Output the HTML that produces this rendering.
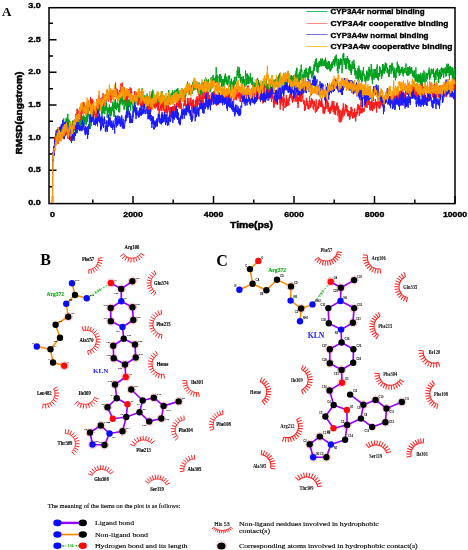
<!DOCTYPE html>
<html lang="en"><head><meta charset="utf-8"><title>Figure</title>
<style>html,body{margin:0;padding:0;background:#fff}svg{display:block}</style>
</head><body>
<svg width="468" height="550" viewBox="0 0 468 550">
<rect width="468" height="550" fill="#fff"/>
<rect x="49.0" y="7.7" width="406.0" height="195.9" fill="none" stroke="#000" stroke-width="1.5"/>
<path d="M49.0,186.7h4 M49.0,170.3h7.5 M49.0,154.0h4 M49.0,137.7h7.5 M49.0,121.3h4 M49.0,105.0h7.5 M49.0,88.7h4 M49.0,72.3h7.5 M49.0,56.0h4 M49.0,39.7h7.5 M49.0,23.3h4 M52.5,203.6v-7.5 M92.8,203.6v-4 M133.0,203.6v-7.5 M173.2,203.6v-4 M213.5,203.6v-7.5 M253.8,203.6v-4 M294.0,203.6v-7.5 M334.2,203.6v-4 M374.5,203.6v-7.5 M414.8,203.6v-4 M455.0,203.6v-7.5" stroke="#000" stroke-width="1.45" fill="none"/>
<g fill="none" stroke-linejoin="round" stroke-width="1.0">
<polyline stroke="#00a01e" points="52.5,203.0 52.6,179.5 52.7,160.4 52.8,157.2 52.9,155.5 53.1,152.5 53.2,154.7 53.3,155.2 53.4,151.8 53.5,154.6 53.6,158.3 53.7,155.5 53.8,151.0 54.0,151.6 54.1,150.9 54.2,151.6 54.3,147.8 54.4,147.9 54.5,143.6 54.6,146.3 54.7,140.0 54.8,141.5 55.0,141.9 55.1,145.4 55.2,139.3 55.3,138.2 55.4,135.3 55.5,137.1 55.6,137.5 55.7,133.1 55.9,136.4 56.0,138.2 56.1,137.5 56.2,137.2 56.3,142.1 56.4,137.9 56.5,139.4 56.6,143.3 56.7,131.7 56.9,135.5 57.0,133.0 57.1,129.1 57.2,133.1 57.3,131.7 57.4,136.5 57.5,135.2 57.6,134.5 57.8,131.5 57.9,136.8 58.0,130.8 58.1,133.4 58.2,129.3 58.3,132.8 58.4,137.2 58.5,129.4 58.7,136.4 58.8,134.2 58.9,135.7 59.0,140.8 59.1,136.3 59.2,137.9 59.3,131.8 59.4,132.0 59.5,135.2 59.7,129.9 59.8,129.4 59.9,131.7 60.0,138.1 60.1,135.2 60.2,131.2 60.3,136.4 60.4,129.9 60.6,128.1 60.7,131.3 60.8,129.9 60.9,132.1 61.0,133.8 61.1,132.9 61.2,131.9 61.3,128.4 61.4,130.0 61.6,129.8 61.7,132.6 61.8,128.0 61.9,127.1 62.0,127.1 62.1,131.3 62.2,132.6 62.3,130.3 62.5,126.5 62.6,128.2 62.7,129.9 62.8,132.8 62.9,128.0 63.0,125.5 63.1,131.3 63.2,123.5 63.3,125.4 63.5,126.6 63.6,131.1 63.7,118.5 63.8,128.2 63.9,122.9 64.0,122.3 64.1,126.6 64.2,126.5 64.4,128.4 64.5,123.5 64.6,124.1 64.7,125.5 64.8,124.6 64.9,121.9 65.0,125.8 65.1,126.3 65.2,128.5 65.4,125.2 65.5,127.7 65.6,125.9 65.7,127.5 65.8,126.2 65.9,127.3 66.0,122.3 66.1,118.5 66.3,122.8 66.4,119.7 66.5,120.2 66.6,120.5 66.7,123.2 66.8,118.2 66.9,117.6 67.0,121.2 67.2,120.2 67.3,121.9 67.4,125.1 67.5,123.4 67.6,127.9 67.7,125.9 67.8,113.9 67.9,121.0 68.0,119.1 68.2,121.0 68.3,121.7 68.4,123.8 68.5,122.5 68.6,126.7 68.7,122.7 68.8,125.2 68.9,124.8 69.1,119.7 69.2,124.9 69.3,124.7 69.4,120.9 69.5,124.4 69.6,129.0 69.7,123.3 69.8,122.9 69.9,121.8 70.1,130.4 70.2,130.3 70.3,125.8 70.4,122.4 70.5,126.2 70.6,127.5 70.7,129.7 70.8,129.7 71.0,125.9 71.1,128.5 71.2,129.1 71.3,131.5 71.4,126.5 71.5,129.4 71.6,133.3 71.7,127.1 71.8,127.7 72.0,126.5 72.1,123.8 72.2,123.2 72.3,128.9 72.4,122.9 72.5,120.7 72.6,122.0 72.7,127.2 72.9,127.2 73.0,124.2 73.1,126.8 73.2,122.2 73.3,124.4 73.4,121.9 73.5,122.2 73.6,120.6 73.7,124.7 73.9,123.5 74.0,126.8 74.1,125.9 74.2,130.3 74.3,128.3 74.4,129.6 74.5,126.3 74.6,125.2 74.8,129.6 74.9,127.4 75.0,131.3 75.1,130.4 75.2,126.6 75.3,124.9 75.4,125.3 75.5,122.7 75.7,127.8 75.8,125.0 75.9,128.5 76.0,122.9 76.1,126.2 76.2,124.1 76.3,133.4 76.4,126.4 76.5,128.6 76.7,124.8 76.8,128.2 76.9,128.3 77.0,124.6 77.1,126.1 77.2,125.9 77.3,126.0 77.4,128.5 77.6,124.6 77.7,127.5 77.8,120.6 77.9,123.4 78.0,126.1 78.1,121.4 78.2,124.6 78.3,122.2 78.4,123.4 78.6,128.1 78.7,125.8 78.8,129.4 78.9,126.7 79.0,123.6 79.1,122.8 79.2,119.2 79.3,126.1 79.5,122.4 79.6,124.1 79.7,124.8 79.8,124.0 79.9,128.8 80.0,128.1 80.1,126.6 80.2,125.0 80.3,127.0 80.5,127.0 80.6,121.9 80.7,120.4 80.8,119.4 80.9,123.7 81.0,122.9 81.1,122.6 81.2,120.6 81.4,120.5 81.5,121.1 81.6,115.2 81.7,124.4 81.8,118.8 81.9,124.0 82.0,124.4 82.1,122.9 82.2,122.9 82.4,122.5 82.5,119.3 82.6,118.6 82.7,123.3 82.8,116.8 82.9,115.9 83.0,117.2 83.1,121.3 83.3,117.6 83.4,117.8 83.5,119.0 83.6,121.9 83.7,114.9 83.8,115.8 83.9,119.7 84.0,117.2 84.1,121.7 84.3,121.6 84.4,123.7 84.5,116.8 84.6,122.6 84.7,123.9 84.8,119.5 84.9,119.9 85.0,121.2 85.2,119.4 85.3,120.0 85.4,119.7 85.5,117.0 85.6,119.2 85.7,118.4 85.8,117.1 85.9,121.9 86.1,125.3 86.2,122.0 86.3,117.1 86.4,123.8 86.5,121.5 86.6,116.1 86.7,117.7 86.8,115.5 86.9,120.5 87.1,114.1 87.2,117.0 87.3,112.1 87.4,117.0 87.5,121.8 87.6,118.6 87.7,110.0 87.8,113.6 88.0,115.0 88.1,115.0 88.2,112.1 88.3,111.9 88.4,113.0 88.5,112.4 88.6,110.6 88.7,115.1 88.8,115.4 89.0,116.8 89.1,114.0 89.2,118.1 89.3,118.8 89.4,118.7 89.5,116.6 89.6,118.9 89.7,121.0 89.9,117.9 90.0,121.7 90.1,127.7 90.2,126.1 90.3,126.3 90.4,129.0 90.5,127.3 90.6,122.7 90.7,121.5 90.9,124.8 91.0,122.3 91.1,120.8 91.2,125.8 91.3,117.9 91.4,121.1 91.5,119.1 91.6,120.6 91.8,119.5 91.9,122.1 92.0,120.2 92.1,117.6 92.2,113.6 92.3,114.1 92.4,111.8 92.5,114.1 92.6,113.4 92.8,106.3 92.9,106.9 93.0,107.0 93.1,113.0 93.2,117.5 93.3,113.8 93.4,115.5 93.5,119.4 93.7,112.5 93.8,113.1 93.9,115.2 94.0,106.2 94.1,110.9 94.2,113.4 94.3,108.3 94.4,111.9 94.6,107.6 94.7,108.5 94.8,113.5 94.9,110.8 95.0,114.9 95.1,114.0 95.2,114.4 95.3,113.7 95.4,115.6 95.6,116.2 95.7,118.8 95.8,113.6 95.9,118.0 96.0,120.3 96.1,113.7 96.2,115.9 96.3,109.0 96.5,115.2 96.6,113.7 96.7,111.6 96.8,114.4 96.9,108.0 97.0,107.4 97.1,110.2 97.2,107.7 97.3,106.9 97.5,107.7 97.6,111.3 97.7,110.1 97.8,111.1 97.9,105.3 98.0,113.9 98.1,110.6 98.2,112.5 98.4,109.4 98.5,109.7 98.6,112.8 98.7,110.6 98.8,112.7 98.9,108.7 99.0,107.7 99.1,106.2 99.2,106.3 99.4,103.1 99.5,105.5 99.6,107.9 99.7,105.7 99.8,106.4 99.9,110.9 100.0,108.3 100.1,109.9 100.3,108.6 100.4,108.0 100.5,106.1 100.6,104.6 100.7,106.6 100.8,106.1 100.9,107.7 101.0,108.5 101.1,106.0 101.3,107.4 101.4,107.4 101.5,105.8 101.6,112.8 101.7,112.3 101.8,107.7 101.9,114.1 102.0,115.3 102.2,111.7 102.3,111.6 102.4,113.8 102.5,107.5 102.6,110.6 102.7,105.8 102.8,111.1 102.9,111.1 103.1,108.2 103.2,112.7 103.3,108.4 103.4,109.9 103.5,105.5 103.6,113.1 103.7,105.5 103.8,113.2 103.9,111.3 104.1,109.5 104.2,107.2 104.3,107.1 104.4,108.1 104.5,109.9 104.6,108.7 104.7,109.6 104.8,114.2 105.0,109.5 105.1,108.3 105.2,110.5 105.3,105.9 105.4,108.6 105.5,107.7 105.6,107.0 105.7,108.8 105.8,107.3 106.0,103.8 106.1,107.6 106.2,101.9 106.3,101.7 106.4,106.8 106.5,109.4 106.6,103.9 106.7,110.5 106.9,110.5 107.0,110.3 107.1,112.7 107.2,118.0 107.3,114.8 107.4,116.3 107.5,110.7 107.6,111.2 107.7,107.5 107.9,108.5 108.0,111.6 108.1,112.4 108.2,110.0 108.3,107.7 108.4,110.3 108.5,109.9 108.6,111.8 108.8,110.5 108.9,112.6 109.0,109.2 109.1,110.0 109.2,110.7 109.3,115.8 109.4,104.5 109.5,108.8 109.6,107.8 109.8,112.9 109.9,111.3 110.0,108.1 110.1,108.2 110.2,110.8 110.3,107.0 110.4,108.7 110.5,112.9 110.7,116.7 110.8,113.3 110.9,107.6 111.0,111.2 111.1,110.7 111.2,109.4 111.3,115.3 111.4,110.9 111.5,109.9 111.7,111.4 111.8,112.0 111.9,109.4 112.0,106.2 112.1,108.7 112.2,111.0 112.3,108.2 112.4,110.0 112.6,102.8 112.7,106.8 112.8,104.4 112.9,101.5 113.0,106.1 113.1,109.2 113.2,107.9 113.3,104.4 113.5,109.1 113.6,110.1 113.7,111.5 113.8,110.8 113.9,112.7 114.0,116.2 114.1,110.7 114.2,116.9 114.3,102.9 114.5,105.9 114.6,106.7 114.7,107.0 114.8,108.0 114.9,105.5 115.0,104.4 115.1,100.1 115.2,105.2 115.4,99.0 115.5,108.6 115.6,108.9 115.7,105.8 115.8,107.1 115.9,107.3 116.0,107.1 116.1,106.5 116.2,108.4 116.4,107.2 116.5,106.8 116.6,109.9 116.7,107.1 116.8,105.6 116.9,106.9 117.0,102.9 117.1,105.9 117.3,100.7 117.4,105.1 117.5,107.8 117.6,105.2 117.7,101.4 117.8,103.3 117.9,103.2 118.0,106.6 118.1,106.3 118.3,107.8 118.4,107.9 118.5,105.2 118.6,107.3 118.7,112.2 118.8,104.1 118.9,107.3 119.0,106.8 119.2,103.5 119.3,106.6 119.4,107.7 119.5,103.2 119.6,101.1 119.7,112.4 119.8,106.6 119.9,96.9 120.0,100.2 120.2,102.5 120.3,101.9 120.4,98.1 120.5,103.9 120.6,100.8 120.7,99.8 120.8,104.4 120.9,101.2 121.1,96.6 121.2,100.1 121.3,100.6 121.4,99.3 121.5,102.0 121.6,100.9 121.7,100.2 121.8,96.6 122.0,102.3 122.1,99.7 122.2,98.6 122.3,102.8 122.4,105.1 122.5,99.5 122.6,95.1 122.7,100.0 122.8,99.1 123.0,102.8 123.1,103.7 123.2,103.9 123.3,103.5 123.4,99.9 123.5,104.3 123.6,103.9 123.7,103.4 123.9,103.3 124.0,104.3 124.1,109.6 124.2,105.8 124.3,109.1 124.4,109.4 124.5,106.8 124.6,106.6 124.7,105.6 124.9,96.0 125.0,102.2 125.1,101.7 125.2,94.6 125.3,102.7 125.4,98.2 125.5,101.6 125.6,105.4 125.8,104.2 125.9,105.1 126.0,106.1 126.1,104.3 126.2,99.3 126.3,103.8 126.4,101.0 126.5,107.5 126.6,110.3 126.8,104.8 126.9,104.6 127.0,112.0 127.1,107.5 127.2,103.9 127.3,101.5 127.4,103.2 127.5,102.0 127.7,106.2 127.8,102.9 127.9,104.3 128.0,104.3 128.1,102.8 128.2,100.9 128.3,103.4 128.4,105.9 128.5,107.1 128.7,100.2 128.8,103.5 128.9,100.6 129.0,100.7 129.1,98.9 129.2,102.3 129.3,103.2 129.4,100.4 129.6,101.1 129.7,106.1 129.8,107.1 129.9,103.4 130.0,102.7 130.1,101.5 130.2,104.0 130.3,104.3 130.5,111.0 130.6,103.7 130.7,105.9 130.8,107.7 130.9,103.2 131.0,103.6 131.1,96.2 131.2,100.3 131.3,103.0 131.5,101.7 131.6,103.5 131.7,98.5 131.8,102.6 131.9,102.2 132.0,103.4 132.1,104.1 132.2,104.8 132.4,102.9 132.5,103.1 132.6,97.9 132.7,102.1 132.8,101.9 132.9,108.0 133.0,107.4 133.1,112.1 133.2,105.6 133.4,108.4 133.5,111.7 133.6,111.2 133.7,104.9 133.8,108.5 133.9,101.9 134.0,102.7 134.1,107.1 134.3,102.2 134.4,105.0 134.5,105.4 134.6,101.3 134.7,97.0 134.8,100.7 134.9,103.3 135.0,99.5 135.1,99.9 135.3,101.7 135.4,99.0 135.5,96.3 135.6,98.3 135.7,103.7 135.8,104.6 135.9,103.8 136.0,102.3 136.2,93.3 136.3,97.3 136.4,96.9 136.5,94.9 136.6,96.7 136.7,98.9 136.8,94.5 136.9,96.2 137.0,94.7 137.2,99.1 137.3,99.5 137.4,98.6 137.5,94.6 137.6,95.1 137.7,96.8 137.8,101.8 137.9,101.0 138.1,99.5 138.2,99.3 138.3,95.2 138.4,96.6 138.5,98.1 138.6,95.9 138.7,95.2 138.8,99.9 138.9,95.5 139.1,99.5 139.2,97.1 139.3,93.1 139.4,96.4 139.5,97.9 139.6,98.2 139.7,95.7 139.8,93.0 140.0,98.1 140.1,96.2 140.2,95.5 140.3,97.1 140.4,96.2 140.5,92.4 140.6,92.3 140.7,95.5 140.9,91.6 141.0,96.8 141.1,96.9 141.2,96.1 141.3,92.7 141.4,92.6 141.5,97.4 141.6,98.8 141.7,98.6 141.9,94.2 142.0,96.6 142.1,94.4 142.2,88.2 142.3,92.6 142.4,89.5 142.5,95.1 142.6,93.6 142.8,100.5 142.9,102.0 143.0,101.0 143.1,100.6 143.2,105.6 143.3,104.9 143.4,98.9 143.5,107.6 143.6,102.0 143.8,96.8 143.9,99.1 144.0,97.2 144.1,102.4 144.2,101.5 144.3,98.4 144.4,100.5 144.5,96.5 144.7,95.7 144.8,95.1 144.9,95.4 145.0,103.5 145.1,106.5 145.2,101.6 145.3,99.9 145.4,97.2 145.5,101.1 145.7,104.4 145.8,106.4 145.9,100.8 146.0,99.8 146.1,97.3 146.2,103.9 146.3,104.2 146.4,99.0 146.6,99.5 146.7,99.0 146.8,96.2 146.9,99.3 147.0,93.7 147.1,94.2 147.2,94.4 147.3,94.9 147.4,96.0 147.6,99.8 147.7,97.2 147.8,99.1 147.9,101.1 148.0,104.8 148.1,102.8 148.2,106.8 148.3,105.7 148.5,107.2 148.6,100.9 148.7,101.6 148.8,103.7 148.9,99.5 149.0,96.7 149.1,102.9 149.2,103.9 149.4,102.7 149.5,103.4 149.6,100.7 149.7,106.3 149.8,101.0 149.9,95.5 150.0,99.8 150.1,97.8 150.2,105.8 150.4,105.7 150.5,99.2 150.6,103.7 150.7,101.8 150.8,100.4 150.9,97.8 151.0,98.8 151.1,94.8 151.3,98.5 151.4,94.6 151.5,98.0 151.6,93.5 151.7,95.5 151.8,99.7 151.9,100.2 152.0,98.2 152.1,91.1 152.3,98.3 152.4,94.7 152.5,93.3 152.6,95.1 152.7,92.1 152.8,89.7 152.9,92.5 153.0,91.5 153.2,93.9 153.3,92.8 153.4,92.7 153.5,98.1 153.6,95.4 153.7,94.4 153.8,94.9 153.9,93.9 154.0,94.6 154.2,98.7 154.3,101.4 154.4,102.5 154.5,101.7 154.6,101.9 154.7,103.7 154.8,101.8 154.9,103.4 155.1,101.8 155.2,101.7 155.3,101.8 155.4,100.7 155.5,101.1 155.6,101.9 155.7,100.1 155.8,97.6 155.9,95.3 156.1,102.4 156.2,100.2 156.3,101.8 156.4,100.8 156.5,98.8 156.6,101.2 156.7,99.8 156.8,95.3 157.0,95.6 157.1,98.5 157.2,100.2 157.3,96.6 157.4,95.7 157.5,101.0 157.6,99.6 157.7,104.1 157.9,103.3 158.0,102.1 158.1,106.9 158.2,99.6 158.3,100.0 158.4,98.6 158.5,98.5 158.6,103.3 158.7,101.0 158.9,101.5 159.0,99.6 159.1,100.2 159.2,103.0 159.3,104.9 159.4,103.1 159.5,96.9 159.6,101.8 159.8,102.1 159.9,98.6 160.0,98.9 160.1,97.6 160.2,98.5 160.3,99.5 160.4,97.4 160.5,96.6 160.6,95.0 160.8,96.1 160.9,98.7 161.0,99.4 161.1,98.4 161.2,101.1 161.3,97.6 161.4,98.5 161.5,95.9 161.7,94.9 161.8,102.5 161.9,94.6 162.0,91.1 162.1,101.4 162.2,96.4 162.3,95.8 162.4,106.4 162.5,100.7 162.7,100.5 162.8,102.5 162.9,97.4 163.0,102.0 163.1,101.7 163.2,101.9 163.3,99.6 163.4,99.4 163.6,96.7 163.7,100.4 163.8,97.9 163.9,96.0 164.0,97.1 164.1,95.4 164.2,95.3 164.3,98.7 164.4,100.4 164.6,102.1 164.7,99.4 164.8,105.1 164.9,101.0 165.0,101.3 165.1,99.6 165.2,103.3 165.3,100.6 165.5,102.2 165.6,108.5 165.7,110.7 165.8,109.1 165.9,104.5 166.0,104.0 166.1,103.9 166.2,98.5 166.3,100.4 166.5,97.9 166.6,102.6 166.7,99.8 166.8,100.1 166.9,97.3 167.0,103.6 167.1,100.8 167.2,100.8 167.4,101.1 167.5,99.6 167.6,98.6 167.7,99.1 167.8,96.1 167.9,99.8 168.0,99.1 168.1,99.1 168.3,95.6 168.4,93.2 168.5,95.8 168.6,91.3 168.7,94.0 168.8,90.1 168.9,93.5 169.0,96.4 169.1,97.8 169.3,103.8 169.4,100.6 169.5,103.6 169.6,102.1 169.7,99.4 169.8,103.5 169.9,99.4 170.0,103.6 170.2,104.7 170.3,100.5 170.4,104.5 170.5,102.8 170.6,98.7 170.7,99.5 170.8,96.6 170.9,97.5 171.0,93.8 171.2,93.2 171.3,95.2 171.4,94.8 171.5,98.6 171.6,96.2 171.7,96.4 171.8,100.0 171.9,100.1 172.1,93.8 172.2,94.8 172.3,92.0 172.4,93.5 172.5,90.3 172.6,91.8 172.7,95.3 172.8,98.1 172.9,98.4 173.1,98.2 173.2,97.6 173.3,94.9 173.4,97.2 173.5,97.9 173.6,99.4 173.7,92.0 173.8,92.6 174.0,96.8 174.1,97.5 174.2,97.4 174.3,95.2 174.4,91.8 174.5,98.2 174.6,91.9 174.7,97.6 174.8,93.7 175.0,89.9 175.1,93.5 175.2,91.3 175.3,99.3 175.4,97.4 175.5,97.6 175.6,98.6 175.7,96.6 175.9,93.2 176.0,92.6 176.1,93.8 176.2,91.3 176.3,92.1 176.4,91.2 176.5,91.4 176.6,89.0 176.8,90.0 176.9,91.0 177.0,95.3 177.1,95.2 177.2,95.2 177.3,96.6 177.4,96.2 177.5,88.5 177.6,90.2 177.8,88.0 177.9,92.7 178.0,91.0 178.1,90.5 178.2,93.8 178.3,92.0 178.4,96.7 178.5,94.3 178.7,93.5 178.8,94.4 178.9,97.5 179.0,93.8 179.1,97.7 179.2,97.6 179.3,95.2 179.4,100.1 179.5,102.1 179.7,97.9 179.8,102.6 179.9,96.4 180.0,93.9 180.1,90.5 180.2,96.5 180.3,92.8 180.4,97.1 180.6,93.6 180.7,93.8 180.8,93.9 180.9,91.0 181.0,93.3 181.1,91.7 181.2,94.2 181.3,91.5 181.4,96.1 181.6,96.4 181.7,96.7 181.8,94.4 181.9,91.6 182.0,95.1 182.1,97.9 182.2,88.2 182.3,96.7 182.5,99.1 182.6,99.7 182.7,93.0 182.8,92.5 182.9,89.5 183.0,94.4 183.1,92.7 183.2,94.0 183.3,95.5 183.5,89.9 183.6,94.1 183.7,94.9 183.8,94.0 183.9,92.3 184.0,96.2 184.1,95.6 184.2,96.9 184.4,92.7 184.5,92.0 184.6,93.2 184.7,91.9 184.8,97.4 184.9,93.9 185.0,100.1 185.1,96.6 185.3,95.6 185.4,92.4 185.5,92.8 185.6,92.6 185.7,94.4 185.8,96.3 185.9,91.0 186.0,93.3 186.1,88.0 186.3,92.9 186.4,85.8 186.5,89.7 186.6,85.7 186.7,89.7 186.8,88.7 186.9,92.9 187.0,92.7 187.2,89.6 187.3,88.4 187.4,88.5 187.5,81.7 187.6,86.0 187.7,85.6 187.8,88.0 187.9,85.9 188.0,86.7 188.2,87.2 188.3,87.7 188.4,88.0 188.5,86.8 188.6,85.2 188.7,89.3 188.8,89.5 188.9,91.8 189.1,94.9 189.2,91.3 189.3,92.0 189.4,90.5 189.5,88.1 189.6,87.4 189.7,90.9 189.8,92.1 189.9,89.9 190.1,88.3 190.2,90.8 190.3,90.5 190.4,89.4 190.5,87.7 190.6,90.4 190.7,92.9 190.8,85.8 191.0,91.2 191.1,89.6 191.2,86.6 191.3,89.3 191.4,91.3 191.5,89.5 191.6,92.3 191.7,84.9 191.8,86.7 192.0,90.0 192.1,93.8 192.2,89.7 192.3,86.5 192.4,88.6 192.5,82.4 192.6,87.0 192.7,85.8 192.9,86.6 193.0,86.1 193.1,82.1 193.2,86.5 193.3,88.3 193.4,82.9 193.5,80.5 193.6,90.7 193.7,88.3 193.9,87.2 194.0,88.8 194.1,89.9 194.2,83.7 194.3,85.7 194.4,80.8 194.5,80.9 194.6,79.5 194.8,78.4 194.9,82.5 195.0,81.3 195.1,84.0 195.2,84.5 195.3,85.5 195.4,85.9 195.5,85.6 195.7,89.8 195.8,86.9 195.9,84.7 196.0,87.2 196.1,88.1 196.2,89.0 196.3,86.5 196.4,85.3 196.5,81.1 196.7,83.6 196.8,84.6 196.9,89.4 197.0,85.1 197.1,87.7 197.2,87.6 197.3,83.0 197.4,83.3 197.6,82.3 197.7,89.3 197.8,90.3 197.9,88.3 198.0,92.5 198.1,88.4 198.2,90.8 198.3,94.3 198.4,95.0 198.6,90.9 198.7,90.8 198.8,88.2 198.9,82.5 199.0,85.6 199.1,84.7 199.2,88.4 199.3,90.9 199.5,93.4 199.6,86.0 199.7,95.0 199.8,94.3 199.9,91.6 200.0,86.2 200.1,87.5 200.2,90.3 200.3,89.9 200.5,92.1 200.6,94.0 200.7,95.6 200.8,90.7 200.9,89.1 201.0,87.5 201.1,87.1 201.2,94.7 201.4,83.7 201.5,82.5 201.6,88.4 201.7,88.8 201.8,81.8 201.9,84.1 202.0,84.0 202.1,93.2 202.2,86.3 202.4,87.2 202.5,88.6 202.6,91.9 202.7,92.8 202.8,86.1 202.9,82.8 203.0,86.8 203.1,82.2 203.3,88.8 203.4,90.4 203.5,84.0 203.6,86.4 203.7,86.1 203.8,89.8 203.9,87.4 204.0,85.8 204.2,84.8 204.3,85.9 204.4,83.7 204.5,82.6 204.6,79.8 204.7,83.2 204.8,85.2 204.9,79.7 205.0,84.1 205.2,84.0 205.3,82.6 205.4,84.0 205.5,82.2 205.6,84.6 205.7,77.5 205.8,82.3 205.9,86.5 206.1,87.2 206.2,82.6 206.3,79.0 206.4,81.4 206.5,85.9 206.6,86.1 206.7,87.5 206.8,89.4 206.9,83.7 207.1,84.9 207.2,85.8 207.3,89.0 207.4,90.3 207.5,85.7 207.6,83.9 207.7,85.5 207.8,84.1 208.0,81.0 208.1,80.3 208.2,82.0 208.3,79.2 208.4,87.7 208.5,87.3 208.6,83.6 208.7,86.2 208.8,87.9 209.0,87.2 209.1,84.9 209.2,89.6 209.3,86.1 209.4,88.5 209.5,87.6 209.6,91.0 209.7,86.9 209.9,88.6 210.0,89.0 210.1,89.8 210.2,89.4 210.3,92.2 210.4,89.9 210.5,86.8 210.6,86.3 210.7,82.1 210.9,78.9 211.0,84.2 211.1,77.7 211.2,82.8 211.3,79.5 211.4,77.5 211.5,85.9 211.6,84.1 211.8,82.7 211.9,87.2 212.0,81.8 212.1,79.2 212.2,86.9 212.3,86.0 212.4,83.0 212.5,82.4 212.7,87.6 212.8,86.6 212.9,82.9 213.0,75.0 213.1,81.5 213.2,81.8 213.3,80.6 213.4,76.6 213.5,82.8 213.7,78.5 213.8,78.2 213.9,81.5 214.0,80.5 214.1,81.4 214.2,79.1 214.3,78.1 214.4,82.8 214.6,79.6 214.7,78.1 214.8,81.3 214.9,82.4 215.0,82.5 215.1,81.6 215.2,81.1 215.3,78.7 215.4,81.8 215.6,77.1 215.7,79.6 215.8,83.3 215.9,77.2 216.0,75.8 216.1,79.1 216.2,67.1 216.3,81.7 216.5,81.1 216.6,82.3 216.7,78.8 216.8,81.1 216.9,82.9 217.0,79.9 217.1,74.7 217.2,76.1 217.3,79.3 217.5,77.2 217.6,76.4 217.7,77.3 217.8,77.4 217.9,82.2 218.0,83.6 218.1,84.7 218.2,86.3 218.4,87.1 218.5,85.6 218.6,89.9 218.7,88.4 218.8,83.1 218.9,82.4 219.0,84.7 219.1,76.1 219.2,77.8 219.4,77.1 219.5,81.5 219.6,77.0 219.7,74.9 219.8,76.0 219.9,74.0 220.0,76.9 220.1,74.3 220.3,79.0 220.4,81.3 220.5,77.5 220.6,79.3 220.7,82.6 220.8,82.3 220.9,79.3 221.0,75.8 221.1,76.8 221.3,76.6 221.4,77.7 221.5,80.8 221.6,83.0 221.7,85.8 221.8,87.1 221.9,84.1 222.0,84.7 222.2,86.1 222.3,86.1 222.4,83.0 222.5,84.3 222.6,79.0 222.7,84.1 222.8,82.3 222.9,81.3 223.1,82.2 223.2,83.0 223.3,78.9 223.4,81.3 223.5,82.9 223.6,85.6 223.7,80.3 223.8,80.9 223.9,86.8 224.1,84.8 224.2,84.0 224.3,82.9 224.4,81.0 224.5,81.2 224.6,75.8 224.7,77.2 224.8,81.7 225.0,82.8 225.1,75.8 225.2,75.6 225.3,73.5 225.4,77.8 225.5,80.0 225.6,81.8 225.7,79.8 225.8,80.0 226.0,81.9 226.1,76.9 226.2,79.7 226.3,79.2 226.4,84.4 226.5,83.1 226.6,80.6 226.7,80.4 226.9,76.7 227.0,81.2 227.1,81.1 227.2,81.0 227.3,82.1 227.4,82.0 227.5,83.7 227.6,85.2 227.7,80.4 227.9,79.6 228.0,82.6 228.1,82.0 228.2,83.8 228.3,82.5 228.4,78.9 228.5,76.1 228.6,76.5 228.8,77.6 228.9,75.4 229.0,77.7 229.1,76.0 229.2,79.3 229.3,79.0 229.4,79.0 229.5,75.5 229.6,75.6 229.8,78.3 229.9,83.0 230.0,87.1 230.1,85.2 230.2,83.7 230.3,83.8 230.4,81.2 230.5,84.8 230.7,91.3 230.8,86.4 230.9,87.7 231.0,89.3 231.1,89.7 231.2,85.3 231.3,87.0 231.4,78.6 231.6,87.8 231.7,83.6 231.8,89.1 231.9,81.9 232.0,84.6 232.1,84.3 232.2,86.2 232.3,86.6 232.4,84.1 232.6,86.6 232.7,85.3 232.8,83.0 232.9,89.0 233.0,83.8 233.1,81.3 233.2,82.4 233.3,84.7 233.5,82.5 233.6,83.4 233.7,82.7 233.8,80.1 233.9,88.5 234.0,82.4 234.1,84.9 234.2,82.6 234.3,77.4 234.5,76.9 234.6,80.0 234.7,79.7 234.8,80.3 234.9,82.4 235.0,82.7 235.1,84.6 235.2,83.9 235.4,84.0 235.5,83.7 235.6,81.1 235.7,82.3 235.8,81.8 235.9,81.2 236.0,76.7 236.1,78.4 236.2,79.2 236.4,76.8 236.5,80.4 236.6,81.1 236.7,79.3 236.8,76.3 236.9,75.1 237.0,71.1 237.1,71.2 237.3,72.2 237.4,69.7 237.5,69.6 237.6,75.6 237.7,73.9 237.8,72.5 237.9,66.5 238.0,70.6 238.1,70.8 238.3,74.6 238.4,77.9 238.5,71.2 238.6,72.6 238.7,70.3 238.8,71.3 238.9,69.9 239.0,70.1 239.2,75.5 239.3,73.5 239.4,67.4 239.5,70.3 239.6,69.1 239.7,72.5 239.8,77.8 239.9,73.9 240.1,74.6 240.2,74.1 240.3,81.0 240.4,76.9 240.5,81.8 240.6,82.9 240.7,79.3 240.8,79.7 240.9,82.3 241.1,80.7 241.2,82.1 241.3,80.7 241.4,76.9 241.5,77.8 241.6,77.9 241.7,84.5 241.8,83.1 242.0,83.0 242.1,82.7 242.2,79.3 242.3,83.2 242.4,83.8 242.5,81.5 242.6,82.7 242.7,84.2 242.8,80.0 243.0,76.7 243.1,83.2 243.2,81.2 243.3,76.0 243.4,82.3 243.5,79.6 243.6,82.9 243.7,80.3 243.9,79.5 244.0,81.8 244.1,82.6 244.2,83.5 244.3,81.3 244.4,80.9 244.5,85.5 244.6,84.5 244.7,79.3 244.9,86.8 245.0,83.1 245.1,81.7 245.2,81.5 245.3,81.3 245.4,78.3 245.5,70.5 245.6,74.1 245.8,74.4 245.9,73.0 246.0,74.9 246.1,76.5 246.2,78.4 246.3,84.3 246.4,85.5 246.5,83.2 246.6,79.8 246.8,78.4 246.9,77.6 247.0,76.6 247.1,74.2 247.2,76.3 247.3,74.0 247.4,73.7 247.5,75.9 247.7,83.6 247.8,77.9 247.9,81.2 248.0,81.0 248.1,84.1 248.2,76.1 248.3,75.4 248.4,76.1 248.5,78.5 248.7,79.2 248.8,79.1 248.9,84.1 249.0,80.7 249.1,80.9 249.2,78.2 249.3,77.1 249.4,78.4 249.6,80.5 249.7,82.7 249.8,79.5 249.9,80.5 250.0,76.9 250.1,77.8 250.2,77.9 250.3,73.1 250.5,77.7 250.6,77.1 250.7,79.1 250.8,80.0 250.9,82.5 251.0,78.7 251.1,77.9 251.2,81.4 251.3,82.6 251.5,84.4 251.6,83.1 251.7,84.1 251.8,84.5 251.9,80.8 252.0,82.4 252.1,77.5 252.2,77.7 252.4,77.5 252.5,79.4 252.6,81.6 252.7,84.6 252.8,88.7 252.9,85.4 253.0,82.0 253.1,89.3 253.2,86.2 253.4,86.1 253.5,86.9 253.6,90.1 253.7,93.0 253.8,89.1 253.9,90.3 254.0,90.0 254.1,94.5 254.3,92.3 254.4,88.6 254.5,88.1 254.6,85.8 254.7,82.7 254.8,89.8 254.9,87.0 255.0,90.9 255.1,85.5 255.3,83.2 255.4,86.8 255.5,88.5 255.6,91.2 255.7,92.0 255.8,88.6 255.9,91.3 256.0,91.4 256.2,87.9 256.3,86.4 256.4,79.5 256.5,84.0 256.6,79.4 256.7,83.2 256.8,82.2 256.9,81.1 257.0,81.6 257.2,82.8 257.3,83.6 257.4,84.1 257.5,85.2 257.6,78.0 257.7,80.9 257.8,79.8 257.9,80.9 258.1,84.3 258.2,83.5 258.3,80.2 258.4,80.1 258.5,83.4 258.6,82.1 258.7,85.2 258.8,82.9 259.0,82.3 259.1,83.7 259.2,85.5 259.3,85.7 259.4,87.1 259.5,83.4 259.6,83.8 259.7,84.8 259.8,86.6 260.0,89.5 260.1,85.8 260.2,84.1 260.3,90.9 260.4,84.9 260.5,87.4 260.6,87.7 260.7,88.2 260.9,87.2 261.0,86.0 261.1,86.2 261.2,88.8 261.3,93.3 261.4,92.9 261.5,88.4 261.6,86.1 261.7,90.2 261.9,85.7 262.0,88.1 262.1,87.1 262.2,89.8 262.3,90.9 262.4,87.5 262.5,89.4 262.6,88.4 262.8,84.2 262.9,81.4 263.0,85.2 263.1,86.7 263.2,81.8 263.3,87.3 263.4,89.2 263.5,90.4 263.6,91.7 263.8,89.1 263.9,90.6 264.0,85.7 264.1,88.9 264.2,89.4 264.3,88.2 264.4,94.3 264.5,91.4 264.7,82.1 264.8,85.1 264.9,85.3 265.0,84.1 265.1,84.5 265.2,80.7 265.3,80.3 265.4,79.3 265.5,80.3 265.7,86.9 265.8,83.4 265.9,85.6 266.0,88.3 266.1,84.0 266.2,83.3 266.3,78.7 266.4,86.5 266.6,89.2 266.7,82.4 266.8,88.7 266.9,90.8 267.0,91.2 267.1,91.1 267.2,87.9 267.3,89.0 267.4,84.0 267.6,85.5 267.7,86.7 267.8,91.0 267.9,86.6 268.0,88.5 268.1,87.1 268.2,85.8 268.3,88.4 268.5,87.9 268.6,83.7 268.7,88.9 268.8,88.8 268.9,88.4 269.0,91.0 269.1,87.7 269.2,93.4 269.4,85.0 269.5,85.8 269.6,85.8 269.7,83.9 269.8,91.3 269.9,86.4 270.0,85.1 270.1,86.2 270.2,83.8 270.4,87.8 270.5,87.0 270.6,86.5 270.7,87.1 270.8,81.8 270.9,84.7 271.0,84.7 271.1,88.5 271.3,85.4 271.4,80.3 271.5,83.9 271.6,86.3 271.7,82.9 271.8,82.2 271.9,84.6 272.0,82.7 272.1,85.0 272.3,84.5 272.4,81.7 272.5,87.1 272.6,84.3 272.7,91.1 272.8,94.9 272.9,88.0 273.0,89.2 273.2,87.9 273.3,88.2 273.4,87.2 273.5,88.8 273.6,85.1 273.7,84.8 273.8,84.9 273.9,84.7 274.0,79.5 274.2,80.0 274.3,87.0 274.4,86.0 274.5,88.4 274.6,81.0 274.7,81.0 274.8,81.2 274.9,83.3 275.1,82.3 275.2,82.2 275.3,87.7 275.4,80.8 275.5,79.2 275.6,80.3 275.7,85.8 275.8,84.3 275.9,82.6 276.1,81.3 276.2,80.7 276.3,81.4 276.4,82.0 276.5,84.6 276.6,85.1 276.7,86.5 276.8,80.9 277.0,78.5 277.1,77.2 277.2,80.9 277.3,81.6 277.4,80.3 277.5,84.8 277.6,81.2 277.7,82.5 277.9,80.4 278.0,78.5 278.1,81.7 278.2,79.6 278.3,77.2 278.4,76.8 278.5,75.5 278.6,75.9 278.7,78.4 278.9,82.0 279.0,80.0 279.1,79.8 279.2,76.0 279.3,74.5 279.4,73.5 279.5,78.3 279.6,79.9 279.8,87.4 279.9,82.3 280.0,80.8 280.1,74.7 280.2,79.2 280.3,78.1 280.4,79.0 280.5,75.9 280.6,82.2 280.8,81.4 280.9,79.8 281.0,77.1 281.1,81.5 281.2,78.3 281.3,80.8 281.4,79.5 281.5,83.7 281.7,80.5 281.8,79.3 281.9,83.5 282.0,82.2 282.1,79.8 282.2,77.2 282.3,79.3 282.4,81.2 282.5,78.4 282.7,78.4 282.8,76.9 282.9,76.1 283.0,78.6 283.1,83.6 283.2,83.5 283.3,78.6 283.4,73.2 283.6,79.8 283.7,81.2 283.8,83.1 283.9,78.9 284.0,80.6 284.1,82.4 284.2,83.6 284.3,80.3 284.4,89.0 284.6,88.2 284.7,84.4 284.8,82.1 284.9,82.4 285.0,80.3 285.1,76.1 285.2,83.2 285.3,87.0 285.5,82.6 285.6,81.8 285.7,82.6 285.8,86.7 285.9,88.6 286.0,80.1 286.1,81.6 286.2,81.0 286.4,86.1 286.5,78.2 286.6,80.5 286.7,81.3 286.8,87.0 286.9,80.9 287.0,81.1 287.1,79.3 287.2,87.9 287.4,83.6 287.5,82.8 287.6,82.5 287.7,76.2 287.8,73.6 287.9,74.9 288.0,71.8 288.1,72.2 288.3,72.9 288.4,71.1 288.5,76.5 288.6,76.3 288.7,80.0 288.8,74.9 288.9,74.5 289.0,74.5 289.1,77.7 289.3,79.8 289.4,79.2 289.5,80.0 289.6,78.5 289.7,85.6 289.8,83.6 289.9,78.8 290.0,78.7 290.2,79.2 290.3,80.8 290.4,81.1 290.5,81.3 290.6,81.6 290.7,79.8 290.8,78.1 290.9,75.6 291.0,82.6 291.2,75.1 291.3,77.6 291.4,77.9 291.5,82.1 291.6,83.1 291.7,78.5 291.8,85.7 291.9,79.6 292.1,81.8 292.2,80.1 292.3,81.0 292.4,77.7 292.5,76.9 292.6,79.9 292.7,78.2 292.8,80.1 292.9,84.2 293.1,75.9 293.2,82.1 293.3,78.4 293.4,82.6 293.5,78.8 293.6,76.7 293.7,75.2 293.8,79.2 294.0,76.8 294.1,78.0 294.2,78.9 294.3,77.0 294.4,77.2 294.5,78.6 294.6,76.1 294.7,82.1 294.8,81.6 295.0,76.2 295.1,74.9 295.2,74.4 295.3,75.1 295.4,74.6 295.5,76.7 295.6,76.0 295.7,74.5 295.9,76.9 296.0,70.8 296.1,78.1 296.2,73.4 296.3,73.7 296.4,75.8 296.5,78.3 296.6,76.8 296.8,67.7 296.9,70.7 297.0,68.9 297.1,76.0 297.2,76.0 297.3,78.2 297.4,75.1 297.5,79.0 297.6,78.5 297.8,78.1 297.9,77.9 298.0,79.4 298.1,81.2 298.2,81.5 298.3,80.2 298.4,80.8 298.5,81.6 298.7,77.8 298.8,78.0 298.9,84.0 299.0,74.1 299.1,82.0 299.2,72.7 299.3,72.4 299.4,76.8 299.5,77.3 299.7,73.1 299.8,74.2 299.9,72.1 300.0,75.1 300.1,73.5 300.2,73.6 300.3,69.2 300.4,79.7 300.6,77.1 300.7,71.8 300.8,72.3 300.9,70.2 301.0,69.3 301.1,66.8 301.2,64.7 301.3,66.8 301.4,68.7 301.6,71.9 301.7,71.5 301.8,69.9 301.9,70.6 302.0,75.1 302.1,80.4 302.2,77.8 302.3,74.7 302.5,80.4 302.6,74.6 302.7,79.9 302.8,75.2 302.9,80.2 303.0,78.5 303.1,76.8 303.2,74.1 303.3,75.9 303.5,81.7 303.6,80.5 303.7,81.3 303.8,75.9 303.9,75.8 304.0,76.6 304.1,71.9 304.2,74.2 304.4,77.4 304.5,74.7 304.6,69.8 304.7,72.5 304.8,71.4 304.9,75.1 305.0,74.9 305.1,77.6 305.3,78.2 305.4,77.0 305.5,73.3 305.6,69.7 305.7,73.1 305.8,69.5 305.9,69.8 306.0,67.7 306.1,68.3 306.3,72.8 306.4,72.1 306.5,72.4 306.6,69.0 306.7,73.8 306.8,77.2 306.9,74.9 307.0,72.6 307.2,76.7 307.3,74.8 307.4,76.5 307.5,79.6 307.6,75.9 307.7,77.1 307.8,79.3 307.9,72.4 308.0,73.2 308.2,72.3 308.3,76.1 308.4,73.9 308.5,68.4 308.6,74.1 308.7,78.2 308.8,72.7 308.9,73.3 309.1,74.7 309.2,72.0 309.3,74.1 309.4,69.5 309.5,73.9 309.6,66.2 309.7,69.1 309.8,69.8 309.9,70.0 310.1,71.1 310.2,70.2 310.3,71.6 310.4,72.8 310.5,72.9 310.6,66.8 310.7,73.4 310.8,70.3 311.0,71.6 311.1,72.8 311.2,73.5 311.3,71.9 311.4,75.8 311.5,76.3 311.6,74.9 311.7,71.1 311.8,74.8 312.0,78.5 312.1,71.9 312.2,72.0 312.3,72.7 312.4,71.8 312.5,75.7 312.6,75.4 312.7,71.8 312.9,71.5 313.0,70.4 313.1,71.9 313.2,75.4 313.3,74.8 313.4,69.5 313.5,67.9 313.6,68.8 313.8,67.7 313.9,69.0 314.0,68.4 314.1,64.3 314.2,68.0 314.3,71.1 314.4,65.5 314.5,66.6 314.6,65.7 314.8,67.1 314.9,63.8 315.0,62.5 315.1,64.8 315.2,61.6 315.3,61.2 315.4,66.9 315.5,59.2 315.7,62.9 315.8,66.5 315.9,63.8 316.0,59.6 316.1,61.5 316.2,60.8 316.3,62.0 316.4,58.2 316.5,59.6 316.7,65.4 316.8,68.4 316.9,66.3 317.0,71.9 317.1,66.9 317.2,67.6 317.3,63.3 317.4,65.4 317.6,65.0 317.7,71.8 317.8,64.7 317.9,68.7 318.0,73.0 318.1,70.4 318.2,70.0 318.3,68.9 318.4,69.2 318.6,64.9 318.7,65.6 318.8,66.6 318.9,63.5 319.0,61.8 319.1,65.2 319.2,61.7 319.3,65.7 319.5,61.1 319.6,67.2 319.7,61.2 319.8,65.6 319.9,64.6 320.0,62.0 320.1,63.2 320.2,61.5 320.3,65.4 320.5,61.5 320.6,64.0 320.7,58.6 320.8,62.8 320.9,61.2 321.0,62.7 321.1,61.8 321.2,66.5 321.4,62.8 321.5,65.1 321.6,60.1 321.7,64.1 321.8,60.2 321.9,58.7 322.0,62.8 322.1,59.5 322.2,60.1 322.4,58.7 322.5,62.5 322.6,62.2 322.7,59.2 322.8,61.2 322.9,66.2 323.0,60.8 323.1,65.0 323.3,65.4 323.4,64.2 323.5,65.7 323.6,62.8 323.7,65.6 323.8,65.9 323.9,65.3 324.0,63.0 324.2,60.9 324.3,61.4 324.4,65.7 324.5,60.3 324.6,64.1 324.7,60.8 324.8,65.8 324.9,61.0 325.0,59.7 325.2,60.5 325.3,62.4 325.4,61.5 325.5,57.7 325.6,62.4 325.7,61.4 325.8,67.7 325.9,60.1 326.1,64.7 326.2,67.1 326.3,68.0 326.4,63.2 326.5,69.1 326.6,69.0 326.7,67.1 326.8,65.5 326.9,65.3 327.1,67.8 327.2,66.7 327.3,63.7 327.4,66.6 327.5,63.7 327.6,69.5 327.7,66.1 327.8,61.8 328.0,66.7 328.1,63.1 328.2,69.0 328.3,63.2 328.4,64.1 328.5,65.3 328.6,63.3 328.7,62.0 328.8,61.1 329.0,65.8 329.1,62.0 329.2,63.0 329.3,69.6 329.4,61.3 329.5,62.4 329.6,69.0 329.7,65.7 329.9,68.0 330.0,69.8 330.1,71.3 330.2,71.0 330.3,69.2 330.4,65.8 330.5,67.3 330.6,71.3 330.7,64.4 330.9,69.2 331.0,70.1 331.1,66.3 331.2,68.4 331.3,66.4 331.4,67.7 331.5,64.7 331.6,65.9 331.8,62.3 331.9,63.3 332.0,64.1 332.1,65.6 332.2,66.4 332.3,63.7 332.4,67.8 332.5,67.2 332.7,67.9 332.8,65.9 332.9,65.4 333.0,60.7 333.1,63.8 333.2,61.1 333.3,61.5 333.4,59.6 333.5,61.8 333.7,64.4 333.8,59.8 333.9,64.2 334.0,62.9 334.1,61.0 334.2,60.1 334.3,64.6 334.4,59.1 334.6,62.6 334.7,61.0 334.8,66.4 334.9,60.8 335.0,57.4 335.1,63.2 335.2,56.1 335.3,59.8 335.4,57.6 335.6,62.4 335.7,61.3 335.8,59.8 335.9,57.9 336.0,60.8 336.1,59.2 336.2,54.6 336.3,60.2 336.5,62.2 336.6,57.6 336.7,59.5 336.8,60.6 336.9,58.8 337.0,63.1 337.1,65.5 337.2,62.2 337.3,70.9 337.5,67.8 337.6,65.9 337.7,62.9 337.8,65.1 337.9,68.6 338.0,73.5 338.1,65.6 338.2,63.4 338.4,59.0 338.5,59.8 338.6,64.2 338.7,60.3 338.8,66.1 338.9,63.5 339.0,68.8 339.1,66.6 339.2,68.7 339.4,62.9 339.5,62.7 339.6,65.3 339.7,65.7 339.8,64.7 339.9,59.8 340.0,65.0 340.1,61.8 340.3,64.4 340.4,58.0 340.5,62.9 340.6,64.4 340.7,61.3 340.8,61.9 340.9,59.0 341.0,61.3 341.2,59.1 341.3,64.3 341.4,61.9 341.5,62.1 341.6,60.0 341.7,62.5 341.8,66.0 341.9,70.9 342.0,73.3 342.2,69.0 342.3,68.2 342.4,68.9 342.5,69.4 342.6,67.7 342.7,63.2 342.8,58.5 342.9,55.5 343.1,56.7 343.2,53.5 343.3,56.3 343.4,60.7 343.5,53.4 343.6,57.4 343.7,53.3 343.8,53.5 343.9,61.0 344.1,61.6 344.2,64.7 344.3,61.8 344.4,61.0 344.5,61.6 344.6,60.8 344.7,58.4 344.8,59.8 345.0,60.6 345.1,62.5 345.2,64.4 345.3,61.3 345.4,62.4 345.5,69.0 345.6,66.6 345.7,63.1 345.8,58.0 346.0,63.2 346.1,61.5 346.2,61.6 346.3,58.7 346.4,64.8 346.5,65.8 346.6,63.6 346.7,69.1 346.9,61.5 347.0,62.1 347.1,61.1 347.2,58.6 347.3,56.1 347.4,58.8 347.5,59.3 347.6,60.2 347.7,60.9 347.9,63.4 348.0,59.9 348.1,58.3 348.2,63.2 348.3,59.2 348.4,63.7 348.5,64.3 348.6,61.6 348.8,68.2 348.9,65.3 349.0,68.9 349.1,70.1 349.2,65.0 349.3,67.8 349.4,66.0 349.5,63.5 349.6,59.9 349.8,64.0 349.9,68.4 350.0,70.7 350.1,67.4 350.2,67.5 350.3,67.6 350.4,68.0 350.5,63.9 350.7,65.1 350.8,72.8 350.9,72.2 351.0,64.7 351.1,70.6 351.2,68.0 351.3,75.0 351.4,68.6 351.6,67.8 351.7,67.5 351.8,71.0 351.9,67.8 352.0,66.7 352.1,67.3 352.2,61.0 352.3,64.6 352.4,65.5 352.6,66.4 352.7,66.4 352.8,67.9 352.9,68.4 353.0,64.1 353.1,64.8 353.2,66.0 353.3,68.9 353.5,66.8 353.6,63.8 353.7,66.0 353.8,63.3 353.9,59.8 354.0,63.8 354.1,63.6 354.2,68.7 354.3,66.9 354.5,67.1 354.6,64.2 354.7,67.6 354.8,70.4 354.9,75.3 355.0,69.9 355.1,71.7 355.2,68.2 355.4,68.6 355.5,68.6 355.6,69.4 355.7,73.7 355.8,73.0 355.9,72.9 356.0,74.8 356.1,79.1 356.2,75.4 356.4,70.8 356.5,71.2 356.6,72.1 356.7,71.9 356.8,75.1 356.9,72.6 357.0,72.2 357.1,74.8 357.3,76.3 357.4,74.4 357.5,72.7 357.6,78.6 357.7,68.4 357.8,70.1 357.9,72.9 358.0,71.5 358.1,81.5 358.3,76.1 358.4,79.0 358.5,77.3 358.6,75.3 358.7,75.6 358.8,68.6 358.9,65.6 359.0,75.4 359.2,70.3 359.3,71.5 359.4,68.3 359.5,72.7 359.6,72.5 359.7,75.8 359.8,77.8 359.9,74.1 360.1,78.5 360.2,79.7 360.3,73.9 360.4,72.8 360.5,72.8 360.6,75.7 360.7,70.0 360.8,79.7 360.9,76.1 361.1,77.9 361.2,73.5 361.3,77.4 361.4,74.1 361.5,75.6 361.6,78.0 361.7,77.6 361.8,82.3 362.0,78.0 362.1,75.6 362.2,71.7 362.3,81.1 362.4,76.6 362.5,76.8 362.6,77.1 362.7,70.8 362.8,75.9 363.0,73.5 363.1,74.0 363.2,75.9 363.3,70.4 363.4,67.1 363.5,69.3 363.6,74.0 363.7,74.9 363.9,74.9 364.0,74.5 364.1,74.9 364.2,73.9 364.3,76.5 364.4,75.9 364.5,76.4 364.6,76.3 364.7,79.2 364.9,77.9 365.0,81.6 365.1,81.0 365.2,79.2 365.3,76.6 365.4,80.5 365.5,83.9 365.6,82.4 365.8,77.9 365.9,79.8 366.0,80.6 366.1,81.2 366.2,74.9 366.3,78.6 366.4,79.4 366.5,75.1 366.6,71.7 366.8,74.0 366.9,70.4 367.0,78.2 367.1,71.9 367.2,78.1 367.3,75.8 367.4,76.5 367.5,77.7 367.7,74.6 367.8,72.1 367.9,76.7 368.0,80.9 368.1,76.1 368.2,78.8 368.3,77.5 368.4,73.3 368.6,76.9 368.7,75.3 368.8,79.9 368.9,76.9 369.0,66.8 369.1,73.0 369.2,68.9 369.3,76.3 369.4,77.3 369.6,72.4 369.7,69.4 369.8,74.0 369.9,74.7 370.0,75.0 370.1,75.5 370.2,76.2 370.3,76.1 370.5,74.6 370.6,72.1 370.7,69.6 370.8,71.9 370.9,71.1 371.0,70.3 371.1,68.8 371.2,64.1 371.3,69.2 371.5,69.4 371.6,73.3 371.7,77.1 371.8,77.0 371.9,75.8 372.0,79.9 372.1,79.9 372.2,76.6 372.4,84.1 372.5,72.8 372.6,73.9 372.7,75.7 372.8,76.4 372.9,73.6 373.0,68.8 373.1,69.2 373.2,73.0 373.4,74.8 373.5,74.2 373.6,76.3 373.7,74.3 373.8,79.1 373.9,79.8 374.0,77.0 374.1,75.3 374.3,77.9 374.4,75.3 374.5,73.4 374.6,77.4 374.7,73.9 374.8,69.1 374.9,74.5 375.0,73.9 375.1,70.4 375.3,73.6 375.4,71.9 375.5,69.5 375.6,77.7 375.7,69.2 375.8,72.6 375.9,73.0 376.0,73.4 376.2,75.7 376.3,77.9 376.4,73.2 376.5,71.6 376.6,72.7 376.7,74.3 376.8,74.5 376.9,67.4 377.0,69.1 377.2,64.4 377.3,68.4 377.4,71.1 377.5,73.9 377.6,77.0 377.7,79.5 377.8,79.0 377.9,77.7 378.1,76.3 378.2,76.2 378.3,76.8 378.4,79.4 378.5,76.2 378.6,80.5 378.7,73.2 378.8,75.2 379.0,76.6 379.1,73.8 379.2,75.3 379.3,76.4 379.4,69.0 379.5,68.2 379.6,66.4 379.7,68.8 379.8,69.5 380.0,71.9 380.1,72.5 380.2,71.9 380.3,68.8 380.4,67.5 380.5,68.7 380.6,70.7 380.7,73.9 380.9,74.0 381.0,70.2 381.1,73.5 381.2,76.5 381.3,74.4 381.4,72.9 381.5,75.9 381.6,70.2 381.7,78.6 381.9,76.2 382.0,74.2 382.1,75.2 382.2,75.7 382.3,74.2 382.4,74.3 382.5,64.1 382.6,71.5 382.8,64.6 382.9,69.5 383.0,64.0 383.1,69.8 383.2,68.9 383.3,70.9 383.4,68.1 383.5,70.9 383.6,69.7 383.8,68.6 383.9,73.4 384.0,71.1 384.1,73.1 384.2,73.7 384.3,72.9 384.4,66.9 384.5,69.7 384.7,71.4 384.8,68.5 384.9,68.3 385.0,65.1 385.1,66.8 385.2,66.7 385.3,62.5 385.4,67.9 385.5,70.1 385.7,71.3 385.8,64.7 385.9,67.6 386.0,68.7 386.1,63.9 386.2,64.3 386.3,66.7 386.4,67.8 386.6,65.4 386.7,63.6 386.8,66.7 386.9,67.4 387.0,67.7 387.1,67.0 387.2,72.8 387.3,69.8 387.5,70.9 387.6,68.1 387.7,68.1 387.8,69.2 387.9,73.0 388.0,71.0 388.1,73.4 388.2,71.7 388.3,73.6 388.5,69.4 388.6,69.5 388.7,72.5 388.8,76.5 388.9,70.1 389.0,76.7 389.1,76.8 389.2,73.0 389.4,74.2 389.5,68.4 389.6,71.9 389.7,70.3 389.8,65.4 389.9,66.1 390.0,67.8 390.1,66.9 390.2,65.1 390.4,65.9 390.5,66.3 390.6,67.4 390.7,66.6 390.8,67.7 390.9,69.6 391.0,71.1 391.1,73.9 391.3,65.9 391.4,71.9 391.5,67.0 391.6,68.8 391.7,65.9 391.8,68.2 391.9,64.1 392.0,65.4 392.1,62.7 392.3,67.6 392.4,66.4 392.5,70.5 392.6,70.4 392.7,67.3 392.8,70.2 392.9,66.1 393.0,70.4 393.2,72.8 393.3,73.8 393.4,73.6 393.5,71.0 393.6,72.4 393.7,73.3 393.8,77.9 393.9,77.4 394.0,76.9 394.2,69.2 394.3,77.0 394.4,74.0 394.5,67.8 394.6,71.8 394.7,71.7 394.8,73.0 394.9,70.2 395.1,72.3 395.2,71.7 395.3,72.7 395.4,80.3 395.5,78.8 395.6,72.0 395.7,72.6 395.8,75.2 396.0,75.5 396.1,78.0 396.2,68.3 396.3,72.7 396.4,72.0 396.5,69.9 396.6,69.2 396.7,68.9 396.8,67.6 397.0,69.7 397.1,70.7 397.2,72.4 397.3,61.7 397.4,67.2 397.5,66.1 397.6,67.0 397.7,68.3 397.9,66.3 398.0,67.6 398.1,70.8 398.2,71.6 398.3,68.3 398.4,67.2 398.5,64.6 398.6,73.0 398.7,73.2 398.9,70.9 399.0,72.3 399.1,70.8 399.2,75.7 399.3,76.0 399.4,73.9 399.5,69.7 399.6,66.4 399.8,70.0 399.9,71.1 400.0,73.7 400.1,74.5 400.2,70.3 400.3,72.1 400.4,69.8 400.5,70.0 400.6,72.9 400.8,69.8 400.9,71.0 401.0,69.0 401.1,70.0 401.2,71.0 401.3,72.6 401.4,72.7 401.5,67.5 401.7,72.0 401.8,70.8 401.9,67.2 402.0,68.8 402.1,68.4 402.2,71.9 402.3,71.0 402.4,72.3 402.5,70.1 402.7,66.8 402.8,73.6 402.9,71.7 403.0,72.0 403.1,76.3 403.2,76.5 403.3,73.5 403.4,70.3 403.6,69.4 403.7,72.5 403.8,73.4 403.9,72.5 404.0,72.2 404.1,72.7 404.2,68.5 404.3,69.3 404.4,70.2 404.6,68.1 404.7,68.4 404.8,72.6 404.9,72.3 405.0,72.8 405.1,73.0 405.2,71.1 405.3,70.5 405.5,70.2 405.6,70.5 405.7,70.0 405.8,65.0 405.9,65.2 406.0,63.5 406.1,67.8 406.2,70.2 406.4,72.4 406.5,74.2 406.6,74.6 406.7,72.8 406.8,75.0 406.9,74.4 407.0,71.2 407.1,75.4 407.2,68.3 407.4,67.5 407.5,75.7 407.6,69.4 407.7,73.8 407.8,69.7 407.9,70.7 408.0,67.9 408.1,70.7 408.3,67.1 408.4,69.3 408.5,72.4 408.6,68.6 408.7,71.1 408.8,75.6 408.9,70.0 409.0,68.8 409.1,70.4 409.3,74.6 409.4,70.3 409.5,66.2 409.6,69.8 409.7,72.3 409.8,72.4 409.9,72.4 410.0,70.5 410.2,69.4 410.3,71.3 410.4,68.9 410.5,72.6 410.6,68.2 410.7,69.0 410.8,73.8 410.9,68.1 411.0,67.1 411.2,68.6 411.3,71.6 411.4,70.0 411.5,68.3 411.6,70.7 411.7,67.2 411.8,69.7 411.9,73.2 412.1,73.4 412.2,71.1 412.3,70.5 412.4,76.2 412.5,74.2 412.6,72.2 412.7,74.0 412.8,72.9 412.9,72.4 413.1,73.3 413.2,74.3 413.3,77.5 413.4,74.3 413.5,73.6 413.6,73.0 413.7,74.6 413.8,73.2 414.0,74.0 414.1,70.2 414.2,75.1 414.3,71.3 414.4,77.1 414.5,74.2 414.6,75.3 414.7,78.0 414.9,75.9 415.0,78.6 415.1,79.7 415.2,76.5 415.3,77.5 415.4,81.0 415.5,77.3 415.6,77.6 415.7,73.2 415.9,67.4 416.0,72.5 416.1,82.0 416.2,80.3 416.3,80.1 416.4,77.5 416.5,77.9 416.6,78.1 416.8,74.7 416.9,77.6 417.0,74.4 417.1,76.9 417.2,76.9 417.3,81.9 417.4,78.4 417.5,77.4 417.6,80.0 417.8,80.1 417.9,80.9 418.0,80.8 418.1,81.6 418.2,82.2 418.3,83.2 418.4,77.8 418.5,81.0 418.7,74.0 418.8,76.1 418.9,77.3 419.0,77.5 419.1,75.1 419.2,79.1 419.3,80.5 419.4,79.3 419.5,81.1 419.7,82.3 419.8,74.6 419.9,75.1 420.0,76.3 420.1,76.6 420.2,78.9 420.3,77.6 420.4,84.9 420.6,76.7 420.7,72.8 420.8,74.9 420.9,77.4 421.0,78.2 421.1,74.7 421.2,79.6 421.3,84.2 421.4,84.9 421.6,89.2 421.7,83.1 421.8,83.3 421.9,80.6 422.0,79.1 422.1,88.1 422.2,77.4 422.3,82.8 422.5,79.3 422.6,79.2 422.7,76.4 422.8,72.9 422.9,75.6 423.0,76.9 423.1,75.0 423.2,75.2 423.4,79.2 423.5,76.4 423.6,82.1 423.7,78.1 423.8,74.0 423.9,70.4 424.0,76.5 424.1,76.7 424.2,77.9 424.4,77.6 424.5,75.7 424.6,75.8 424.7,75.7 424.8,78.6 424.9,82.8 425.0,72.4 425.1,78.2 425.3,80.3 425.4,80.1 425.5,79.7 425.6,82.1 425.7,79.6 425.8,80.5 425.9,81.5 426.0,80.7 426.1,81.2 426.3,81.2 426.4,78.2 426.5,72.9 426.6,77.1 426.7,74.1 426.8,76.1 426.9,78.9 427.0,76.5 427.2,74.1 427.3,77.0 427.4,78.2 427.5,79.3 427.6,73.5 427.7,77.1 427.8,75.7 427.9,74.7 428.0,74.8 428.2,75.1 428.3,75.0 428.4,74.4 428.5,71.5 428.6,70.1 428.7,71.5 428.8,73.6 428.9,74.6 429.1,70.1 429.2,67.6 429.3,69.6 429.4,74.2 429.5,76.1 429.6,71.6 429.7,80.1 429.8,77.4 429.9,76.4 430.1,73.0 430.2,75.3 430.3,74.2 430.4,77.9 430.5,74.9 430.6,77.4 430.7,73.1 430.8,75.1 431.0,74.8 431.1,73.0 431.2,69.4 431.3,73.4 431.4,68.8 431.5,70.9 431.6,72.5 431.7,70.6 431.8,72.1 432.0,72.5 432.1,71.2 432.2,71.1 432.3,70.4 432.4,73.7 432.5,72.7 432.6,73.6 432.7,69.7 432.9,71.2 433.0,73.7 433.1,72.0 433.2,70.9 433.3,68.5 433.4,72.6 433.5,71.8 433.6,74.0 433.8,74.8 433.9,77.4 434.0,74.7 434.1,77.1 434.2,72.7 434.3,72.9 434.4,74.0 434.5,76.7 434.6,82.9 434.8,78.9 434.9,77.1 435.0,77.0 435.1,76.5 435.2,78.4 435.3,73.1 435.4,71.2 435.5,76.2 435.7,73.5 435.8,73.8 435.9,80.0 436.0,77.2 436.1,70.3 436.2,72.6 436.3,71.8 436.4,69.4 436.5,71.0 436.7,71.4 436.8,71.2 436.9,74.5 437.0,72.5 437.1,71.4 437.2,69.7 437.3,73.8 437.4,76.3 437.6,68.1 437.7,71.2 437.8,70.2 437.9,73.9 438.0,72.5 438.1,73.7 438.2,71.9 438.3,82.3 438.4,73.8 438.6,72.4 438.7,82.9 438.8,76.0 438.9,76.7 439.0,74.1 439.1,74.5 439.2,73.0 439.3,74.9 439.5,70.0 439.6,73.9 439.7,72.4 439.8,72.8 439.9,74.7 440.0,79.1 440.1,75.3 440.2,74.4 440.3,75.9 440.5,79.0 440.6,75.6 440.7,73.1 440.8,72.8 440.9,74.7 441.0,68.6 441.1,72.0 441.2,74.3 441.4,72.3 441.5,76.8 441.6,69.7 441.7,67.5 441.8,70.6 441.9,70.4 442.0,71.2 442.1,70.9 442.3,69.3 442.4,69.0 442.5,73.0 442.6,69.7 442.7,71.8 442.8,67.9 442.9,71.4 443.0,69.5 443.1,75.2 443.3,68.9 443.4,71.5 443.5,70.4 443.6,72.9 443.7,77.9 443.8,72.3 443.9,71.7 444.0,71.8 444.2,68.6 444.3,69.8 444.4,71.3 444.5,73.2 444.6,69.4 444.7,70.0 444.8,73.1 444.9,71.0 445.0,70.8 445.2,68.0 445.3,67.1 445.4,70.2 445.5,72.8 445.6,71.4 445.7,71.6 445.8,72.5 445.9,76.6 446.1,74.3 446.2,72.3 446.3,75.8 446.4,70.6 446.5,76.0 446.6,69.1 446.7,73.7 446.8,70.0 446.9,63.7 447.1,72.2 447.2,71.0 447.3,66.3 447.4,70.0 447.5,73.1 447.6,72.8 447.7,65.5 447.8,69.2 448.0,70.9 448.1,67.0 448.2,64.3 448.3,70.1 448.4,63.8 448.5,67.0 448.6,67.4 448.7,73.0 448.8,65.5 449.0,70.1 449.1,74.9 449.2,76.2 449.3,73.1 449.4,76.5 449.5,79.4 449.6,70.1 449.7,67.3 449.9,71.7 450.0,70.2 450.1,68.8 450.2,66.0 450.3,70.2 450.4,74.7 450.5,69.8 450.6,74.0 450.8,72.8 450.9,70.6 451.0,75.1 451.1,71.1 451.2,68.3 451.3,69.6 451.4,75.1 451.5,71.1 451.6,71.2 451.8,72.9 451.9,67.0 452.0,74.7 452.1,71.6 452.2,72.6 452.3,77.7 452.4,69.9 452.5,74.3 452.7,75.8 452.8,72.2 452.9,67.6 453.0,76.4 453.1,80.1 453.2,71.0 453.3,74.2 453.4,71.6 453.5,71.6 453.7,78.1 453.8,74.7 453.9,78.6 454.0,76.3 454.1,78.6 454.2,75.8 454.3,69.6 454.4,68.8 454.6,74.6 454.7,77.1 454.8,75.3 454.9,74.6 455.0,77.2"/>
<polyline stroke="#ff1a1a" points="52.5,203.0 52.6,178.6 52.7,158.4 52.8,161.2 52.9,156.7 53.1,153.8 53.2,154.2 53.3,153.3 53.4,151.5 53.5,148.1 53.6,146.4 53.7,149.0 53.8,147.7 54.0,148.2 54.1,150.6 54.2,154.3 54.3,149.4 54.4,150.2 54.5,147.1 54.6,145.8 54.7,143.6 54.8,139.0 55.0,138.5 55.1,136.8 55.2,140.8 55.3,136.7 55.4,141.6 55.5,141.2 55.6,138.0 55.7,141.7 55.9,137.1 56.0,138.1 56.1,130.1 56.2,138.0 56.3,134.7 56.4,135.3 56.5,139.4 56.6,137.6 56.7,135.4 56.9,137.0 57.0,138.5 57.1,141.2 57.2,135.6 57.3,136.8 57.4,135.5 57.5,141.8 57.6,141.8 57.8,141.6 57.9,141.2 58.0,142.0 58.1,143.9 58.2,140.0 58.3,136.3 58.4,142.3 58.5,139.1 58.7,137.0 58.8,136.5 58.9,135.5 59.0,139.0 59.1,137.9 59.2,139.3 59.3,137.2 59.4,139.9 59.5,135.8 59.7,136.8 59.8,132.0 59.9,138.2 60.0,138.3 60.1,133.6 60.2,139.2 60.3,137.1 60.4,138.9 60.6,138.2 60.7,134.6 60.8,135.9 60.9,136.0 61.0,133.2 61.1,132.3 61.2,136.3 61.3,139.6 61.4,139.5 61.6,138.3 61.7,133.5 61.8,132.2 61.9,137.8 62.0,134.3 62.1,135.7 62.2,132.8 62.3,130.9 62.5,130.6 62.6,128.5 62.7,127.7 62.8,134.5 62.9,133.9 63.0,135.6 63.1,135.4 63.2,135.4 63.3,137.7 63.5,136.6 63.6,138.4 63.7,135.2 63.8,134.3 63.9,131.3 64.0,139.2 64.1,133.7 64.2,128.3 64.4,132.6 64.5,135.1 64.6,137.1 64.7,131.7 64.8,133.3 64.9,134.4 65.0,134.8 65.1,133.0 65.2,125.5 65.4,132.8 65.5,136.1 65.6,134.2 65.7,129.9 65.8,131.2 65.9,131.3 66.0,134.3 66.1,135.2 66.3,131.9 66.4,132.0 66.5,130.1 66.6,129.8 66.7,130.7 66.8,133.1 66.9,134.3 67.0,127.4 67.2,128.6 67.3,128.3 67.4,133.0 67.5,131.2 67.6,132.7 67.7,133.4 67.8,131.8 67.9,137.8 68.0,138.9 68.2,133.5 68.3,136.8 68.4,137.8 68.5,137.4 68.6,136.7 68.7,135.9 68.8,134.6 68.9,138.3 69.1,130.7 69.2,133.4 69.3,129.3 69.4,137.1 69.5,132.4 69.6,135.1 69.7,137.2 69.8,133.2 69.9,128.6 70.1,134.2 70.2,137.8 70.3,135.0 70.4,132.1 70.5,141.0 70.6,132.3 70.7,137.3 70.8,140.2 71.0,137.0 71.1,134.6 71.2,136.0 71.3,132.2 71.4,132.8 71.5,127.9 71.6,132.0 71.7,133.5 71.8,135.0 72.0,132.9 72.1,128.6 72.2,131.9 72.3,136.2 72.4,132.8 72.5,132.8 72.6,130.5 72.7,129.2 72.9,129.3 73.0,131.1 73.1,131.4 73.2,126.6 73.3,127.8 73.4,125.5 73.5,130.1 73.6,124.8 73.7,125.9 73.9,124.4 74.0,126.1 74.1,126.8 74.2,123.5 74.3,121.1 74.4,129.6 74.5,120.3 74.6,125.6 74.8,125.9 74.9,122.5 75.0,125.1 75.1,119.1 75.2,125.7 75.3,121.4 75.4,122.8 75.5,119.9 75.7,118.0 75.8,113.8 75.9,121.3 76.0,116.3 76.1,118.8 76.2,118.7 76.3,119.8 76.4,121.6 76.5,117.9 76.7,116.2 76.8,114.3 76.9,111.3 77.0,109.2 77.1,109.4 77.2,108.7 77.3,121.1 77.4,115.7 77.6,116.7 77.7,121.0 77.8,113.0 77.9,112.4 78.0,110.1 78.1,110.5 78.2,113.7 78.3,113.8 78.4,113.8 78.6,114.5 78.7,115.3 78.8,116.9 78.9,118.0 79.0,113.8 79.1,117.4 79.2,114.2 79.3,113.9 79.5,107.6 79.6,115.7 79.7,116.2 79.8,115.6 79.9,117.0 80.0,110.6 80.1,112.5 80.2,115.8 80.3,111.4 80.5,112.2 80.6,111.9 80.7,113.1 80.8,120.0 80.9,113.8 81.0,113.3 81.1,111.5 81.2,112.0 81.4,113.4 81.5,113.6 81.6,115.0 81.7,112.6 81.8,110.1 81.9,113.9 82.0,111.5 82.1,108.5 82.2,111.3 82.4,111.1 82.5,112.1 82.6,110.0 82.7,105.4 82.8,102.7 82.9,107.7 83.0,109.7 83.1,110.3 83.3,114.1 83.4,113.0 83.5,106.1 83.6,105.4 83.7,107.2 83.8,108.3 83.9,101.9 84.0,103.7 84.1,108.2 84.3,105.0 84.4,108.8 84.5,111.7 84.6,112.9 84.7,113.2 84.8,110.6 84.9,113.2 85.0,110.6 85.2,110.2 85.3,110.5 85.4,111.4 85.5,109.5 85.6,111.4 85.7,106.5 85.8,110.7 85.9,111.3 86.1,114.2 86.2,113.3 86.3,109.7 86.4,111.9 86.5,107.5 86.6,106.2 86.7,110.0 86.8,108.7 86.9,107.6 87.1,113.2 87.2,104.6 87.3,107.9 87.4,105.3 87.5,112.6 87.6,108.8 87.7,107.4 87.8,108.2 88.0,108.6 88.1,107.8 88.2,104.1 88.3,100.7 88.4,104.0 88.5,106.5 88.6,107.1 88.7,104.3 88.8,108.4 89.0,109.2 89.1,107.0 89.2,108.4 89.3,107.6 89.4,109.6 89.5,108.2 89.6,110.8 89.7,103.9 89.9,104.4 90.0,107.1 90.1,102.4 90.2,103.4 90.3,101.4 90.4,101.1 90.5,97.1 90.6,99.5 90.7,100.8 90.9,104.7 91.0,102.2 91.1,108.4 91.2,106.5 91.3,101.6 91.4,102.1 91.5,100.0 91.6,101.4 91.8,99.7 91.9,105.7 92.0,99.2 92.1,98.7 92.2,106.4 92.3,99.9 92.4,106.8 92.5,104.8 92.6,104.4 92.8,105.9 92.9,105.9 93.0,107.5 93.1,104.9 93.2,108.6 93.3,105.5 93.4,112.5 93.5,110.3 93.7,108.5 93.8,107.6 93.9,111.5 94.0,110.5 94.1,110.5 94.2,107.3 94.3,109.5 94.4,109.6 94.6,111.3 94.7,112.1 94.8,114.8 94.9,113.8 95.0,111.3 95.1,115.3 95.2,117.6 95.3,116.2 95.4,117.7 95.6,112.4 95.7,117.5 95.8,115.0 95.9,110.6 96.0,110.0 96.1,111.0 96.2,109.2 96.3,117.2 96.5,108.0 96.6,105.1 96.7,99.4 96.8,108.9 96.9,106.2 97.0,105.5 97.1,102.9 97.2,104.2 97.3,105.3 97.5,103.1 97.6,104.9 97.7,103.9 97.8,108.9 97.9,103.7 98.0,104.5 98.1,104.5 98.2,104.0 98.4,107.0 98.5,106.1 98.6,99.8 98.7,99.0 98.8,95.6 98.9,99.2 99.0,102.1 99.1,100.4 99.2,104.2 99.4,98.4 99.5,101.4 99.6,98.5 99.7,103.5 99.8,101.0 99.9,105.1 100.0,106.0 100.1,104.6 100.3,105.1 100.4,105.0 100.5,105.7 100.6,102.5 100.7,103.5 100.8,104.0 100.9,98.2 101.0,98.1 101.1,102.3 101.3,103.8 101.4,104.0 101.5,104.1 101.6,106.0 101.7,100.1 101.8,103.8 101.9,102.6 102.0,98.9 102.2,97.0 102.3,105.0 102.4,102.5 102.5,100.3 102.6,98.7 102.7,100.7 102.8,101.5 102.9,95.7 103.1,93.2 103.2,95.8 103.3,97.8 103.4,98.6 103.5,99.6 103.6,101.4 103.7,105.5 103.8,98.2 103.9,105.7 104.1,100.0 104.2,102.3 104.3,103.1 104.4,104.6 104.5,99.6 104.6,102.7 104.7,99.2 104.8,105.8 105.0,98.9 105.1,100.0 105.2,101.4 105.3,98.6 105.4,97.3 105.5,94.6 105.6,98.7 105.7,97.9 105.8,95.9 106.0,101.5 106.1,97.8 106.2,99.3 106.3,96.2 106.4,95.1 106.5,98.1 106.6,97.1 106.7,97.2 106.9,99.0 107.0,97.3 107.1,90.4 107.2,90.9 107.3,90.4 107.4,92.8 107.5,90.8 107.6,93.6 107.7,94.0 107.9,91.2 108.0,95.1 108.1,95.4 108.2,98.0 108.3,97.3 108.4,101.2 108.5,101.8 108.6,95.6 108.8,98.7 108.9,97.2 109.0,98.4 109.1,94.9 109.2,92.7 109.3,95.1 109.4,95.8 109.5,95.0 109.6,91.1 109.8,93.9 109.9,94.6 110.0,97.2 110.1,94.8 110.2,97.5 110.3,95.7 110.4,91.9 110.5,91.4 110.7,93.7 110.8,95.0 110.9,103.0 111.0,94.5 111.1,95.7 111.2,95.3 111.3,100.2 111.4,98.3 111.5,93.7 111.7,94.0 111.8,93.0 111.9,92.2 112.0,89.7 112.1,94.1 112.2,96.7 112.3,96.4 112.4,96.6 112.6,97.2 112.7,95.0 112.8,98.0 112.9,96.7 113.0,94.8 113.1,92.9 113.2,94.4 113.3,91.3 113.5,90.8 113.6,96.2 113.7,95.5 113.8,91.2 113.9,90.6 114.0,94.0 114.1,94.3 114.2,91.8 114.3,90.3 114.5,96.8 114.6,92.1 114.7,91.1 114.8,92.5 114.9,92.5 115.0,89.2 115.1,92.4 115.2,88.2 115.4,90.4 115.5,86.9 115.6,82.7 115.7,90.6 115.8,87.9 115.9,89.1 116.0,92.9 116.1,97.4 116.2,96.5 116.4,94.1 116.5,93.8 116.6,95.4 116.7,90.5 116.8,93.5 116.9,93.9 117.0,98.3 117.1,94.5 117.3,89.0 117.4,95.4 117.5,98.6 117.6,91.8 117.7,97.4 117.8,96.7 117.9,95.1 118.0,92.9 118.1,93.5 118.3,94.4 118.4,95.2 118.5,97.0 118.6,96.1 118.7,93.5 118.8,95.0 118.9,100.2 119.0,94.1 119.2,93.1 119.3,90.4 119.4,91.4 119.5,92.7 119.6,90.2 119.7,91.0 119.8,90.3 119.9,93.9 120.0,90.9 120.2,91.8 120.3,91.0 120.4,87.1 120.5,89.7 120.6,91.4 120.7,85.8 120.8,83.7 120.9,85.1 121.1,84.5 121.2,88.7 121.3,89.1 121.4,92.4 121.5,92.8 121.6,89.3 121.7,87.4 121.8,88.5 122.0,86.7 122.1,82.9 122.2,82.5 122.3,88.6 122.4,90.0 122.5,88.3 122.6,85.5 122.7,91.3 122.8,90.4 123.0,88.9 123.1,89.5 123.2,89.2 123.3,89.3 123.4,90.9 123.5,89.9 123.6,92.2 123.7,90.8 123.9,89.6 124.0,93.2 124.1,94.2 124.2,93.6 124.3,87.4 124.4,91.9 124.5,90.1 124.6,88.1 124.7,89.0 124.9,94.7 125.0,93.2 125.1,92.1 125.2,92.8 125.3,100.5 125.4,100.0 125.5,95.6 125.6,95.7 125.8,92.1 125.9,98.5 126.0,95.0 126.1,91.3 126.2,90.8 126.3,91.2 126.4,99.5 126.5,94.8 126.6,96.4 126.8,96.8 126.9,99.0 127.0,95.8 127.1,93.3 127.2,103.0 127.3,97.6 127.4,100.4 127.5,99.8 127.7,92.4 127.8,97.6 127.9,93.2 128.0,93.8 128.1,90.9 128.2,89.2 128.3,89.2 128.4,95.9 128.5,93.1 128.7,94.9 128.8,96.5 128.9,92.6 129.0,91.4 129.1,97.8 129.2,94.1 129.3,92.7 129.4,96.8 129.6,94.2 129.7,92.0 129.8,91.4 129.9,94.0 130.0,90.7 130.1,87.4 130.2,94.5 130.3,95.7 130.5,92.3 130.6,99.1 130.7,96.0 130.8,98.0 130.9,96.5 131.0,92.7 131.1,91.1 131.2,88.3 131.3,89.9 131.5,94.6 131.6,93.9 131.7,91.8 131.8,100.7 131.9,101.9 132.0,101.0 132.1,98.8 132.2,98.6 132.4,97.7 132.5,97.2 132.6,95.6 132.7,95.3 132.8,96.4 132.9,102.6 133.0,101.1 133.1,97.3 133.2,101.5 133.4,101.8 133.5,98.4 133.6,101.4 133.7,99.8 133.8,99.4 133.9,97.7 134.0,96.6 134.1,96.3 134.3,97.5 134.4,93.1 134.5,91.3 134.6,93.8 134.7,93.3 134.8,97.1 134.9,96.0 135.0,93.4 135.1,97.5 135.3,96.9 135.4,95.6 135.5,95.0 135.6,91.6 135.7,92.2 135.8,99.5 135.9,93.2 136.0,97.9 136.2,98.0 136.3,98.5 136.4,95.9 136.5,95.5 136.6,96.7 136.7,95.0 136.8,92.4 136.9,94.3 137.0,94.9 137.2,97.4 137.3,95.2 137.4,94.2 137.5,100.6 137.6,96.9 137.7,103.4 137.8,105.4 137.9,101.4 138.1,105.0 138.2,101.4 138.3,98.6 138.4,99.2 138.5,104.6 138.6,103.1 138.7,103.0 138.8,104.5 138.9,102.2 139.1,99.0 139.2,100.8 139.3,98.3 139.4,97.5 139.5,98.9 139.6,98.5 139.7,95.1 139.8,95.3 140.0,98.1 140.1,97.5 140.2,94.9 140.3,103.6 140.4,100.9 140.5,106.2 140.6,104.2 140.7,104.5 140.9,105.4 141.0,101.5 141.1,102.3 141.2,100.1 141.3,103.8 141.4,106.2 141.5,102.3 141.6,110.8 141.7,102.7 141.9,100.3 142.0,99.6 142.1,103.3 142.2,105.4 142.3,104.4 142.4,103.9 142.5,102.6 142.6,104.0 142.8,103.4 142.9,106.7 143.0,105.5 143.1,103.5 143.2,104.1 143.3,99.6 143.4,102.8 143.5,103.0 143.6,106.5 143.8,100.2 143.9,101.5 144.0,105.9 144.1,102.7 144.2,99.2 144.3,100.8 144.4,105.5 144.5,101.6 144.7,102.5 144.8,105.4 144.9,100.4 145.0,100.8 145.1,103.9 145.2,101.7 145.3,101.9 145.4,100.7 145.5,104.0 145.7,102.9 145.8,102.4 145.9,99.7 146.0,99.3 146.1,99.1 146.2,96.6 146.3,99.1 146.4,101.8 146.6,100.6 146.7,99.3 146.8,102.1 146.9,101.6 147.0,102.6 147.1,104.7 147.2,104.0 147.3,101.7 147.4,107.3 147.6,105.4 147.7,109.9 147.8,107.7 147.9,110.6 148.0,110.2 148.1,109.9 148.2,107.2 148.3,110.6 148.5,112.6 148.6,109.1 148.7,104.7 148.8,104.1 148.9,110.4 149.0,108.4 149.1,101.6 149.2,100.6 149.4,103.3 149.5,108.0 149.6,107.6 149.7,106.0 149.8,106.1 149.9,108.5 150.0,103.2 150.1,107.4 150.2,106.9 150.4,104.6 150.5,109.6 150.6,110.6 150.7,107.5 150.8,110.5 150.9,111.6 151.0,104.9 151.1,108.0 151.3,107.6 151.4,109.1 151.5,105.8 151.6,107.2 151.7,106.4 151.8,101.0 151.9,104.2 152.0,103.2 152.1,103.1 152.3,104.0 152.4,107.6 152.5,102.5 152.6,103.9 152.7,105.6 152.8,99.1 152.9,106.1 153.0,103.5 153.2,106.3 153.3,106.1 153.4,106.4 153.5,97.6 153.6,100.1 153.7,101.8 153.8,102.8 153.9,103.6 154.0,102.1 154.2,102.7 154.3,106.3 154.4,105.5 154.5,105.5 154.6,107.4 154.7,106.6 154.8,104.6 154.9,105.8 155.1,108.7 155.2,99.4 155.3,101.3 155.4,102.5 155.5,98.4 155.6,104.6 155.7,104.7 155.8,101.9 155.9,104.3 156.1,106.1 156.2,103.1 156.3,105.6 156.4,107.1 156.5,107.3 156.6,106.6 156.7,101.0 156.8,106.0 157.0,103.2 157.1,101.9 157.2,100.2 157.3,100.6 157.4,105.4 157.5,109.6 157.6,104.3 157.7,106.1 157.9,110.4 158.0,107.8 158.1,106.7 158.2,104.1 158.3,102.4 158.4,107.5 158.5,106.5 158.6,107.3 158.7,105.5 158.9,110.4 159.0,108.8 159.1,113.0 159.2,117.9 159.3,111.4 159.4,109.2 159.5,113.3 159.6,108.7 159.8,108.9 159.9,109.3 160.0,111.0 160.1,107.5 160.2,107.8 160.3,107.7 160.4,105.2 160.5,108.9 160.6,106.5 160.8,99.8 160.9,103.5 161.0,106.4 161.1,101.4 161.2,106.3 161.3,106.0 161.4,104.4 161.5,106.0 161.7,111.0 161.8,105.8 161.9,105.8 162.0,108.0 162.1,99.5 162.2,105.0 162.3,103.6 162.4,104.9 162.5,102.8 162.7,104.5 162.8,106.0 162.9,104.8 163.0,106.5 163.1,106.8 163.2,110.6 163.3,109.4 163.4,105.7 163.6,101.7 163.7,106.3 163.8,104.7 163.9,103.8 164.0,109.0 164.1,107.8 164.2,110.4 164.3,111.5 164.4,110.3 164.6,110.9 164.7,108.8 164.8,104.4 164.9,108.9 165.0,110.9 165.1,113.3 165.2,110.4 165.3,112.3 165.5,113.0 165.6,110.3 165.7,109.5 165.8,111.3 165.9,110.2 166.0,109.7 166.1,111.3 166.2,110.6 166.3,106.3 166.5,105.6 166.6,111.4 166.7,112.9 166.8,105.7 166.9,105.9 167.0,108.5 167.1,109.2 167.2,116.4 167.4,111.1 167.5,112.5 167.6,112.4 167.7,111.9 167.8,109.6 167.9,104.7 168.0,105.3 168.1,103.9 168.3,105.8 168.4,108.2 168.5,107.7 168.6,102.7 168.7,110.1 168.8,106.8 168.9,108.3 169.0,110.6 169.1,110.7 169.3,112.6 169.4,112.7 169.5,114.5 169.6,108.9 169.7,114.3 169.8,112.7 169.9,107.5 170.0,109.4 170.2,115.7 170.3,115.3 170.4,116.7 170.5,112.1 170.6,108.8 170.7,107.1 170.8,112.2 170.9,113.8 171.0,107.9 171.2,110.2 171.3,110.5 171.4,107.5 171.5,108.9 171.6,113.0 171.7,111.0 171.8,109.8 171.9,115.1 172.1,112.5 172.2,113.6 172.3,106.7 172.4,111.4 172.5,109.1 172.6,109.6 172.7,106.2 172.8,106.7 172.9,109.9 173.1,112.8 173.2,111.9 173.3,106.0 173.4,110.2 173.5,111.2 173.6,110.9 173.7,107.3 173.8,106.8 174.0,106.6 174.1,110.7 174.2,106.8 174.3,110.6 174.4,108.7 174.5,107.0 174.6,103.9 174.7,105.1 174.8,106.7 175.0,108.7 175.1,107.2 175.2,106.5 175.3,110.8 175.4,109.8 175.5,110.2 175.6,114.9 175.7,113.7 175.9,109.9 176.0,112.7 176.1,113.7 176.2,111.2 176.3,106.7 176.4,104.3 176.5,101.7 176.6,100.6 176.8,104.1 176.9,103.9 177.0,101.3 177.1,106.7 177.2,104.3 177.3,107.1 177.4,103.2 177.5,103.4 177.6,105.1 177.8,106.6 177.9,104.8 178.0,106.3 178.1,107.2 178.2,103.4 178.3,104.1 178.4,102.7 178.5,102.4 178.7,100.3 178.8,99.2 178.9,107.3 179.0,107.3 179.1,108.5 179.2,104.9 179.3,106.7 179.4,107.2 179.5,101.6 179.7,103.4 179.8,99.7 179.9,100.5 180.0,101.1 180.1,105.8 180.2,98.0 180.3,99.1 180.4,99.9 180.6,102.5 180.7,108.8 180.8,102.8 180.9,105.8 181.0,103.8 181.1,106.2 181.2,105.2 181.3,103.5 181.4,108.4 181.6,108.3 181.7,111.5 181.8,114.5 181.9,109.1 182.0,110.5 182.1,109.7 182.2,112.4 182.3,114.8 182.5,116.1 182.6,114.3 182.7,109.8 182.8,112.3 182.9,111.2 183.0,111.5 183.1,109.9 183.2,110.8 183.3,107.5 183.5,106.4 183.6,105.3 183.7,106.1 183.8,106.1 183.9,103.6 184.0,105.5 184.1,103.7 184.2,105.1 184.4,99.7 184.5,97.3 184.6,105.8 184.7,105.0 184.8,102.7 184.9,104.4 185.0,101.5 185.1,105.1 185.3,100.2 185.4,104.4 185.5,103.3 185.6,106.5 185.7,108.5 185.8,109.7 185.9,107.1 186.0,105.9 186.1,105.6 186.3,106.9 186.4,108.9 186.5,109.8 186.6,104.7 186.7,107.8 186.8,106.7 186.9,104.2 187.0,106.2 187.2,106.9 187.3,108.1 187.4,97.8 187.5,103.4 187.6,104.9 187.7,104.3 187.8,102.5 187.9,103.2 188.0,104.1 188.2,98.1 188.3,104.1 188.4,108.7 188.5,105.2 188.6,106.8 188.7,102.7 188.8,103.2 188.9,103.8 189.1,104.7 189.2,108.3 189.3,108.2 189.4,103.3 189.5,103.7 189.6,102.4 189.7,106.6 189.8,106.1 189.9,103.7 190.1,98.2 190.2,105.3 190.3,105.8 190.4,104.7 190.5,102.7 190.6,101.0 190.7,105.8 190.8,102.6 191.0,97.6 191.1,104.8 191.2,104.6 191.3,103.2 191.4,103.6 191.5,109.1 191.6,108.9 191.7,108.4 191.8,114.7 192.0,109.9 192.1,102.3 192.2,107.6 192.3,107.3 192.4,105.2 192.5,100.1 192.6,101.8 192.7,105.6 192.9,103.9 193.0,104.1 193.1,104.8 193.2,102.5 193.3,99.4 193.4,103.6 193.5,109.2 193.6,103.8 193.7,107.0 193.9,109.3 194.0,105.6 194.1,107.5 194.2,106.4 194.3,106.5 194.4,106.4 194.5,109.3 194.6,106.9 194.8,113.7 194.9,109.4 195.0,104.6 195.1,104.7 195.2,103.8 195.3,100.2 195.4,107.2 195.5,103.9 195.7,99.9 195.8,105.7 195.9,102.1 196.0,105.7 196.1,101.7 196.2,103.3 196.3,97.4 196.4,102.6 196.5,100.3 196.7,98.6 196.8,106.3 196.9,103.9 197.0,102.9 197.1,96.1 197.2,102.4 197.3,98.7 197.4,107.6 197.6,104.5 197.7,102.7 197.8,102.5 197.9,102.7 198.0,103.1 198.1,105.0 198.2,103.9 198.3,102.9 198.4,102.7 198.6,103.0 198.7,99.6 198.8,100.5 198.9,94.1 199.0,95.1 199.1,92.5 199.2,95.7 199.3,102.3 199.5,99.8 199.6,94.7 199.7,98.9 199.8,96.2 199.9,100.4 200.0,102.2 200.1,102.2 200.2,100.4 200.3,97.8 200.5,98.9 200.6,98.4 200.7,99.0 200.8,96.7 200.9,96.2 201.0,95.6 201.1,95.3 201.2,101.1 201.4,98.6 201.5,99.5 201.6,99.0 201.7,97.3 201.8,102.0 201.9,104.6 202.0,99.5 202.1,105.4 202.2,100.0 202.4,93.2 202.5,97.7 202.6,97.4 202.7,94.9 202.8,93.8 202.9,98.9 203.0,95.6 203.1,103.0 203.3,103.5 203.4,99.2 203.5,97.4 203.6,97.4 203.7,97.5 203.8,96.5 203.9,96.6 204.0,90.6 204.2,93.4 204.3,92.7 204.4,98.8 204.5,97.4 204.6,94.3 204.7,97.3 204.8,97.0 204.9,91.6 205.0,91.9 205.2,96.4 205.3,93.8 205.4,98.6 205.5,98.8 205.6,102.3 205.7,100.6 205.8,102.6 205.9,97.4 206.1,99.5 206.2,104.8 206.3,100.2 206.4,94.6 206.5,96.3 206.6,88.8 206.7,96.8 206.8,92.0 206.9,97.9 207.1,94.6 207.2,96.0 207.3,99.1 207.4,94.0 207.5,87.9 207.6,92.3 207.7,94.1 207.8,92.4 208.0,98.0 208.1,96.1 208.2,92.2 208.3,91.8 208.4,97.9 208.5,98.7 208.6,100.8 208.7,100.2 208.8,98.2 209.0,103.5 209.1,102.8 209.2,101.3 209.3,98.3 209.4,99.0 209.5,97.0 209.6,95.1 209.7,98.9 209.9,103.6 210.0,103.3 210.1,101.7 210.2,100.8 210.3,98.6 210.4,102.0 210.5,103.0 210.6,99.2 210.7,100.2 210.9,100.2 211.0,98.8 211.1,99.1 211.2,99.4 211.3,93.8 211.4,99.7 211.5,99.1 211.6,97.3 211.8,92.7 211.9,94.7 212.0,98.3 212.1,94.9 212.2,99.2 212.3,102.1 212.4,96.4 212.5,100.0 212.7,97.3 212.8,98.0 212.9,95.8 213.0,92.5 213.1,94.9 213.2,96.0 213.3,94.1 213.4,95.9 213.5,94.3 213.7,95.9 213.8,97.9 213.9,91.0 214.0,93.9 214.1,93.7 214.2,91.8 214.3,90.8 214.4,90.9 214.6,90.6 214.7,100.0 214.8,94.5 214.9,99.9 215.0,96.8 215.1,97.8 215.2,98.0 215.3,97.7 215.4,101.9 215.6,99.1 215.7,94.8 215.8,96.7 215.9,93.6 216.0,101.7 216.1,96.7 216.2,97.3 216.3,99.9 216.5,105.9 216.6,103.1 216.7,104.7 216.8,103.1 216.9,102.7 217.0,97.5 217.1,95.3 217.2,102.5 217.3,100.7 217.5,103.0 217.6,101.7 217.7,101.4 217.8,102.9 217.9,101.8 218.0,103.4 218.1,101.8 218.2,102.9 218.4,103.4 218.5,101.2 218.6,104.7 218.7,97.8 218.8,99.6 218.9,99.9 219.0,103.6 219.1,96.8 219.2,93.2 219.4,95.1 219.5,99.6 219.6,97.0 219.7,100.7 219.8,100.6 219.9,100.2 220.0,95.7 220.1,97.9 220.3,98.2 220.4,103.1 220.5,97.6 220.6,100.9 220.7,96.6 220.8,101.7 220.9,97.8 221.0,100.5 221.1,100.3 221.3,101.5 221.4,101.0 221.5,98.5 221.6,93.7 221.7,98.2 221.8,97.2 221.9,99.8 222.0,96.4 222.2,96.9 222.3,97.6 222.4,93.1 222.5,103.6 222.6,96.3 222.7,96.1 222.8,95.0 222.9,99.1 223.1,99.6 223.2,96.4 223.3,99.5 223.4,99.7 223.5,99.2 223.6,93.4 223.7,95.7 223.8,95.0 223.9,101.7 224.1,95.1 224.2,94.6 224.3,95.1 224.4,95.6 224.5,103.1 224.6,97.0 224.7,94.8 224.8,101.7 225.0,99.6 225.1,99.3 225.2,97.8 225.3,98.2 225.4,99.7 225.5,96.3 225.6,102.4 225.7,97.7 225.8,98.0 226.0,97.0 226.1,97.5 226.2,89.6 226.3,94.9 226.4,95.1 226.5,95.6 226.6,100.3 226.7,99.7 226.9,93.8 227.0,95.3 227.1,97.3 227.2,99.0 227.3,97.5 227.4,97.9 227.5,101.2 227.6,97.1 227.7,95.1 227.9,98.8 228.0,97.8 228.1,93.6 228.2,99.0 228.3,96.9 228.4,100.1 228.5,95.3 228.6,96.1 228.8,92.4 228.9,94.6 229.0,98.2 229.1,99.7 229.2,94.9 229.3,94.5 229.4,96.3 229.5,93.3 229.6,100.6 229.8,98.8 229.9,100.8 230.0,98.9 230.1,97.5 230.2,99.7 230.3,100.9 230.4,97.5 230.5,102.3 230.7,99.1 230.8,98.4 230.9,101.8 231.0,106.5 231.1,102.9 231.2,102.4 231.3,98.8 231.4,98.2 231.6,98.4 231.7,95.7 231.8,96.8 231.9,101.5 232.0,108.7 232.1,105.4 232.2,107.4 232.3,109.5 232.4,106.8 232.6,109.8 232.7,109.7 232.8,101.6 232.9,109.4 233.0,107.4 233.1,103.9 233.2,106.6 233.3,102.3 233.5,100.6 233.6,104.9 233.7,100.9 233.8,98.8 233.9,99.2 234.0,98.1 234.1,93.6 234.2,93.7 234.3,98.4 234.5,94.4 234.6,100.0 234.7,97.6 234.8,96.2 234.9,99.6 235.0,95.4 235.1,92.6 235.2,94.8 235.4,93.7 235.5,92.6 235.6,94.5 235.7,97.7 235.8,96.3 235.9,95.2 236.0,99.4 236.1,98.2 236.2,95.3 236.4,100.2 236.5,95.9 236.6,96.5 236.7,98.5 236.8,96.9 236.9,93.1 237.0,88.8 237.1,92.5 237.3,92.7 237.4,95.8 237.5,94.9 237.6,96.0 237.7,96.6 237.8,96.5 237.9,95.9 238.0,94.6 238.1,95.0 238.3,96.1 238.4,96.3 238.5,93.0 238.6,96.5 238.7,95.5 238.8,95.3 238.9,98.6 239.0,92.3 239.2,94.8 239.3,92.1 239.4,94.9 239.5,96.2 239.6,90.8 239.7,95.2 239.8,93.3 239.9,90.1 240.1,94.9 240.2,101.9 240.3,97.3 240.4,101.2 240.5,92.2 240.6,93.8 240.7,95.8 240.8,99.3 240.9,94.9 241.1,91.0 241.2,88.1 241.3,94.1 241.4,93.1 241.5,97.8 241.6,89.8 241.7,93.9 241.8,94.4 242.0,95.3 242.1,95.8 242.2,97.8 242.3,96.0 242.4,97.9 242.5,96.0 242.6,96.9 242.7,98.5 242.8,99.0 243.0,95.4 243.1,93.6 243.2,91.5 243.3,92.8 243.4,96.4 243.5,97.1 243.6,101.1 243.7,99.8 243.9,98.9 244.0,102.2 244.1,103.8 244.2,99.7 244.3,100.2 244.4,94.8 244.5,97.9 244.6,95.9 244.7,99.1 244.9,97.1 245.0,100.4 245.1,96.9 245.2,97.7 245.3,96.4 245.4,94.6 245.5,93.9 245.6,91.3 245.8,92.0 245.9,94.8 246.0,94.0 246.1,95.8 246.2,92.1 246.3,93.3 246.4,93.1 246.5,93.2 246.6,97.6 246.8,88.0 246.9,91.1 247.0,91.6 247.1,95.5 247.2,91.3 247.3,86.1 247.4,88.2 247.5,91.8 247.7,90.3 247.8,89.0 247.9,85.9 248.0,89.3 248.1,88.3 248.2,85.5 248.3,89.7 248.4,86.4 248.5,91.6 248.7,88.8 248.8,95.5 248.9,95.3 249.0,91.4 249.1,92.5 249.2,95.0 249.3,94.1 249.4,96.4 249.6,94.2 249.7,92.6 249.8,91.2 249.9,90.9 250.0,93.8 250.1,94.9 250.2,95.7 250.3,95.7 250.5,91.0 250.6,93.1 250.7,96.4 250.8,93.7 250.9,95.9 251.0,103.4 251.1,101.7 251.2,97.7 251.3,94.4 251.5,92.8 251.6,94.1 251.7,87.9 251.8,95.5 251.9,90.8 252.0,99.8 252.1,92.3 252.2,95.3 252.4,95.8 252.5,96.4 252.6,100.6 252.7,96.7 252.8,97.0 252.9,97.5 253.0,100.3 253.1,100.0 253.2,96.7 253.4,95.8 253.5,94.7 253.6,95.5 253.7,95.0 253.8,96.7 253.9,99.2 254.0,95.1 254.1,93.5 254.3,96.3 254.4,98.7 254.5,95.3 254.6,95.2 254.7,97.3 254.8,101.5 254.9,95.0 255.0,92.6 255.1,99.0 255.3,96.8 255.4,95.6 255.5,94.4 255.6,99.0 255.7,96.7 255.8,100.3 255.9,95.2 256.0,97.0 256.2,101.0 256.3,99.6 256.4,96.0 256.5,99.0 256.6,98.0 256.7,97.8 256.8,91.3 256.9,96.2 257.0,91.0 257.2,85.4 257.3,92.5 257.4,91.7 257.5,96.6 257.6,93.3 257.7,94.8 257.8,90.4 257.9,97.8 258.1,98.0 258.2,95.4 258.3,91.5 258.4,93.6 258.5,98.7 258.6,96.1 258.7,92.9 258.8,99.1 259.0,93.0 259.1,96.8 259.2,96.8 259.3,99.4 259.4,95.7 259.5,96.0 259.6,93.5 259.7,96.3 259.8,90.8 260.0,89.4 260.1,93.2 260.2,92.4 260.3,92.1 260.4,93.5 260.5,95.0 260.6,95.1 260.7,94.8 260.9,90.1 261.0,93.7 261.1,92.5 261.2,96.7 261.3,92.0 261.4,97.9 261.5,95.1 261.6,97.0 261.7,97.6 261.9,99.5 262.0,99.8 262.1,96.1 262.2,95.5 262.3,99.9 262.4,97.0 262.5,100.3 262.6,99.6 262.8,96.2 262.9,103.4 263.0,96.5 263.1,92.7 263.2,98.9 263.3,102.1 263.4,95.9 263.5,95.7 263.6,95.0 263.8,92.6 263.9,95.0 264.0,97.5 264.1,92.2 264.2,93.3 264.3,91.1 264.4,100.0 264.5,93.4 264.7,87.8 264.8,85.7 264.9,97.5 265.0,94.8 265.1,96.9 265.2,100.3 265.3,102.3 265.4,96.1 265.5,96.2 265.7,94.7 265.8,99.7 265.9,94.2 266.0,97.2 266.1,98.9 266.2,91.3 266.3,96.2 266.4,97.1 266.6,97.0 266.7,93.1 266.8,95.1 266.9,88.7 267.0,96.4 267.1,94.0 267.2,91.0 267.3,91.5 267.4,91.3 267.6,93.7 267.7,98.1 267.8,95.8 267.9,92.7 268.0,93.1 268.1,92.3 268.2,89.7 268.3,92.2 268.5,89.8 268.6,94.2 268.7,95.7 268.8,93.1 268.9,98.3 269.0,98.1 269.1,98.6 269.2,94.7 269.4,93.3 269.5,94.1 269.6,92.8 269.7,96.9 269.8,99.5 269.9,93.6 270.0,88.2 270.1,89.2 270.2,92.1 270.4,96.1 270.5,94.5 270.6,94.3 270.7,94.2 270.8,94.7 270.9,95.4 271.0,96.2 271.1,93.0 271.3,95.7 271.4,93.8 271.5,97.4 271.6,101.9 271.7,98.4 271.8,97.3 271.9,93.4 272.0,88.3 272.1,94.0 272.3,93.8 272.4,95.8 272.5,98.6 272.6,94.6 272.7,96.1 272.8,97.4 272.9,96.3 273.0,99.1 273.2,95.5 273.3,97.4 273.4,103.7 273.5,99.1 273.6,103.3 273.7,105.8 273.8,107.8 273.9,105.2 274.0,107.0 274.2,105.2 274.3,101.3 274.4,102.1 274.5,102.3 274.6,98.8 274.7,97.6 274.8,102.0 274.9,104.3 275.1,97.7 275.2,99.4 275.3,100.6 275.4,101.5 275.5,100.0 275.6,102.8 275.7,96.7 275.8,101.5 275.9,101.2 276.1,100.6 276.2,104.4 276.3,99.9 276.4,100.6 276.5,103.6 276.6,102.4 276.7,100.9 276.8,98.0 277.0,97.8 277.1,100.8 277.2,95.5 277.3,101.1 277.4,98.3 277.5,100.0 277.6,96.5 277.7,88.9 277.9,94.5 278.0,98.6 278.1,94.9 278.2,95.4 278.3,92.9 278.4,94.9 278.5,88.9 278.6,95.1 278.7,95.4 278.9,95.4 279.0,99.6 279.1,95.2 279.2,97.8 279.3,97.9 279.4,96.8 279.5,100.4 279.6,98.4 279.8,96.7 279.9,102.6 280.0,103.2 280.1,101.5 280.2,109.6 280.3,102.8 280.4,100.1 280.5,101.8 280.6,98.7 280.8,100.8 280.9,101.6 281.0,99.4 281.1,104.7 281.2,99.1 281.3,98.6 281.4,100.9 281.5,100.8 281.7,100.8 281.8,102.9 281.9,102.5 282.0,98.8 282.1,96.5 282.2,98.8 282.3,100.9 282.4,102.1 282.5,98.0 282.7,97.8 282.8,102.0 282.9,103.3 283.0,106.2 283.1,104.2 283.2,110.6 283.3,107.8 283.4,101.9 283.6,105.5 283.7,101.5 283.8,94.8 283.9,98.3 284.0,99.7 284.1,101.8 284.2,101.6 284.3,102.9 284.4,102.5 284.6,98.3 284.7,98.9 284.8,101.9 284.9,103.3 285.0,108.0 285.1,106.5 285.2,106.3 285.3,104.0 285.5,104.5 285.6,101.8 285.7,106.0 285.8,106.0 285.9,104.5 286.0,102.8 286.1,106.7 286.2,106.2 286.4,95.2 286.5,102.7 286.6,102.9 286.7,106.4 286.8,102.3 286.9,103.8 287.0,105.9 287.1,105.6 287.2,102.0 287.4,102.5 287.5,100.5 287.6,102.5 287.7,104.4 287.8,100.1 287.9,98.7 288.0,103.1 288.1,104.4 288.3,105.7 288.4,102.0 288.5,100.9 288.6,101.4 288.7,102.6 288.8,102.8 288.9,104.9 289.0,99.7 289.1,97.2 289.3,100.3 289.4,97.9 289.5,100.8 289.6,97.0 289.7,94.6 289.8,98.0 289.9,97.9 290.0,94.8 290.2,95.6 290.3,92.4 290.4,92.9 290.5,97.8 290.6,89.9 290.7,88.0 290.8,86.4 290.9,88.6 291.0,90.9 291.2,92.2 291.3,92.9 291.4,98.3 291.5,94.6 291.6,96.4 291.7,97.1 291.8,99.5 291.9,97.5 292.1,95.8 292.2,99.2 292.3,102.1 292.4,101.0 292.5,99.4 292.6,99.8 292.7,101.9 292.8,102.5 292.9,101.8 293.1,100.3 293.2,98.4 293.3,100.8 293.4,91.9 293.5,96.5 293.6,95.3 293.7,90.1 293.8,90.1 294.0,89.3 294.1,92.3 294.2,93.1 294.3,93.0 294.4,95.3 294.5,93.7 294.6,93.1 294.7,93.2 294.8,92.8 295.0,95.4 295.1,101.8 295.2,101.8 295.3,94.4 295.4,95.9 295.5,99.9 295.6,93.8 295.7,97.1 295.9,96.2 296.0,94.5 296.1,94.5 296.2,98.5 296.3,96.1 296.4,100.6 296.5,97.4 296.6,101.6 296.8,98.7 296.9,99.9 297.0,97.9 297.1,99.2 297.2,101.3 297.3,99.5 297.4,95.1 297.5,98.7 297.6,100.6 297.8,103.9 297.9,102.9 298.0,107.1 298.1,108.0 298.2,104.1 298.3,102.0 298.4,103.3 298.5,97.0 298.7,99.0 298.8,97.6 298.9,100.4 299.0,99.4 299.1,93.6 299.2,89.7 299.3,93.0 299.4,92.6 299.5,101.1 299.7,98.5 299.8,95.2 299.9,97.2 300.0,100.9 300.1,95.4 300.2,92.6 300.3,92.5 300.4,96.7 300.6,95.0 300.7,96.5 300.8,101.8 300.9,94.8 301.0,100.4 301.1,98.6 301.2,99.9 301.3,101.5 301.4,101.0 301.6,100.1 301.7,101.2 301.8,99.5 301.9,101.3 302.0,98.6 302.1,97.1 302.2,95.9 302.3,97.8 302.5,96.5 302.6,95.4 302.7,93.9 302.8,92.4 302.9,95.8 303.0,99.4 303.1,99.6 303.2,100.6 303.3,103.1 303.5,103.0 303.6,101.9 303.7,104.0 303.8,101.8 303.9,100.7 304.0,99.8 304.1,103.3 304.2,105.0 304.4,101.1 304.5,110.8 304.6,108.4 304.7,107.4 304.8,105.0 304.9,104.6 305.0,109.4 305.1,108.0 305.3,109.5 305.4,110.2 305.5,108.6 305.6,108.3 305.7,104.8 305.8,104.0 305.9,103.8 306.0,104.7 306.1,100.6 306.3,97.7 306.4,103.6 306.5,103.4 306.6,102.9 306.7,101.3 306.8,101.2 306.9,101.5 307.0,105.8 307.2,100.6 307.3,103.9 307.4,102.1 307.5,106.2 307.6,103.7 307.7,102.6 307.8,103.2 307.9,103.8 308.0,108.7 308.2,105.8 308.3,108.9 308.4,106.7 308.5,107.5 308.6,104.9 308.7,106.2 308.8,104.7 308.9,109.5 309.1,108.0 309.2,101.0 309.3,102.2 309.4,100.0 309.5,97.8 309.6,96.3 309.7,97.1 309.8,100.6 309.9,100.4 310.1,100.7 310.2,104.1 310.3,102.7 310.4,107.8 310.5,104.6 310.6,106.3 310.7,106.9 310.8,106.9 311.0,100.7 311.1,104.4 311.2,105.7 311.3,102.6 311.4,102.6 311.5,101.8 311.6,98.0 311.7,99.6 311.8,100.6 312.0,102.9 312.1,102.9 312.2,100.6 312.3,100.0 312.4,100.8 312.5,103.8 312.6,99.4 312.7,100.3 312.9,103.4 313.0,106.4 313.1,106.8 313.2,108.4 313.3,105.6 313.4,109.6 313.5,104.3 313.6,101.5 313.8,105.1 313.9,105.2 314.0,103.5 314.1,104.4 314.2,105.6 314.3,105.9 314.4,102.7 314.5,104.9 314.6,100.9 314.8,106.3 314.9,104.4 315.0,107.4 315.1,108.8 315.2,111.2 315.3,112.7 315.4,109.8 315.5,106.6 315.7,108.4 315.8,108.4 315.9,106.4 316.0,103.2 316.1,102.5 316.2,99.3 316.3,104.7 316.4,108.1 316.5,111.6 316.7,111.7 316.8,110.6 316.9,108.8 317.0,110.5 317.1,108.9 317.2,110.1 317.3,107.1 317.4,106.7 317.6,107.5 317.7,107.0 317.8,108.5 317.9,106.3 318.0,109.0 318.1,106.4 318.2,103.0 318.3,103.9 318.4,105.3 318.6,104.4 318.7,108.2 318.8,104.8 318.9,100.4 319.0,102.3 319.1,102.9 319.2,104.7 319.3,102.5 319.5,100.7 319.6,101.0 319.7,99.3 319.8,103.3 319.9,102.9 320.0,104.6 320.1,106.4 320.2,103.1 320.3,105.7 320.5,103.6 320.6,101.4 320.7,103.6 320.8,101.3 320.9,107.1 321.0,104.9 321.1,106.9 321.2,106.8 321.4,100.5 321.5,106.4 321.6,98.8 321.7,98.2 321.8,99.7 321.9,99.9 322.0,100.8 322.1,105.6 322.2,104.3 322.4,105.6 322.5,104.6 322.6,103.6 322.7,106.0 322.8,108.1 322.9,105.6 323.0,110.6 323.1,113.3 323.3,106.5 323.4,106.3 323.5,112.3 323.6,111.6 323.7,111.4 323.8,112.8 323.9,110.9 324.0,114.1 324.2,111.6 324.3,111.7 324.4,111.9 324.5,112.8 324.6,110.6 324.7,106.9 324.8,111.9 324.9,110.3 325.0,107.9 325.2,109.1 325.3,108.2 325.4,103.6 325.5,109.4 325.6,106.0 325.7,98.4 325.8,107.7 325.9,108.1 326.1,108.9 326.2,100.0 326.3,101.0 326.4,96.5 326.5,99.5 326.6,101.0 326.7,102.2 326.8,98.5 326.9,101.8 327.1,106.4 327.2,107.9 327.3,105.2 327.4,105.6 327.5,101.7 327.6,101.6 327.7,100.7 327.8,106.5 328.0,109.0 328.1,108.3 328.2,111.7 328.3,108.2 328.4,102.8 328.5,107.9 328.6,106.6 328.7,109.6 328.8,110.8 329.0,110.8 329.1,111.4 329.2,107.7 329.3,110.4 329.4,112.7 329.5,113.7 329.6,113.3 329.7,111.5 329.9,111.5 330.0,110.4 330.1,108.2 330.2,107.6 330.3,110.8 330.4,108.1 330.5,107.5 330.6,113.4 330.7,106.9 330.9,108.3 331.0,106.4 331.1,110.9 331.2,109.5 331.3,104.6 331.4,104.9 331.5,106.2 331.6,109.3 331.8,109.9 331.9,106.0 332.0,104.8 332.1,101.2 332.2,105.2 332.3,108.0 332.4,105.7 332.5,101.3 332.7,102.9 332.8,105.1 332.9,109.0 333.0,109.2 333.1,107.7 333.2,110.1 333.3,112.1 333.4,107.1 333.5,109.5 333.7,107.6 333.8,101.1 333.9,103.8 334.0,110.9 334.1,105.1 334.2,111.1 334.3,114.3 334.4,108.4 334.6,108.6 334.7,112.9 334.8,111.8 334.9,107.3 335.0,110.0 335.1,110.4 335.2,107.0 335.3,106.4 335.4,109.5 335.6,114.3 335.7,115.1 335.8,106.5 335.9,106.2 336.0,108.3 336.1,110.7 336.2,105.9 336.3,109.7 336.5,104.5 336.6,106.7 336.7,103.7 336.8,108.4 336.9,102.6 337.0,103.6 337.1,107.8 337.2,108.3 337.3,103.2 337.5,106.3 337.6,110.6 337.7,111.2 337.8,115.6 337.9,116.0 338.0,111.9 338.1,110.0 338.2,105.9 338.4,108.6 338.5,112.0 338.6,112.2 338.7,111.1 338.8,112.6 338.9,112.0 339.0,114.4 339.1,121.8 339.2,116.3 339.4,117.5 339.5,113.4 339.6,109.6 339.7,115.7 339.8,118.9 339.9,118.6 340.0,117.8 340.1,122.6 340.3,118.6 340.4,114.4 340.5,114.7 340.6,114.3 340.7,113.9 340.8,110.2 340.9,114.0 341.0,116.1 341.2,117.2 341.3,121.5 341.4,114.9 341.5,115.8 341.6,114.4 341.7,113.1 341.8,119.6 341.9,119.8 342.0,111.3 342.2,115.2 342.3,113.1 342.4,114.0 342.5,111.6 342.6,108.3 342.7,109.6 342.8,110.5 342.9,117.5 343.1,111.7 343.2,108.8 343.3,103.4 343.4,109.9 343.5,108.9 343.6,106.7 343.7,107.7 343.8,109.4 343.9,112.4 344.1,111.0 344.2,113.5 344.3,115.7 344.4,109.8 344.5,109.8 344.6,110.4 344.7,114.3 344.8,112.6 345.0,111.1 345.1,110.1 345.2,109.2 345.3,103.9 345.4,104.1 345.5,105.0 345.6,107.8 345.7,109.6 345.8,106.9 346.0,107.1 346.1,110.4 346.2,109.7 346.3,107.2 346.4,112.2 346.5,112.4 346.6,105.2 346.7,108.0 346.9,105.7 347.0,107.6 347.1,111.1 347.2,109.1 347.3,112.8 347.4,114.2 347.5,113.5 347.6,115.4 347.7,116.2 347.9,114.2 348.0,115.4 348.1,114.1 348.2,116.4 348.3,110.5 348.4,112.3 348.5,110.6 348.6,111.6 348.8,112.3 348.9,111.5 349.0,113.8 349.1,111.1 349.2,114.5 349.3,113.7 349.4,118.5 349.5,116.5 349.6,119.8 349.8,118.5 349.9,119.0 350.0,117.9 350.1,112.3 350.2,112.1 350.3,111.6 350.4,116.8 350.5,112.1 350.7,115.6 350.8,114.5 350.9,115.8 351.0,106.8 351.1,114.7 351.2,113.4 351.3,110.8 351.4,112.1 351.6,112.6 351.7,107.3 351.8,108.8 351.9,111.1 352.0,109.5 352.1,109.2 352.2,114.6 352.3,115.2 352.4,116.2 352.6,118.5 352.7,117.4 352.8,114.8 352.9,114.5 353.0,114.7 353.1,112.3 353.2,116.3 353.3,117.4 353.5,113.7 353.6,111.8 353.7,117.0 353.8,115.8 353.9,118.2 354.0,117.8 354.1,112.1 354.2,116.8 354.3,111.1 354.5,109.0 354.6,108.4 354.7,109.7 354.8,116.1 354.9,116.3 355.0,112.1 355.1,114.7 355.2,114.0 355.4,114.7 355.5,118.3 355.6,121.4 355.7,119.1 355.8,120.6 355.9,114.8 356.0,116.8 356.1,114.4 356.2,113.0 356.4,113.3 356.5,113.2 356.6,114.4 356.7,113.3 356.8,114.5 356.9,111.5 357.0,113.3 357.1,109.5 357.3,112.6 357.4,106.8 357.5,113.3 357.6,114.4 357.7,107.9 357.8,108.1 357.9,106.2 358.0,103.9 358.1,106.5 358.3,106.7 358.4,109.9 358.5,105.9 358.6,108.3 358.7,105.0 358.8,108.2 358.9,108.5 359.0,109.9 359.2,113.0 359.3,115.9 359.4,113.1 359.5,110.2 359.6,114.0 359.7,106.4 359.8,106.0 359.9,113.4 360.1,110.9 360.2,107.9 360.3,111.8 360.4,113.4 360.5,109.2 360.6,108.0 360.7,107.2 360.8,104.9 360.9,104.7 361.1,98.8 361.2,104.6 361.3,106.0 361.4,105.2 361.5,102.4 361.6,103.5 361.7,107.4 361.8,113.3 362.0,110.8 362.1,108.6 362.2,109.2 362.3,112.8 362.4,108.8 362.5,110.3 362.6,109.1 362.7,108.5 362.8,109.4 363.0,112.0 363.1,109.9 363.2,110.8 363.3,108.0 363.4,108.8 363.5,108.9 363.6,111.2 363.7,109.9 363.9,108.6 364.0,110.7 364.1,111.7 364.2,104.6 364.3,102.4 364.4,102.8 364.5,100.6 364.6,97.6 364.7,103.1 364.9,98.7 365.0,94.4 365.1,100.3 365.2,100.0 365.3,97.3 365.4,100.7 365.5,100.5 365.6,107.2 365.8,102.5 365.9,101.4 366.0,98.7 366.1,100.1 366.2,100.7 366.3,103.1 366.4,101.2 366.5,102.3 366.6,107.1 366.8,104.5 366.9,104.1 367.0,108.0 367.1,107.2 367.2,102.0 367.3,102.9 367.4,97.9 367.5,95.9 367.7,97.5 367.8,97.8 367.9,101.5 368.0,102.2 368.1,97.5 368.2,96.3 368.3,98.7 368.4,96.0 368.6,105.0 368.7,102.9 368.8,100.7 368.9,101.7 369.0,99.6 369.1,103.0 369.2,100.4 369.3,99.7 369.4,98.7 369.6,103.8 369.7,107.6 369.8,109.8 369.9,106.6 370.0,107.1 370.1,108.3 370.2,106.2 370.3,107.2 370.5,107.1 370.6,101.7 370.7,110.8 370.8,108.6 370.9,106.1 371.0,108.0 371.1,108.1 371.2,104.9 371.3,101.5 371.5,107.2 371.6,102.5 371.7,105.4 371.8,109.9 371.9,109.3 372.0,106.7 372.1,105.1 372.2,105.3 372.4,104.4 372.5,102.4 372.6,105.7 372.7,111.2 372.8,106.3 372.9,109.0 373.0,105.7 373.1,108.6 373.2,104.2 373.4,108.0 373.5,105.2 373.6,105.2 373.7,103.3 373.8,102.0 373.9,103.9 374.0,105.0 374.1,103.6 374.3,109.1 374.4,105.8 374.5,105.0 374.6,104.5 374.7,104.4 374.8,102.7 374.9,104.3 375.0,103.3 375.1,105.8 375.3,99.1 375.4,101.5 375.5,99.7 375.6,102.9 375.7,101.5 375.8,105.4 375.9,105.0 376.0,105.1 376.2,107.5 376.3,104.0 376.4,101.7 376.5,103.4 376.6,103.8 376.7,112.6 376.8,105.1 376.9,103.1 377.0,102.1 377.2,103.9 377.3,106.1 377.4,105.0 377.5,105.9 377.6,101.8 377.7,102.0 377.8,103.6 377.9,101.7 378.1,103.8 378.2,101.7 378.3,98.5 378.4,103.5 378.5,102.6 378.6,101.7 378.7,106.0 378.8,105.9 379.0,108.4 379.1,107.2 379.2,105.8 379.3,107.5 379.4,108.6 379.5,106.9 379.6,106.4 379.7,100.6 379.8,103.3 380.0,108.4 380.1,106.4 380.2,105.7 380.3,106.3 380.4,103.7 380.5,102.8 380.6,101.2 380.7,102.2 380.9,102.5 381.0,104.9 381.1,98.9 381.2,100.5 381.3,105.0 381.4,102.4 381.5,101.9 381.6,102.8 381.7,100.3 381.9,99.8 382.0,98.2 382.1,100.6 382.2,104.6 382.3,106.0 382.4,103.6 382.5,104.9 382.6,105.4 382.8,106.1 382.9,102.8 383.0,104.2 383.1,105.4 383.2,102.3 383.3,101.2 383.4,99.0 383.5,103.3 383.6,96.9 383.8,99.1 383.9,100.9 384.0,101.3 384.1,104.8 384.2,99.7 384.3,101.6 384.4,99.2 384.5,100.1 384.7,100.0 384.8,99.0 384.9,102.5 385.0,101.6 385.1,98.0 385.2,95.4 385.3,100.0 385.4,98.7 385.5,100.0 385.7,95.9 385.8,97.2 385.9,92.8 386.0,93.7 386.1,93.5 386.2,94.4 386.3,93.1 386.4,97.7 386.6,99.5 386.7,101.4 386.8,94.5 386.9,99.7 387.0,97.1 387.1,94.1 387.2,99.1 387.3,94.0 387.5,94.8 387.6,101.3 387.7,101.4 387.8,103.8 387.9,100.1 388.0,97.4 388.1,96.5 388.2,96.7 388.3,95.5 388.5,91.6 388.6,99.3 388.7,101.2 388.8,101.5 388.9,100.4 389.0,98.3 389.1,97.9 389.2,97.0 389.4,104.6 389.5,98.2 389.6,99.6 389.7,102.4 389.8,99.5 389.9,102.8 390.0,104.8 390.1,103.5 390.2,100.6 390.4,96.8 390.5,98.3 390.6,96.2 390.7,100.6 390.8,102.8 390.9,99.6 391.0,96.2 391.1,95.7 391.3,98.5 391.4,103.3 391.5,97.9 391.6,97.2 391.7,99.1 391.8,98.0 391.9,99.0 392.0,103.1 392.1,96.7 392.3,95.9 392.4,100.3 392.5,99.3 392.6,98.0 392.7,98.5 392.8,99.5 392.9,105.1 393.0,99.0 393.2,103.1 393.3,100.0 393.4,104.7 393.5,102.9 393.6,100.6 393.7,98.5 393.8,99.5 393.9,99.0 394.0,95.2 394.2,94.0 394.3,98.1 394.4,101.1 394.5,96.4 394.6,97.8 394.7,100.0 394.8,101.5 394.9,98.8 395.1,100.3 395.2,100.4 395.3,100.0 395.4,95.7 395.5,98.4 395.6,101.2 395.7,98.2 395.8,99.4 396.0,96.3 396.1,96.9 396.2,97.0 396.3,99.0 396.4,98.6 396.5,99.2 396.6,93.8 396.7,94.6 396.8,96.7 397.0,98.4 397.1,98.0 397.2,94.9 397.3,97.3 397.4,97.8 397.5,99.8 397.6,91.4 397.7,98.7 397.9,94.5 398.0,94.2 398.1,95.9 398.2,97.7 398.3,104.0 398.4,98.1 398.5,98.7 398.6,99.1 398.7,96.3 398.9,99.6 399.0,99.0 399.1,97.5 399.2,92.3 399.3,101.3 399.4,96.1 399.5,94.6 399.6,95.6 399.8,95.8 399.9,95.9 400.0,91.1 400.1,92.3 400.2,90.8 400.3,96.7 400.4,95.6 400.5,91.9 400.6,93.8 400.8,93.1 400.9,93.7 401.0,90.3 401.1,95.9 401.2,94.3 401.3,98.1 401.4,95.8 401.5,96.6 401.7,99.1 401.8,98.3 401.9,90.4 402.0,93.0 402.1,89.5 402.2,88.2 402.3,92.2 402.4,92.4 402.5,95.2 402.7,98.1 402.8,94.3 402.9,99.1 403.0,101.9 403.1,106.0 403.2,102.1 403.3,99.6 403.4,96.6 403.6,95.0 403.7,100.4 403.8,98.6 403.9,98.6 404.0,99.1 404.1,101.8 404.2,97.2 404.3,93.5 404.4,95.1 404.6,99.2 404.7,94.2 404.8,94.2 404.9,93.9 405.0,96.9 405.1,99.0 405.2,95.6 405.3,99.6 405.5,94.6 405.6,95.0 405.7,90.6 405.8,93.8 405.9,90.4 406.0,94.2 406.1,89.6 406.2,85.8 406.4,88.3 406.5,94.3 406.6,91.0 406.7,93.6 406.8,90.8 406.9,91.9 407.0,90.8 407.1,88.1 407.2,90.3 407.4,87.5 407.5,88.9 407.6,95.0 407.7,91.7 407.8,90.4 407.9,87.8 408.0,94.1 408.1,91.0 408.3,90.9 408.4,83.9 408.5,83.3 408.6,83.6 408.7,92.2 408.8,88.2 408.9,92.1 409.0,86.4 409.1,86.3 409.3,93.9 409.4,91.9 409.5,89.1 409.6,93.7 409.7,94.2 409.8,94.6 409.9,92.7 410.0,94.5 410.2,94.4 410.3,97.4 410.4,99.0 410.5,92.8 410.6,93.0 410.7,85.0 410.8,88.2 410.9,90.3 411.0,90.9 411.2,90.5 411.3,92.0 411.4,94.5 411.5,93.0 411.6,89.5 411.7,89.8 411.8,90.3 411.9,85.6 412.1,89.8 412.2,90.9 412.3,85.3 412.4,89.7 412.5,86.5 412.6,89.3 412.7,87.2 412.8,83.9 412.9,82.8 413.1,86.4 413.2,91.3 413.3,88.9 413.4,93.0 413.5,94.4 413.6,90.8 413.7,88.5 413.8,92.2 414.0,94.4 414.1,91.1 414.2,86.4 414.3,87.9 414.4,90.2 414.5,90.5 414.6,86.5 414.7,89.6 414.9,87.5 415.0,88.5 415.1,97.8 415.2,91.7 415.3,85.6 415.4,90.9 415.5,93.4 415.6,93.1 415.7,92.6 415.9,94.4 416.0,97.4 416.1,91.0 416.2,90.5 416.3,91.9 416.4,97.1 416.5,97.3 416.6,89.8 416.8,89.8 416.9,95.0 417.0,92.0 417.1,96.4 417.2,94.8 417.3,100.1 417.4,98.0 417.5,101.7 417.6,97.5 417.8,99.9 417.9,93.8 418.0,90.3 418.1,94.2 418.2,94.8 418.3,94.0 418.4,96.2 418.5,91.7 418.7,91.7 418.8,97.0 418.9,89.1 419.0,91.6 419.1,85.7 419.2,87.8 419.3,86.5 419.4,88.9 419.5,88.8 419.7,85.6 419.8,86.5 419.9,91.1 420.0,88.1 420.1,92.5 420.2,96.2 420.3,94.7 420.4,89.5 420.6,91.9 420.7,92.8 420.8,89.3 420.9,87.0 421.0,89.2 421.1,91.4 421.2,85.9 421.3,92.2 421.4,92.4 421.6,94.4 421.7,92.5 421.8,83.0 421.9,84.5 422.0,84.2 422.1,96.7 422.2,92.3 422.3,95.3 422.5,91.0 422.6,95.6 422.7,94.0 422.8,89.9 422.9,94.4 423.0,96.0 423.1,97.1 423.2,86.6 423.4,90.6 423.5,96.2 423.6,94.4 423.7,94.2 423.8,92.8 423.9,95.9 424.0,97.7 424.1,101.5 424.2,96.5 424.4,94.8 424.5,92.4 424.6,98.2 424.7,102.8 424.8,100.9 424.9,99.1 425.0,101.5 425.1,101.9 425.3,97.1 425.4,101.9 425.5,101.2 425.6,100.4 425.7,101.7 425.8,100.6 425.9,96.9 426.0,102.3 426.1,98.6 426.3,101.5 426.4,97.8 426.5,97.2 426.6,100.7 426.7,101.9 426.8,97.6 426.9,98.5 427.0,100.6 427.2,97.4 427.3,92.9 427.4,91.8 427.5,99.8 427.6,96.7 427.7,100.2 427.8,95.7 427.9,95.5 428.0,97.9 428.2,95.3 428.3,95.1 428.4,95.5 428.5,98.0 428.6,99.7 428.7,101.5 428.8,97.6 428.9,96.4 429.1,97.2 429.2,96.3 429.3,94.8 429.4,96.8 429.5,99.7 429.6,95.9 429.7,93.4 429.8,94.0 429.9,99.1 430.1,96.3 430.2,97.4 430.3,92.1 430.4,93.9 430.5,90.0 430.6,87.3 430.7,93.3 430.8,82.6 431.0,88.4 431.1,85.2 431.2,89.8 431.3,89.6 431.4,85.6 431.5,88.5 431.6,86.6 431.7,92.3 431.8,93.1 432.0,88.3 432.1,91.1 432.2,94.5 432.3,92.4 432.4,96.4 432.5,92.1 432.6,88.0 432.7,97.2 432.9,93.0 433.0,96.0 433.1,93.1 433.2,88.0 433.3,97.4 433.4,90.5 433.5,92.2 433.6,96.0 433.8,90.4 433.9,95.2 434.0,98.6 434.1,97.4 434.2,98.1 434.3,92.5 434.4,91.5 434.5,88.3 434.6,87.8 434.8,83.5 434.9,87.5 435.0,87.9 435.1,86.1 435.2,84.2 435.3,89.0 435.4,91.3 435.5,91.1 435.7,91.8 435.8,93.3 435.9,87.5 436.0,92.3 436.1,88.5 436.2,89.9 436.3,96.4 436.4,94.7 436.5,93.5 436.7,98.0 436.8,90.8 436.9,88.2 437.0,85.7 437.1,87.0 437.2,91.2 437.3,94.5 437.4,93.2 437.6,94.6 437.7,93.8 437.8,88.8 437.9,93.3 438.0,89.3 438.1,93.5 438.2,91.5 438.3,88.0 438.4,92.3 438.6,91.2 438.7,96.7 438.8,95.0 438.9,94.5 439.0,95.8 439.1,98.0 439.2,95.5 439.3,95.9 439.5,95.3 439.6,90.1 439.7,89.0 439.8,85.8 439.9,86.2 440.0,90.3 440.1,88.7 440.2,89.3 440.3,85.7 440.5,87.5 440.6,89.8 440.7,88.3 440.8,85.1 440.9,85.2 441.0,87.8 441.1,90.0 441.2,89.3 441.4,91.7 441.5,94.2 441.6,89.9 441.7,94.8 441.8,91.9 441.9,92.7 442.0,94.7 442.1,94.4 442.3,88.2 442.4,95.3 442.5,90.6 442.6,94.9 442.7,93.6 442.8,95.9 442.9,95.1 443.0,91.3 443.1,90.6 443.3,94.9 443.4,93.0 443.5,87.8 443.6,89.7 443.7,89.5 443.8,92.4 443.9,89.7 444.0,92.4 444.2,96.1 444.3,94.8 444.4,92.9 444.5,94.0 444.6,93.0 444.7,93.8 444.8,93.3 444.9,89.5 445.0,90.5 445.2,87.8 445.3,90.4 445.4,88.9 445.5,89.5 445.6,90.2 445.7,92.3 445.8,92.2 445.9,96.2 446.1,94.0 446.2,97.2 446.3,91.9 446.4,91.2 446.5,92.2 446.6,90.9 446.7,89.9 446.8,91.7 446.9,92.7 447.1,89.1 447.2,91.6 447.3,92.4 447.4,87.9 447.5,82.2 447.6,83.9 447.7,86.2 447.8,90.3 448.0,89.7 448.1,92.2 448.2,86.0 448.3,91.1 448.4,87.5 448.5,84.0 448.6,83.9 448.7,88.1 448.8,89.2 449.0,94.1 449.1,89.8 449.2,89.4 449.3,89.8 449.4,88.6 449.5,87.3 449.6,90.5 449.7,91.8 449.9,89.4 450.0,97.3 450.1,88.7 450.2,92.7 450.3,91.5 450.4,89.1 450.5,88.8 450.6,84.9 450.8,86.7 450.9,87.3 451.0,91.1 451.1,93.0 451.2,93.5 451.3,92.4 451.4,96.4 451.5,87.8 451.6,90.6 451.8,89.1 451.9,91.9 452.0,89.2 452.1,92.0 452.2,89.5 452.3,88.0 452.4,88.4 452.5,90.4 452.7,92.0 452.8,85.9 452.9,87.5 453.0,86.8 453.1,85.4 453.2,87.5 453.3,86.9 453.4,90.1 453.5,84.5 453.7,83.8 453.8,83.6 453.9,85.4 454.0,85.8 454.1,87.4 454.2,88.3 454.3,85.1 454.4,87.8 454.6,88.2 454.7,91.7 454.8,95.4 454.9,92.0 455.0,91.4"/>
<polyline stroke="#1a1aff" points="52.5,203.0 52.6,177.3 52.7,157.4 52.8,158.5 52.9,155.5 53.1,155.8 53.2,151.8 53.3,155.6 53.4,153.4 53.5,154.0 53.6,155.6 53.7,152.4 53.8,151.4 54.0,155.8 54.1,151.4 54.2,146.5 54.3,147.4 54.4,143.4 54.5,143.1 54.6,139.8 54.7,142.2 54.8,142.2 55.0,146.1 55.1,146.0 55.2,146.4 55.3,144.1 55.4,142.3 55.5,137.2 55.6,143.9 55.7,139.8 55.9,136.7 56.0,134.3 56.1,135.9 56.2,137.6 56.3,134.3 56.4,132.8 56.5,136.2 56.6,131.3 56.7,136.2 56.9,136.6 57.0,131.2 57.1,131.8 57.2,137.1 57.3,133.9 57.4,131.5 57.5,129.3 57.6,131.8 57.8,134.8 57.9,134.8 58.0,133.9 58.1,134.8 58.2,132.1 58.3,127.3 58.4,130.9 58.5,130.9 58.7,129.9 58.8,128.8 58.9,131.6 59.0,129.1 59.1,135.1 59.2,135.4 59.3,137.2 59.4,132.1 59.5,133.4 59.7,127.5 59.8,127.2 59.9,129.7 60.0,127.5 60.1,126.7 60.2,127.6 60.3,127.4 60.4,126.9 60.6,128.9 60.7,128.1 60.8,126.9 60.9,126.4 61.0,131.8 61.1,129.3 61.2,127.4 61.3,123.8 61.4,126.3 61.6,126.4 61.7,127.2 61.8,130.1 61.9,127.8 62.0,129.3 62.1,125.7 62.2,129.7 62.3,125.2 62.5,129.3 62.6,127.8 62.7,127.5 62.8,119.8 62.9,126.4 63.0,129.1 63.1,124.1 63.2,129.3 63.3,132.0 63.5,130.7 63.6,134.1 63.7,130.4 63.8,136.9 63.9,131.6 64.0,132.7 64.1,139.0 64.2,138.1 64.4,132.1 64.5,127.4 64.6,126.8 64.7,125.5 64.8,123.0 64.9,123.5 65.0,122.2 65.1,128.7 65.2,130.5 65.4,130.0 65.5,129.0 65.6,127.6 65.7,129.7 65.8,125.5 65.9,131.0 66.0,124.8 66.1,121.4 66.3,124.9 66.4,124.7 66.5,127.6 66.6,125.2 66.7,125.3 66.8,123.3 66.9,126.7 67.0,122.9 67.2,124.6 67.3,128.3 67.4,126.4 67.5,131.2 67.6,130.8 67.7,133.5 67.8,132.4 67.9,129.7 68.0,125.6 68.2,129.2 68.3,129.7 68.4,130.4 68.5,131.1 68.6,130.7 68.7,133.8 68.8,131.9 68.9,132.5 69.1,133.7 69.2,133.0 69.3,136.5 69.4,137.1 69.5,139.6 69.6,127.3 69.7,128.5 69.8,126.9 69.9,126.5 70.1,128.1 70.2,127.8 70.3,126.9 70.4,131.3 70.5,123.5 70.6,129.9 70.7,136.0 70.8,135.1 71.0,134.6 71.1,136.2 71.2,135.4 71.3,133.9 71.4,142.8 71.5,134.2 71.6,131.8 71.7,135.5 71.8,131.9 72.0,135.6 72.1,133.9 72.2,138.0 72.3,140.8 72.4,135.7 72.5,132.5 72.6,133.4 72.7,138.7 72.9,135.5 73.0,130.1 73.1,133.1 73.2,134.0 73.3,138.7 73.4,137.9 73.5,139.0 73.6,137.7 73.7,136.8 73.9,138.8 74.0,137.7 74.1,140.9 74.2,137.0 74.3,132.7 74.4,137.1 74.5,135.6 74.6,136.5 74.8,131.9 74.9,133.8 75.0,132.0 75.1,136.0 75.2,135.8 75.3,132.9 75.4,136.0 75.5,130.8 75.7,122.9 75.8,129.7 75.9,129.0 76.0,127.5 76.1,126.4 76.2,124.3 76.3,125.9 76.4,122.3 76.5,130.7 76.7,123.5 76.8,124.9 76.9,125.4 77.0,126.0 77.1,133.3 77.2,130.4 77.3,131.3 77.4,129.3 77.6,127.6 77.7,128.3 77.8,127.3 77.9,124.8 78.0,117.9 78.1,123.5 78.2,123.9 78.3,128.2 78.4,124.4 78.6,127.8 78.7,124.2 78.8,128.8 78.9,127.8 79.0,127.4 79.1,129.9 79.2,127.8 79.3,127.9 79.5,130.8 79.6,130.9 79.7,129.2 79.8,131.1 79.9,125.6 80.0,129.1 80.1,127.2 80.2,129.9 80.3,127.2 80.5,128.1 80.6,127.7 80.7,128.2 80.8,127.7 80.9,129.0 81.0,130.5 81.1,127.0 81.2,127.4 81.4,125.7 81.5,127.5 81.6,129.7 81.7,131.0 81.8,131.2 81.9,131.2 82.0,128.1 82.1,123.3 82.2,122.4 82.4,125.1 82.5,120.0 82.6,122.5 82.7,129.9 82.8,123.9 82.9,130.1 83.0,126.1 83.1,124.7 83.3,125.3 83.4,127.0 83.5,125.6 83.6,126.5 83.7,122.4 83.8,123.7 83.9,124.0 84.0,123.9 84.1,124.7 84.3,126.5 84.4,127.8 84.5,130.1 84.6,128.6 84.7,129.4 84.8,132.6 84.9,133.3 85.0,128.2 85.2,133.9 85.3,135.2 85.4,133.0 85.5,133.4 85.6,126.2 85.7,134.9 85.8,128.8 85.9,129.5 86.1,133.6 86.2,127.1 86.3,131.5 86.4,131.3 86.5,131.7 86.6,132.6 86.7,133.7 86.8,130.6 86.9,132.8 87.1,130.8 87.2,133.7 87.3,131.0 87.4,134.7 87.5,132.8 87.6,139.0 87.7,134.9 87.8,126.1 88.0,132.3 88.1,128.2 88.2,130.8 88.3,131.0 88.4,134.7 88.5,132.4 88.6,131.4 88.7,129.1 88.8,124.2 89.0,126.5 89.1,128.9 89.2,125.0 89.3,120.9 89.4,117.3 89.5,116.9 89.6,121.4 89.7,121.0 89.9,118.2 90.0,118.6 90.1,122.0 90.2,114.7 90.3,119.3 90.4,114.4 90.5,117.1 90.6,118.8 90.7,119.4 90.9,117.4 91.0,115.6 91.1,118.0 91.2,120.6 91.3,122.6 91.4,120.8 91.5,120.1 91.6,121.0 91.8,116.6 91.9,118.4 92.0,118.3 92.1,117.4 92.2,121.7 92.3,119.1 92.4,115.0 92.5,118.1 92.6,119.8 92.8,121.8 92.9,116.0 93.0,115.8 93.1,119.8 93.2,120.1 93.3,115.8 93.4,114.0 93.5,118.4 93.7,119.8 93.8,120.1 93.9,125.0 94.0,125.0 94.1,124.1 94.2,122.0 94.3,124.8 94.4,120.4 94.6,121.9 94.7,123.5 94.8,124.0 94.9,125.0 95.0,120.5 95.1,120.8 95.2,117.8 95.3,120.1 95.4,125.4 95.6,119.7 95.7,118.2 95.8,119.1 95.9,121.0 96.0,117.9 96.1,124.0 96.2,118.2 96.3,120.0 96.5,118.5 96.6,123.0 96.7,123.4 96.8,120.3 96.9,122.8 97.0,120.2 97.1,117.5 97.2,121.9 97.3,123.2 97.5,126.3 97.6,117.9 97.7,115.9 97.8,111.2 97.9,113.9 98.0,110.3 98.1,111.4 98.2,115.0 98.4,117.9 98.5,118.2 98.6,116.1 98.7,121.5 98.8,120.9 98.9,119.1 99.0,117.0 99.1,118.3 99.2,120.4 99.4,122.4 99.5,121.5 99.6,121.6 99.7,113.5 99.8,120.4 99.9,122.0 100.0,123.2 100.1,121.6 100.3,118.8 100.4,123.3 100.5,126.0 100.6,130.9 100.7,122.8 100.8,123.1 100.9,116.7 101.0,118.9 101.1,119.4 101.3,126.9 101.4,126.0 101.5,129.2 101.6,125.7 101.7,125.5 101.8,117.9 101.9,120.9 102.0,115.5 102.2,120.3 102.3,120.1 102.4,120.1 102.5,121.5 102.6,117.9 102.7,126.0 102.8,122.9 102.9,118.9 103.1,122.6 103.2,123.6 103.3,127.2 103.4,124.1 103.5,127.8 103.6,127.4 103.7,123.2 103.8,122.6 103.9,119.4 104.1,118.9 104.2,119.3 104.3,116.6 104.4,116.6 104.5,121.7 104.6,123.8 104.7,119.0 104.8,119.5 105.0,121.5 105.1,121.8 105.2,124.8 105.3,131.0 105.4,131.1 105.5,125.8 105.6,128.0 105.7,126.7 105.8,132.1 106.0,126.5 106.1,128.4 106.2,129.2 106.3,126.2 106.4,122.4 106.5,124.2 106.6,122.7 106.7,120.3 106.9,123.1 107.0,123.7 107.1,130.3 107.2,126.2 107.3,125.9 107.4,131.7 107.5,126.0 107.6,126.8 107.7,125.5 107.9,126.0 108.0,124.5 108.1,120.8 108.2,126.1 108.3,126.9 108.4,122.1 108.5,114.5 108.6,121.3 108.8,119.0 108.9,122.3 109.0,116.5 109.1,124.0 109.2,119.1 109.3,125.6 109.4,122.4 109.5,121.5 109.6,125.0 109.8,123.7 109.9,124.9 110.0,124.4 110.1,117.3 110.2,121.7 110.3,123.6 110.4,125.1 110.5,125.9 110.7,125.3 110.8,125.6 110.9,126.9 111.0,123.6 111.1,127.6 111.2,121.6 111.3,123.8 111.4,126.4 111.5,120.7 111.7,125.8 111.8,126.6 111.9,126.7 112.0,127.9 112.1,123.7 112.2,125.0 112.3,127.7 112.4,127.3 112.6,128.5 112.7,130.0 112.8,123.4 112.9,125.1 113.0,121.1 113.1,120.8 113.2,120.6 113.3,123.8 113.5,127.0 113.6,125.7 113.7,124.1 113.8,125.3 113.9,125.5 114.0,127.4 114.1,128.2 114.2,127.2 114.3,124.8 114.5,125.9 114.6,131.0 114.7,133.5 114.8,126.0 114.9,123.1 115.0,123.3 115.1,120.9 115.2,118.5 115.4,122.1 115.5,115.5 115.6,119.6 115.7,123.2 115.8,118.4 115.9,117.7 116.0,124.1 116.1,122.4 116.2,127.5 116.4,121.1 116.5,122.6 116.6,122.0 116.7,123.7 116.8,122.4 116.9,115.8 117.0,120.5 117.1,118.8 117.3,122.7 117.4,121.1 117.5,125.9 117.6,120.7 117.7,123.0 117.8,125.1 117.9,124.8 118.0,118.8 118.1,115.5 118.3,121.1 118.4,123.5 118.5,121.2 118.6,121.3 118.7,119.3 118.8,121.4 118.9,120.3 119.0,123.6 119.2,123.8 119.3,121.9 119.4,123.9 119.5,121.8 119.6,120.3 119.7,116.3 119.8,121.9 119.9,121.2 120.0,117.7 120.2,124.7 120.3,126.4 120.4,122.1 120.5,122.1 120.6,123.1 120.7,122.1 120.8,126.5 120.9,124.1 121.1,120.2 121.2,125.5 121.3,117.7 121.4,120.7 121.5,120.3 121.6,119.3 121.7,115.4 121.8,117.2 122.0,117.0 122.1,120.2 122.2,122.1 122.3,121.6 122.4,128.4 122.5,122.3 122.6,122.4 122.7,121.6 122.8,123.0 123.0,124.5 123.1,118.9 123.2,118.9 123.3,121.3 123.4,124.5 123.5,123.6 123.6,126.7 123.7,128.2 123.9,129.1 124.0,124.3 124.1,126.4 124.2,127.4 124.3,127.2 124.4,128.1 124.5,126.5 124.6,127.0 124.7,125.4 124.9,122.3 125.0,122.9 125.1,120.0 125.2,121.7 125.3,117.2 125.4,116.2 125.5,118.6 125.6,120.5 125.8,119.1 125.9,114.8 126.0,121.1 126.1,117.5 126.2,115.3 126.3,112.1 126.4,113.7 126.5,113.2 126.6,114.9 126.8,113.6 126.9,111.1 127.0,112.4 127.1,118.0 127.2,114.0 127.3,110.8 127.4,114.1 127.5,115.1 127.7,117.2 127.8,112.2 127.9,110.6 128.0,105.9 128.1,109.8 128.2,108.8 128.3,112.2 128.4,114.6 128.5,114.3 128.7,114.3 128.8,114.4 128.9,114.4 129.0,112.9 129.1,115.7 129.2,117.8 129.3,111.5 129.4,110.9 129.6,117.9 129.7,112.7 129.8,123.0 129.9,116.4 130.0,120.9 130.1,116.5 130.2,122.2 130.3,113.6 130.5,118.6 130.6,119.1 130.7,123.2 130.8,119.3 130.9,120.1 131.0,119.0 131.1,119.8 131.2,120.6 131.3,119.5 131.5,121.9 131.6,120.9 131.7,122.8 131.8,119.9 131.9,119.5 132.0,116.1 132.1,115.7 132.2,117.5 132.4,121.0 132.5,123.0 132.6,121.9 132.7,121.5 132.8,120.9 132.9,117.8 133.0,111.5 133.1,117.3 133.2,114.1 133.4,110.7 133.5,111.4 133.6,106.7 133.7,109.5 133.8,110.7 133.9,105.6 134.0,107.1 134.1,103.2 134.3,108.1 134.4,105.2 134.5,104.5 134.6,105.7 134.7,110.4 134.8,107.3 134.9,112.4 135.0,111.5 135.1,108.6 135.3,105.0 135.4,108.4 135.5,113.0 135.6,107.7 135.7,110.8 135.8,114.8 135.9,111.5 136.0,119.1 136.2,114.2 136.3,110.8 136.4,114.5 136.5,114.1 136.6,109.9 136.7,107.3 136.8,108.7 136.9,111.6 137.0,114.7 137.2,112.2 137.3,114.1 137.4,115.4 137.5,113.9 137.6,113.6 137.7,113.3 137.8,113.5 137.9,113.7 138.1,110.6 138.2,115.3 138.3,117.2 138.4,117.4 138.5,116.2 138.6,115.4 138.7,115.8 138.8,115.9 138.9,116.1 139.1,112.9 139.2,117.3 139.3,116.2 139.4,111.9 139.5,107.7 139.6,112.3 139.7,113.5 139.8,115.5 140.0,116.0 140.1,108.7 140.2,107.9 140.3,114.9 140.4,112.9 140.5,112.3 140.6,112.3 140.7,112.3 140.9,112.2 141.0,113.2 141.1,107.3 141.2,105.4 141.3,110.2 141.4,109.4 141.5,115.7 141.6,112.7 141.7,114.9 141.9,114.2 142.0,112.4 142.1,113.4 142.2,113.0 142.3,113.7 142.4,114.2 142.5,112.1 142.6,110.6 142.8,109.1 142.9,110.8 143.0,107.8 143.1,105.5 143.2,106.9 143.3,110.3 143.4,112.6 143.5,110.7 143.6,111.6 143.8,113.8 143.9,109.9 144.0,111.8 144.1,104.1 144.2,104.6 144.3,106.9 144.4,103.3 144.5,109.0 144.7,104.4 144.8,108.6 144.9,109.1 145.0,105.5 145.1,109.0 145.2,113.0 145.3,114.2 145.4,106.2 145.5,108.8 145.7,113.2 145.8,113.6 145.9,113.0 146.0,109.8 146.1,109.1 146.2,110.5 146.3,109.6 146.4,109.6 146.6,106.4 146.7,107.2 146.8,104.5 146.9,102.9 147.0,106.6 147.1,110.5 147.2,113.8 147.3,109.1 147.4,109.3 147.6,113.1 147.7,112.1 147.8,115.8 147.9,116.9 148.0,119.3 148.1,117.3 148.2,115.6 148.3,115.6 148.5,112.4 148.6,109.9 148.7,118.4 148.8,112.9 148.9,110.1 149.0,117.0 149.1,115.8 149.2,118.8 149.4,116.3 149.5,118.9 149.6,117.1 149.7,115.7 149.8,110.9 149.9,112.5 150.0,119.7 150.1,117.7 150.2,109.1 150.4,111.3 150.5,112.3 150.6,119.0 150.7,121.0 150.8,118.8 150.9,119.3 151.0,119.9 151.1,115.7 151.3,115.6 151.4,115.2 151.5,117.5 151.6,118.0 151.7,124.5 151.8,125.6 151.9,127.9 152.0,122.5 152.1,124.1 152.3,122.8 152.4,124.0 152.5,121.9 152.6,118.8 152.7,120.8 152.8,116.0 152.9,122.9 153.0,122.3 153.2,123.3 153.3,124.2 153.4,117.2 153.5,121.3 153.6,122.8 153.7,122.1 153.8,125.4 153.9,129.6 154.0,127.3 154.2,129.1 154.3,120.8 154.4,121.7 154.5,125.4 154.6,120.8 154.7,123.5 154.8,124.6 154.9,125.6 155.1,125.7 155.2,121.9 155.3,125.8 155.4,127.5 155.5,126.0 155.6,126.7 155.7,125.1 155.8,123.1 155.9,120.9 156.1,120.4 156.2,125.7 156.3,123.0 156.4,125.4 156.5,120.7 156.6,124.1 156.7,120.1 156.8,118.5 157.0,122.4 157.1,122.6 157.2,126.7 157.3,124.6 157.4,125.0 157.5,119.5 157.6,121.9 157.7,118.7 157.9,119.3 158.0,118.2 158.1,117.9 158.2,116.4 158.3,113.8 158.4,118.2 158.5,115.1 158.6,117.7 158.7,117.7 158.9,120.2 159.0,120.6 159.1,122.1 159.2,117.9 159.3,116.1 159.4,119.9 159.5,120.1 159.6,114.6 159.8,122.5 159.9,119.7 160.0,118.3 160.1,120.8 160.2,123.7 160.3,118.6 160.4,120.3 160.5,122.1 160.6,119.8 160.8,121.2 160.9,119.2 161.0,123.6 161.1,121.6 161.2,119.9 161.3,124.4 161.4,116.8 161.5,113.9 161.7,118.4 161.8,118.0 161.9,119.4 162.0,120.0 162.1,111.8 162.2,112.4 162.3,121.6 162.4,114.5 162.5,123.0 162.7,123.2 162.8,120.9 162.9,121.8 163.0,118.0 163.1,119.7 163.2,118.9 163.3,121.4 163.4,121.8 163.6,116.8 163.7,121.8 163.8,118.2 163.9,117.6 164.0,114.6 164.1,116.8 164.2,115.6 164.3,117.9 164.4,112.3 164.6,117.8 164.7,118.9 164.8,118.3 164.9,115.3 165.0,122.1 165.1,116.8 165.2,114.6 165.3,114.1 165.5,120.2 165.6,121.7 165.7,125.1 165.8,118.1 165.9,116.0 166.0,120.6 166.1,116.9 166.2,119.1 166.3,114.4 166.5,117.3 166.6,122.7 166.7,122.2 166.8,119.7 166.9,119.1 167.0,116.8 167.1,121.2 167.2,121.1 167.4,125.3 167.5,124.1 167.6,124.9 167.7,125.7 167.8,121.6 167.9,123.5 168.0,119.8 168.1,118.9 168.3,116.9 168.4,121.6 168.5,121.3 168.6,119.1 168.7,125.1 168.8,120.7 168.9,118.4 169.0,118.2 169.1,117.8 169.3,118.9 169.4,114.6 169.5,119.0 169.6,118.3 169.7,119.7 169.8,120.6 169.9,121.4 170.0,120.2 170.2,122.1 170.3,120.1 170.4,119.6 170.5,120.0 170.6,118.7 170.7,120.9 170.8,118.5 170.9,116.1 171.0,115.0 171.2,113.0 171.3,112.2 171.4,107.3 171.5,118.1 171.6,117.3 171.7,116.4 171.8,111.8 171.9,114.5 172.1,112.1 172.2,111.2 172.3,115.0 172.4,115.4 172.5,114.5 172.6,118.6 172.7,114.4 172.8,122.8 172.9,122.7 173.1,117.3 173.2,119.0 173.3,119.0 173.4,116.3 173.5,114.2 173.6,110.5 173.7,111.6 173.8,119.0 174.0,116.1 174.1,115.9 174.2,119.8 174.3,119.5 174.4,112.8 174.5,111.6 174.6,113.3 174.7,115.6 174.8,112.5 175.0,116.0 175.1,117.1 175.2,117.4 175.3,117.2 175.4,111.4 175.5,113.0 175.6,116.9 175.7,116.4 175.9,113.9 176.0,113.9 176.1,105.9 176.2,114.0 176.3,109.4 176.4,114.0 176.5,118.3 176.6,116.6 176.8,116.3 176.9,113.8 177.0,115.5 177.1,112.9 177.2,112.1 177.3,112.6 177.4,109.0 177.5,120.0 177.6,114.1 177.8,113.3 177.9,113.1 178.0,115.2 178.1,115.4 178.2,114.4 178.3,112.6 178.4,118.3 178.5,117.2 178.7,118.5 178.8,122.0 178.9,123.5 179.0,117.7 179.1,123.1 179.2,123.1 179.3,122.5 179.4,123.0 179.5,118.0 179.7,123.7 179.8,119.5 179.9,119.7 180.0,119.6 180.1,125.2 180.2,119.7 180.3,124.6 180.4,118.3 180.6,120.9 180.7,119.4 180.8,116.6 180.9,118.0 181.0,115.9 181.1,116.8 181.2,114.5 181.3,115.3 181.4,117.8 181.6,112.4 181.7,112.8 181.8,118.3 181.9,116.9 182.0,110.8 182.1,112.8 182.2,119.2 182.3,110.3 182.5,109.8 182.6,114.2 182.7,112.8 182.8,114.7 182.9,112.8 183.0,109.4 183.1,110.5 183.2,112.3 183.3,112.1 183.5,115.0 183.6,113.5 183.7,111.3 183.8,112.4 183.9,111.8 184.0,113.5 184.1,111.8 184.2,118.8 184.4,112.4 184.5,112.6 184.6,112.3 184.7,108.9 184.8,108.9 184.9,111.0 185.0,111.4 185.1,113.4 185.3,108.3 185.4,111.5 185.5,114.1 185.6,114.3 185.7,115.4 185.8,114.4 185.9,114.4 186.0,109.7 186.1,113.7 186.3,114.1 186.4,111.0 186.5,108.4 186.6,115.3 186.7,110.8 186.8,108.9 186.9,105.7 187.0,111.9 187.2,110.6 187.3,111.6 187.4,109.7 187.5,111.3 187.6,110.4 187.7,105.5 187.8,103.6 187.9,109.9 188.0,111.6 188.2,110.9 188.3,109.2 188.4,106.8 188.5,105.9 188.6,105.0 188.7,108.2 188.8,109.7 188.9,113.3 189.1,107.0 189.2,105.9 189.3,110.0 189.4,107.3 189.5,112.4 189.6,113.3 189.7,112.7 189.8,111.6 189.9,111.2 190.1,116.0 190.2,115.5 190.3,112.8 190.4,116.5 190.5,112.8 190.6,109.9 190.7,112.6 190.8,112.5 191.0,119.9 191.1,118.7 191.2,116.7 191.3,114.0 191.4,118.4 191.5,121.8 191.6,113.9 191.7,116.4 191.8,118.2 192.0,120.1 192.1,121.4 192.2,119.7 192.3,119.9 192.4,115.8 192.5,119.7 192.6,119.1 192.7,117.1 192.9,117.8 193.0,112.8 193.1,107.6 193.2,111.0 193.3,112.7 193.4,110.4 193.5,107.9 193.6,111.8 193.7,105.9 193.9,111.8 194.0,107.4 194.1,108.4 194.2,113.0 194.3,107.7 194.4,112.7 194.5,113.2 194.6,113.4 194.8,113.5 194.9,114.0 195.0,107.7 195.1,114.4 195.2,121.2 195.3,117.1 195.4,114.6 195.5,112.6 195.7,114.2 195.8,117.4 195.9,113.3 196.0,110.6 196.1,106.4 196.2,110.9 196.3,111.3 196.4,116.9 196.5,114.9 196.7,111.9 196.8,113.7 196.9,114.7 197.0,113.2 197.1,114.1 197.2,109.0 197.3,109.3 197.4,110.7 197.6,111.4 197.7,108.9 197.8,110.3 197.9,113.6 198.0,107.4 198.1,110.4 198.2,114.3 198.3,111.9 198.4,116.1 198.6,110.5 198.7,112.4 198.8,114.0 198.9,116.5 199.0,107.8 199.1,110.4 199.2,108.5 199.3,108.2 199.5,105.5 199.6,104.5 199.7,103.6 199.8,102.9 199.9,104.2 200.0,104.7 200.1,107.7 200.2,108.2 200.3,103.7 200.5,107.5 200.6,108.7 200.7,103.4 200.8,104.2 200.9,103.8 201.0,100.4 201.1,101.5 201.2,109.3 201.4,108.2 201.5,109.0 201.6,104.1 201.7,103.8 201.8,106.4 201.9,104.3 202.0,103.2 202.1,107.1 202.2,104.2 202.4,105.1 202.5,111.0 202.6,110.7 202.7,112.9 202.8,108.2 202.9,109.0 203.0,106.5 203.1,110.0 203.3,108.9 203.4,110.5 203.5,113.2 203.6,103.1 203.7,103.8 203.8,104.4 203.9,106.8 204.0,113.6 204.2,106.7 204.3,106.4 204.4,108.5 204.5,108.2 204.6,106.4 204.7,102.6 204.8,102.6 204.9,105.6 205.0,103.5 205.2,106.6 205.3,109.1 205.4,105.3 205.5,103.8 205.6,99.7 205.7,99.2 205.8,95.5 205.9,97.3 206.1,97.0 206.2,100.0 206.3,97.4 206.4,93.3 206.5,100.5 206.6,99.8 206.7,100.9 206.8,105.5 206.9,107.2 207.1,100.2 207.2,99.5 207.3,102.1 207.4,106.9 207.5,102.4 207.6,101.6 207.7,105.0 207.8,104.8 208.0,109.5 208.1,104.7 208.2,107.7 208.3,107.0 208.4,99.0 208.5,103.2 208.6,102.3 208.7,105.8 208.8,103.1 209.0,102.5 209.1,99.2 209.2,103.7 209.3,99.3 209.4,104.8 209.5,102.8 209.6,105.5 209.7,99.6 209.9,104.1 210.0,103.3 210.1,107.2 210.2,106.4 210.3,109.9 210.4,109.9 210.5,110.3 210.6,103.7 210.7,103.5 210.9,100.9 211.0,99.5 211.1,103.0 211.2,103.3 211.3,102.8 211.4,100.2 211.5,104.0 211.6,99.5 211.8,105.0 211.9,99.4 212.0,97.0 212.1,95.8 212.2,98.0 212.3,96.5 212.4,99.1 212.5,93.2 212.7,94.3 212.8,98.6 212.9,92.4 213.0,99.2 213.1,98.3 213.2,94.8 213.3,98.8 213.4,100.5 213.5,104.6 213.7,102.2 213.8,102.7 213.9,102.6 214.0,98.7 214.1,100.1 214.2,104.0 214.3,96.0 214.4,95.2 214.6,101.3 214.7,98.5 214.8,97.0 214.9,101.8 215.0,100.9 215.1,99.0 215.2,102.1 215.3,98.7 215.4,101.3 215.6,100.8 215.7,99.8 215.8,104.6 215.9,98.3 216.0,97.4 216.1,103.1 216.2,98.4 216.3,95.0 216.5,94.9 216.6,99.7 216.7,98.6 216.8,96.1 216.9,104.5 217.0,100.2 217.1,100.0 217.2,101.0 217.3,104.6 217.5,100.5 217.6,94.6 217.7,101.7 217.8,99.0 217.9,99.5 218.0,97.6 218.1,98.4 218.2,98.0 218.4,103.2 218.5,103.9 218.6,100.5 218.7,100.2 218.8,92.2 218.9,99.3 219.0,96.5 219.1,96.5 219.2,99.2 219.4,99.6 219.5,102.6 219.6,102.8 219.7,95.2 219.8,96.1 219.9,97.5 220.0,97.8 220.1,102.8 220.3,101.7 220.4,97.4 220.5,96.2 220.6,97.8 220.7,95.9 220.8,95.1 220.9,97.5 221.0,100.7 221.1,103.1 221.3,97.7 221.4,99.4 221.5,98.2 221.6,96.1 221.7,96.7 221.8,99.7 221.9,100.2 222.0,94.4 222.2,95.7 222.3,98.2 222.4,97.3 222.5,96.5 222.6,105.4 222.7,104.5 222.8,98.3 222.9,99.9 223.1,103.2 223.2,102.4 223.3,97.3 223.4,100.9 223.5,97.5 223.6,96.8 223.7,97.4 223.8,102.4 223.9,101.2 224.1,96.7 224.2,95.5 224.3,99.7 224.4,104.7 224.5,104.0 224.6,99.4 224.7,101.6 224.8,98.9 225.0,98.7 225.1,101.7 225.2,104.0 225.3,97.5 225.4,100.5 225.5,99.3 225.6,101.1 225.7,101.1 225.8,100.1 226.0,99.6 226.1,97.5 226.2,103.6 226.3,102.2 226.4,102.7 226.5,102.5 226.6,108.3 226.7,106.5 226.9,101.1 227.0,104.7 227.1,99.8 227.2,102.3 227.3,101.4 227.4,111.0 227.5,100.8 227.6,102.5 227.7,99.8 227.9,105.0 228.0,98.8 228.1,101.7 228.2,100.9 228.3,104.8 228.4,106.2 228.5,100.4 228.6,96.8 228.8,100.9 228.9,106.3 229.0,103.9 229.1,99.9 229.2,101.6 229.3,103.5 229.4,103.2 229.5,107.2 229.6,107.6 229.8,99.3 229.9,105.5 230.0,98.3 230.1,100.3 230.2,102.5 230.3,106.1 230.4,104.6 230.5,107.0 230.7,102.5 230.8,107.7 230.9,103.6 231.0,103.7 231.1,104.0 231.2,107.0 231.3,107.8 231.4,106.7 231.6,106.2 231.7,106.2 231.8,109.6 231.9,105.8 232.0,109.2 232.1,107.6 232.2,106.9 232.3,106.7 232.4,104.5 232.6,105.9 232.7,101.1 232.8,107.6 232.9,107.5 233.0,111.7 233.1,108.4 233.2,110.1 233.3,111.0 233.5,104.8 233.6,104.7 233.7,111.8 233.8,107.4 233.9,106.4 234.0,110.7 234.1,107.9 234.2,107.9 234.3,113.0 234.5,115.5 234.6,113.0 234.7,114.4 234.8,116.4 234.9,113.8 235.0,109.1 235.1,111.1 235.2,114.1 235.4,111.2 235.5,104.7 235.6,112.4 235.7,112.6 235.8,109.4 235.9,110.2 236.0,111.4 236.1,111.2 236.2,110.6 236.4,112.2 236.5,108.8 236.6,110.9 236.7,108.3 236.8,104.8 236.9,107.3 237.0,108.5 237.1,111.6 237.3,109.7 237.4,110.5 237.5,113.3 237.6,110.5 237.7,114.1 237.8,111.3 237.9,111.4 238.0,107.7 238.1,106.3 238.3,110.6 238.4,113.2 238.5,112.6 238.6,113.9 238.7,110.4 238.8,115.9 238.9,112.7 239.0,111.5 239.2,108.4 239.3,112.3 239.4,114.0 239.5,111.3 239.6,110.5 239.7,115.9 239.8,108.8 239.9,109.4 240.1,115.0 240.2,112.9 240.3,115.2 240.4,112.7 240.5,110.2 240.6,109.5 240.7,113.8 240.8,106.7 240.9,107.1 241.1,105.5 241.2,105.7 241.3,107.3 241.4,107.3 241.5,106.8 241.6,106.8 241.7,107.3 241.8,102.0 242.0,100.9 242.1,100.5 242.2,101.5 242.3,95.2 242.4,101.3 242.5,101.1 242.6,97.7 242.7,97.8 242.8,102.0 243.0,100.3 243.1,97.0 243.2,101.0 243.3,96.8 243.4,96.3 243.5,96.8 243.6,97.3 243.7,96.7 243.9,98.2 244.0,94.6 244.1,102.0 244.2,100.2 244.3,99.9 244.4,100.0 244.5,91.7 244.6,102.8 244.7,101.3 244.9,99.7 245.0,100.7 245.1,99.1 245.2,105.8 245.3,100.5 245.4,103.2 245.5,100.8 245.6,98.9 245.8,98.8 245.9,102.2 246.0,99.6 246.1,102.9 246.2,103.2 246.3,100.2 246.4,98.5 246.5,97.6 246.6,102.2 246.8,102.7 246.9,99.6 247.0,105.3 247.1,103.3 247.2,100.2 247.3,99.6 247.4,101.1 247.5,101.6 247.7,99.0 247.8,101.6 247.9,99.1 248.0,99.6 248.1,102.1 248.2,99.6 248.3,99.3 248.4,94.9 248.5,91.5 248.7,91.6 248.8,93.0 248.9,96.9 249.0,99.6 249.1,91.3 249.2,95.8 249.3,100.0 249.4,97.8 249.6,95.3 249.7,96.0 249.8,103.7 249.9,98.4 250.0,100.1 250.1,97.8 250.2,102.6 250.3,105.4 250.5,105.4 250.6,99.5 250.7,96.2 250.8,99.4 250.9,99.0 251.0,99.6 251.1,98.7 251.2,95.5 251.3,97.4 251.5,94.5 251.6,94.4 251.7,93.7 251.8,99.0 251.9,100.0 252.0,98.2 252.1,100.8 252.2,101.5 252.4,98.5 252.5,100.5 252.6,102.5 252.7,98.5 252.8,98.3 252.9,97.7 253.0,96.3 253.1,102.8 253.2,98.4 253.4,99.2 253.5,99.5 253.6,98.9 253.7,101.0 253.8,99.8 253.9,101.8 254.0,103.3 254.1,101.0 254.3,102.1 254.4,104.3 254.5,99.2 254.6,98.1 254.7,102.2 254.8,103.4 254.9,101.3 255.0,101.3 255.1,98.7 255.3,95.7 255.4,103.1 255.5,101.7 255.6,96.6 255.7,96.9 255.8,94.6 255.9,98.0 256.0,99.5 256.2,97.9 256.3,97.9 256.4,101.8 256.5,98.0 256.6,98.3 256.7,98.4 256.8,100.7 256.9,95.7 257.0,100.0 257.2,94.3 257.3,99.6 257.4,98.4 257.5,95.4 257.6,91.6 257.7,95.1 257.8,90.7 257.9,89.0 258.1,90.6 258.2,90.7 258.3,94.1 258.4,94.0 258.5,86.9 258.6,93.1 258.7,86.6 258.8,87.6 259.0,92.5 259.1,88.1 259.2,90.7 259.3,89.2 259.4,91.0 259.5,97.0 259.6,94.8 259.7,88.4 259.8,87.6 260.0,90.5 260.1,94.0 260.2,94.2 260.3,97.5 260.4,100.8 260.5,101.9 260.6,98.3 260.7,96.6 260.9,96.0 261.0,93.9 261.1,94.2 261.2,99.4 261.3,95.9 261.4,92.1 261.5,97.5 261.6,97.9 261.7,99.9 261.9,93.9 262.0,96.9 262.1,97.4 262.2,98.0 262.3,96.7 262.4,98.6 262.5,100.4 262.6,96.5 262.8,98.6 262.9,94.4 263.0,99.7 263.1,98.0 263.2,96.0 263.3,93.4 263.4,101.9 263.5,102.4 263.6,100.6 263.8,96.1 263.9,96.5 264.0,92.9 264.1,95.6 264.2,93.8 264.3,92.6 264.4,100.0 264.5,97.2 264.7,99.2 264.8,99.1 264.9,101.4 265.0,98.6 265.1,97.4 265.2,102.0 265.3,100.6 265.4,94.9 265.5,98.7 265.7,94.5 265.8,96.6 265.9,98.3 266.0,98.8 266.1,97.5 266.2,95.4 266.3,99.4 266.4,90.2 266.6,91.6 266.7,92.5 266.8,91.8 266.9,92.9 267.0,89.2 267.1,94.5 267.2,94.3 267.3,95.8 267.4,95.4 267.6,96.8 267.7,97.6 267.8,92.7 267.9,98.0 268.0,100.0 268.1,100.8 268.2,98.0 268.3,93.5 268.5,93.4 268.6,95.4 268.7,93.4 268.8,94.1 268.9,93.2 269.0,95.2 269.1,95.2 269.2,93.5 269.4,92.5 269.5,98.0 269.6,95.9 269.7,91.7 269.8,97.4 269.9,91.1 270.0,95.6 270.1,94.8 270.2,96.8 270.4,92.6 270.5,91.9 270.6,91.1 270.7,92.0 270.8,94.7 270.9,97.7 271.0,93.1 271.1,89.4 271.3,94.8 271.4,86.6 271.5,88.4 271.6,91.0 271.7,86.6 271.8,90.3 271.9,89.6 272.0,88.4 272.1,88.5 272.3,92.3 272.4,94.1 272.5,92.6 272.6,89.0 272.7,89.9 272.8,90.1 272.9,90.1 273.0,87.6 273.2,93.2 273.3,87.8 273.4,89.8 273.5,91.7 273.6,89.9 273.7,89.1 273.8,93.8 273.9,91.4 274.0,91.2 274.2,85.4 274.3,88.2 274.4,92.2 274.5,92.1 274.6,89.6 274.7,91.2 274.8,98.1 274.9,95.3 275.1,100.6 275.2,100.5 275.3,97.7 275.4,95.9 275.5,94.7 275.6,91.6 275.7,90.7 275.8,90.4 275.9,93.9 276.1,94.5 276.2,90.5 276.3,101.9 276.4,95.9 276.5,97.7 276.6,95.6 276.7,96.7 276.8,89.7 277.0,96.5 277.1,100.1 277.2,99.3 277.3,102.6 277.4,100.7 277.5,100.0 277.6,104.7 277.7,100.1 277.9,98.7 278.0,94.7 278.1,98.9 278.2,95.0 278.3,91.9 278.4,92.8 278.5,91.7 278.6,92.4 278.7,90.7 278.9,89.9 279.0,88.1 279.1,83.0 279.2,90.1 279.3,87.9 279.4,85.1 279.5,87.6 279.6,90.9 279.8,92.3 279.9,98.7 280.0,92.6 280.1,94.0 280.2,94.0 280.3,87.7 280.4,93.0 280.5,92.7 280.6,94.6 280.8,97.5 280.9,94.9 281.0,92.1 281.1,97.1 281.2,99.4 281.3,92.5 281.4,95.4 281.5,95.3 281.7,95.4 281.8,92.9 281.9,92.0 282.0,86.5 282.1,89.3 282.2,93.2 282.3,88.4 282.4,85.8 282.5,87.0 282.7,86.6 282.8,89.1 282.9,90.1 283.0,88.9 283.1,85.5 283.2,90.6 283.3,90.8 283.4,92.4 283.6,88.7 283.7,95.7 283.8,91.5 283.9,93.9 284.0,90.0 284.1,90.9 284.2,89.9 284.3,85.3 284.4,86.5 284.6,88.4 284.7,88.5 284.8,85.4 284.9,90.2 285.0,87.1 285.1,85.8 285.2,89.3 285.3,85.1 285.5,89.1 285.6,86.3 285.7,87.7 285.8,87.9 285.9,88.9 286.0,90.2 286.1,83.6 286.2,85.9 286.4,88.9 286.5,88.3 286.6,85.9 286.7,82.5 286.8,84.8 286.9,86.4 287.0,87.1 287.1,90.3 287.2,87.1 287.4,86.7 287.5,84.8 287.6,87.4 287.7,90.5 287.8,88.7 287.9,88.9 288.0,89.7 288.1,92.6 288.3,91.0 288.4,91.6 288.5,91.7 288.6,89.5 288.7,92.8 288.8,86.3 288.9,90.4 289.0,89.5 289.1,90.9 289.3,85.2 289.4,85.5 289.5,89.4 289.6,91.7 289.7,90.7 289.8,89.8 289.9,89.5 290.0,89.9 290.2,82.1 290.3,87.9 290.4,81.8 290.5,82.8 290.6,94.2 290.7,93.6 290.8,90.0 290.9,92.1 291.0,92.3 291.2,88.8 291.3,92.6 291.4,92.1 291.5,93.9 291.6,91.1 291.7,94.5 291.8,92.8 291.9,92.2 292.1,92.7 292.2,85.0 292.3,92.1 292.4,90.4 292.5,89.3 292.6,90.4 292.7,89.5 292.8,87.0 292.9,86.8 293.1,87.7 293.2,87.7 293.3,87.8 293.4,88.8 293.5,94.5 293.6,94.3 293.7,94.5 293.8,98.9 294.0,93.4 294.1,86.5 294.2,88.5 294.3,93.9 294.4,90.5 294.5,89.8 294.6,97.3 294.7,94.9 294.8,89.0 295.0,88.1 295.1,84.9 295.2,87.4 295.3,87.3 295.4,89.3 295.5,84.1 295.6,86.7 295.7,83.5 295.9,91.5 296.0,94.6 296.1,91.8 296.2,92.2 296.3,90.7 296.4,87.5 296.5,87.3 296.6,85.7 296.8,91.4 296.9,89.6 297.0,89.1 297.1,90.7 297.2,87.1 297.3,89.7 297.4,91.2 297.5,91.8 297.6,92.3 297.8,90.2 297.9,95.1 298.0,94.9 298.1,93.4 298.2,90.5 298.3,95.4 298.4,89.0 298.5,86.5 298.7,84.3 298.8,87.0 298.9,92.1 299.0,90.5 299.1,90.7 299.2,94.6 299.3,90.3 299.4,90.4 299.5,93.1 299.7,95.4 299.8,91.6 299.9,89.9 300.0,85.8 300.1,86.3 300.2,90.5 300.3,86.2 300.4,87.8 300.6,87.3 300.7,88.7 300.8,86.3 300.9,87.5 301.0,94.1 301.1,93.5 301.2,86.4 301.3,92.9 301.4,95.4 301.6,92.3 301.7,91.8 301.8,91.2 301.9,91.5 302.0,92.4 302.1,85.8 302.2,88.3 302.3,91.1 302.5,90.4 302.6,89.2 302.7,82.9 302.8,85.8 302.9,87.5 303.0,89.5 303.1,93.5 303.2,90.8 303.3,92.5 303.5,89.5 303.6,92.4 303.7,88.0 303.8,92.8 303.9,88.4 304.0,90.7 304.1,87.6 304.2,89.1 304.4,81.7 304.5,86.1 304.6,84.2 304.7,89.1 304.8,84.7 304.9,84.5 305.0,84.9 305.1,85.4 305.3,84.9 305.4,84.2 305.5,82.4 305.6,89.9 305.7,91.0 305.8,92.5 305.9,90.4 306.0,89.2 306.1,90.8 306.3,88.1 306.4,93.1 306.5,87.9 306.6,87.1 306.7,84.2 306.8,84.1 306.9,87.0 307.0,84.7 307.2,81.5 307.3,88.7 307.4,86.9 307.5,89.2 307.6,87.6 307.7,88.8 307.8,86.7 307.9,84.1 308.0,86.0 308.2,83.6 308.3,81.7 308.4,87.2 308.5,83.0 308.6,78.8 308.7,84.7 308.8,84.1 308.9,83.8 309.1,87.0 309.2,92.0 309.3,84.0 309.4,81.4 309.5,90.4 309.6,88.4 309.7,85.5 309.8,82.4 309.9,79.7 310.1,81.7 310.2,82.4 310.3,87.5 310.4,87.2 310.5,84.7 310.6,84.5 310.7,87.4 310.8,83.8 311.0,86.8 311.1,86.2 311.2,92.2 311.3,95.2 311.4,90.6 311.5,91.2 311.6,89.7 311.7,92.6 311.8,91.2 312.0,88.6 312.1,82.9 312.2,91.9 312.3,87.2 312.4,88.6 312.5,83.5 312.6,82.1 312.7,79.9 312.9,81.5 313.0,83.5 313.1,81.0 313.2,80.0 313.3,82.3 313.4,77.0 313.5,76.5 313.6,77.6 313.8,82.5 313.9,85.6 314.0,83.2 314.1,85.4 314.2,83.5 314.3,83.4 314.4,83.0 314.5,80.4 314.6,75.5 314.8,83.4 314.9,83.7 315.0,86.2 315.1,82.8 315.2,78.6 315.3,76.6 315.4,77.5 315.5,83.8 315.7,86.6 315.8,85.2 315.9,81.6 316.0,84.5 316.1,82.5 316.2,83.5 316.3,81.4 316.4,82.7 316.5,83.3 316.7,81.3 316.8,80.9 316.9,79.8 317.0,79.3 317.1,79.7 317.2,84.4 317.3,83.6 317.4,87.8 317.6,84.1 317.7,85.2 317.8,88.9 317.9,89.5 318.0,89.4 318.1,89.7 318.2,87.6 318.3,88.7 318.4,88.0 318.6,89.4 318.7,95.0 318.8,93.3 318.9,85.6 319.0,90.4 319.1,91.4 319.2,87.2 319.3,94.9 319.5,91.1 319.6,88.2 319.7,86.9 319.8,95.2 319.9,87.6 320.0,81.3 320.1,86.6 320.2,87.5 320.3,87.3 320.5,87.5 320.6,84.4 320.7,86.2 320.8,90.7 320.9,86.6 321.0,90.6 321.1,90.0 321.2,88.4 321.4,87.5 321.5,83.2 321.6,88.1 321.7,88.5 321.8,83.2 321.9,88.3 322.0,86.9 322.1,86.2 322.2,86.1 322.4,91.9 322.5,90.4 322.6,85.0 322.7,86.5 322.8,83.8 322.9,86.6 323.0,84.9 323.1,88.7 323.3,86.6 323.4,88.0 323.5,86.9 323.6,89.3 323.7,92.1 323.8,92.5 323.9,92.4 324.0,90.1 324.2,94.5 324.3,94.5 324.4,92.7 324.5,96.6 324.6,99.9 324.7,96.5 324.8,95.9 324.9,92.5 325.0,99.3 325.2,98.5 325.3,101.0 325.4,98.5 325.5,103.3 325.6,101.2 325.7,98.4 325.8,96.3 325.9,96.4 326.1,96.2 326.2,96.3 326.3,92.6 326.4,91.0 326.5,91.3 326.6,90.2 326.7,92.9 326.8,90.3 326.9,86.7 327.1,91.5 327.2,90.6 327.3,87.6 327.4,86.4 327.5,83.4 327.6,85.4 327.7,89.4 327.8,85.2 328.0,91.8 328.1,91.2 328.2,92.0 328.3,90.2 328.4,97.6 328.5,97.1 328.6,97.9 328.7,99.5 328.8,96.6 329.0,89.3 329.1,90.0 329.2,95.0 329.3,90.2 329.4,89.8 329.5,94.5 329.6,91.3 329.7,86.5 329.9,91.7 330.0,92.6 330.1,90.6 330.2,90.3 330.3,87.0 330.4,86.9 330.5,87.0 330.6,88.0 330.7,84.9 330.9,87.4 331.0,90.7 331.1,91.8 331.2,88.9 331.3,88.2 331.4,93.2 331.5,87.2 331.6,89.8 331.8,86.3 331.9,83.4 332.0,86.8 332.1,83.8 332.2,87.7 332.3,86.4 332.4,86.0 332.5,82.0 332.7,84.6 332.8,84.4 332.9,87.3 333.0,88.6 333.1,91.9 333.2,88.8 333.3,89.2 333.4,91.4 333.5,83.8 333.7,85.7 333.8,83.8 333.9,86.1 334.0,86.2 334.1,87.1 334.2,88.2 334.3,89.0 334.4,91.1 334.6,83.3 334.7,82.9 334.8,79.4 334.9,84.1 335.0,79.7 335.1,78.8 335.2,80.5 335.3,87.7 335.4,80.4 335.6,85.1 335.7,84.1 335.8,84.4 335.9,85.7 336.0,85.6 336.1,87.9 336.2,86.0 336.3,84.0 336.5,85.6 336.6,84.7 336.7,80.1 336.8,84.1 336.9,84.1 337.0,88.9 337.1,85.9 337.2,83.3 337.3,87.6 337.5,89.4 337.6,86.6 337.7,90.3 337.8,85.9 337.9,88.7 338.0,88.4 338.1,89.2 338.2,88.9 338.4,89.4 338.5,92.3 338.6,92.2 338.7,91.6 338.8,91.1 338.9,90.0 339.0,91.6 339.1,87.9 339.2,89.8 339.4,89.2 339.5,85.8 339.6,91.3 339.7,86.9 339.8,84.7 339.9,84.7 340.0,87.7 340.1,87.4 340.3,86.3 340.4,91.5 340.5,92.3 340.6,88.8 340.7,86.9 340.8,87.5 340.9,84.6 341.0,85.2 341.2,82.9 341.3,83.0 341.4,89.9 341.5,84.1 341.6,89.2 341.7,92.6 341.8,94.4 341.9,89.6 342.0,95.0 342.2,94.1 342.3,88.0 342.4,94.6 342.5,85.9 342.6,90.6 342.7,87.3 342.8,87.7 342.9,86.8 343.1,87.3 343.2,89.1 343.3,88.6 343.4,90.3 343.5,85.9 343.6,83.6 343.7,87.4 343.8,85.7 343.9,80.5 344.1,86.2 344.2,84.2 344.3,84.7 344.4,84.6 344.5,79.1 344.6,78.4 344.7,81.2 344.8,81.9 345.0,80.8 345.1,82.2 345.2,78.7 345.3,78.4 345.4,86.3 345.5,81.1 345.6,82.8 345.7,87.0 345.8,85.3 346.0,84.7 346.1,82.9 346.2,85.9 346.3,82.2 346.4,86.7 346.5,83.8 346.6,83.5 346.7,83.2 346.9,85.0 347.0,85.1 347.1,82.9 347.2,83.6 347.3,81.5 347.4,85.2 347.5,83.8 347.6,85.4 347.7,84.5 347.9,84.7 348.0,85.4 348.1,88.4 348.2,85.2 348.3,81.6 348.4,81.8 348.5,79.8 348.6,83.5 348.8,85.5 348.9,89.0 349.0,83.2 349.1,85.3 349.2,86.3 349.3,85.9 349.4,87.3 349.5,84.6 349.6,86.8 349.8,82.4 349.9,80.2 350.0,90.7 350.1,86.0 350.2,82.8 350.3,84.1 350.4,85.9 350.5,87.2 350.7,84.9 350.8,80.1 350.9,82.3 351.0,85.9 351.1,82.3 351.2,83.0 351.3,83.3 351.4,84.1 351.6,86.6 351.7,80.0 351.8,81.7 351.9,88.3 352.0,92.9 352.1,81.9 352.2,89.4 352.3,86.7 352.4,83.3 352.6,82.4 352.7,81.8 352.8,87.2 352.9,81.6 353.0,82.8 353.1,88.1 353.2,91.7 353.3,94.2 353.5,88.9 353.6,89.3 353.7,89.6 353.8,92.2 353.9,88.5 354.0,90.6 354.1,87.8 354.2,85.8 354.3,90.9 354.5,88.5 354.6,91.4 354.7,92.6 354.8,93.2 354.9,92.8 355.0,86.8 355.1,91.4 355.2,88.5 355.4,85.6 355.5,87.7 355.6,89.8 355.7,87.5 355.8,85.6 355.9,86.1 356.0,87.8 356.1,84.3 356.2,87.4 356.4,84.7 356.5,88.8 356.6,88.2 356.7,82.4 356.8,84.4 356.9,86.7 357.0,96.4 357.1,92.2 357.3,91.2 357.4,88.2 357.5,84.9 357.6,88.7 357.7,88.0 357.8,88.2 357.9,87.5 358.0,86.3 358.1,89.0 358.3,93.3 358.4,95.2 358.5,96.2 358.6,93.7 358.7,95.8 358.8,92.7 358.9,90.3 359.0,87.6 359.2,98.0 359.3,95.9 359.4,91.7 359.5,94.4 359.6,92.4 359.7,96.3 359.8,98.1 359.9,99.7 360.1,99.9 360.2,94.9 360.3,97.0 360.4,91.8 360.5,92.7 360.6,92.4 360.7,91.7 360.8,89.9 360.9,93.9 361.1,94.1 361.2,89.5 361.3,97.2 361.4,99.0 361.5,97.1 361.6,99.8 361.7,97.6 361.8,100.6 362.0,94.1 362.1,93.7 362.2,94.9 362.3,95.2 362.4,98.8 362.5,107.3 362.6,99.6 362.7,96.0 362.8,96.6 363.0,93.5 363.1,96.9 363.2,96.4 363.3,96.3 363.4,95.8 363.5,95.8 363.6,94.7 363.7,97.7 363.9,95.3 364.0,99.2 364.1,98.4 364.2,94.9 364.3,97.1 364.4,97.9 364.5,96.6 364.6,99.7 364.7,103.4 364.9,105.1 365.0,105.4 365.1,103.7 365.2,99.9 365.3,103.9 365.4,103.6 365.5,100.9 365.6,95.4 365.8,96.8 365.9,97.2 366.0,96.6 366.1,96.1 366.2,94.2 366.3,96.6 366.4,98.8 366.5,91.5 366.6,101.4 366.8,98.7 366.9,94.9 367.0,94.0 367.1,94.0 367.2,89.8 367.3,90.9 367.4,93.5 367.5,92.4 367.7,92.3 367.8,94.9 367.9,97.4 368.0,99.5 368.1,97.2 368.2,95.0 368.3,90.6 368.4,95.8 368.6,94.7 368.7,94.8 368.8,96.5 368.9,100.0 369.0,95.3 369.1,98.7 369.2,96.1 369.3,97.0 369.4,96.0 369.6,96.0 369.7,96.6 369.8,96.7 369.9,96.1 370.0,95.0 370.1,92.1 370.2,92.7 370.3,94.4 370.5,96.7 370.6,94.8 370.7,98.8 370.8,97.0 370.9,97.3 371.0,96.0 371.1,97.5 371.2,94.2 371.3,98.2 371.5,96.2 371.6,98.5 371.7,98.8 371.8,102.0 371.9,102.1 372.0,98.5 372.1,93.3 372.2,94.0 372.4,100.8 372.5,95.2 372.6,92.9 372.7,96.8 372.8,98.1 372.9,97.3 373.0,97.9 373.1,100.9 373.2,94.1 373.4,89.3 373.5,89.3 373.6,91.5 373.7,91.8 373.8,86.2 373.9,91.8 374.0,88.0 374.1,86.9 374.3,93.3 374.4,95.1 374.5,94.5 374.6,87.7 374.7,94.8 374.8,95.1 374.9,90.6 375.0,86.5 375.1,89.0 375.3,91.3 375.4,94.6 375.5,89.0 375.6,89.8 375.7,88.8 375.8,86.6 375.9,87.8 376.0,86.2 376.2,86.2 376.3,84.6 376.4,92.5 376.5,87.3 376.6,90.3 376.7,89.1 376.8,90.0 376.9,90.1 377.0,87.7 377.2,92.1 377.3,95.1 377.4,92.4 377.5,92.7 377.6,93.4 377.7,92.3 377.8,92.1 377.9,87.4 378.1,85.3 378.2,85.8 378.3,90.1 378.4,96.9 378.5,95.2 378.6,94.7 378.7,94.2 378.8,96.8 379.0,99.0 379.1,99.6 379.2,93.7 379.3,97.8 379.4,96.3 379.5,96.1 379.6,94.6 379.7,93.0 379.8,92.1 380.0,94.9 380.1,94.2 380.2,97.9 380.3,96.9 380.4,94.4 380.5,98.3 380.6,97.6 380.7,96.5 380.9,95.8 381.0,101.2 381.1,97.0 381.2,99.6 381.3,97.9 381.4,97.6 381.5,97.3 381.6,95.5 381.7,99.2 381.9,102.3 382.0,101.1 382.1,102.3 382.2,98.6 382.3,102.7 382.4,102.8 382.5,99.9 382.6,99.1 382.8,98.7 382.9,97.0 383.0,103.2 383.1,104.2 383.2,107.4 383.3,104.2 383.4,108.4 383.5,114.2 383.6,105.5 383.8,108.0 383.9,105.7 384.0,111.7 384.1,109.5 384.2,107.2 384.3,107.5 384.4,101.1 384.5,103.1 384.7,98.7 384.8,101.1 384.9,97.7 385.0,102.4 385.1,98.0 385.2,99.5 385.3,100.3 385.4,103.5 385.5,100.1 385.7,103.2 385.8,101.2 385.9,102.5 386.0,98.2 386.1,96.9 386.2,102.2 386.3,100.5 386.4,99.6 386.6,98.0 386.7,91.5 386.8,96.1 386.9,94.3 387.0,95.1 387.1,93.8 387.2,92.4 387.3,88.3 387.5,98.6 387.6,91.0 387.7,96.7 387.8,96.9 387.9,99.7 388.0,104.5 388.1,104.4 388.2,101.5 388.3,99.5 388.5,102.4 388.6,99.0 388.7,99.6 388.8,103.0 388.9,96.2 389.0,97.3 389.1,96.0 389.2,97.9 389.4,96.3 389.5,103.1 389.6,104.7 389.7,105.7 389.8,99.7 389.9,103.2 390.0,100.4 390.1,101.2 390.2,101.4 390.4,101.3 390.5,106.9 390.6,108.2 390.7,107.6 390.8,100.0 390.9,103.1 391.0,104.2 391.1,98.6 391.3,98.8 391.4,99.2 391.5,101.3 391.6,102.6 391.7,98.4 391.8,102.1 391.9,100.3 392.0,101.3 392.1,99.6 392.3,102.6 392.4,103.5 392.5,105.7 392.6,109.1 392.7,106.0 392.8,106.2 392.9,105.9 393.0,108.2 393.2,104.7 393.3,104.8 393.4,104.3 393.5,101.9 393.6,102.9 393.7,107.5 393.8,104.2 393.9,106.0 394.0,101.8 394.2,102.6 394.3,104.8 394.4,102.5 394.5,103.1 394.6,98.1 394.7,102.0 394.8,108.7 394.9,110.1 395.1,106.8 395.2,108.8 395.3,102.9 395.4,103.0 395.5,100.3 395.6,104.8 395.7,102.4 395.8,103.9 396.0,103.1 396.1,103.5 396.2,101.6 396.3,101.8 396.4,96.6 396.5,102.0 396.6,99.6 396.7,102.4 396.8,101.6 397.0,104.7 397.1,101.4 397.2,100.4 397.3,103.5 397.4,102.7 397.5,102.0 397.6,97.7 397.7,97.8 397.9,103.6 398.0,104.5 398.1,103.9 398.2,104.2 398.3,103.0 398.4,100.7 398.5,104.4 398.6,106.3 398.7,104.4 398.9,103.6 399.0,99.9 399.1,99.2 399.2,98.9 399.3,97.7 399.4,99.6 399.5,109.7 399.6,102.3 399.8,103.2 399.9,95.8 400.0,94.9 400.1,96.5 400.2,99.6 400.3,97.9 400.4,98.1 400.5,100.6 400.6,103.2 400.8,105.7 400.9,104.2 401.0,100.2 401.1,100.6 401.2,93.8 401.3,97.5 401.4,100.2 401.5,102.6 401.7,105.2 401.8,101.7 401.9,92.7 402.0,90.0 402.1,93.8 402.2,98.6 402.3,93.6 402.4,97.4 402.5,101.3 402.7,104.8 402.8,102.5 402.9,97.0 403.0,98.2 403.1,100.8 403.2,98.4 403.3,100.0 403.4,96.1 403.6,96.6 403.7,91.6 403.8,100.1 403.9,99.4 404.0,103.1 404.1,99.1 404.2,98.3 404.3,103.4 404.4,100.5 404.6,102.4 404.7,98.7 404.8,100.1 404.9,100.4 405.0,107.6 405.1,108.5 405.2,103.9 405.3,105.9 405.5,100.8 405.6,95.8 405.7,95.2 405.8,105.8 405.9,102.5 406.0,106.9 406.1,100.4 406.2,104.7 406.4,100.2 406.5,98.0 406.6,97.7 406.7,106.6 406.8,105.1 406.9,105.1 407.0,103.1 407.1,101.0 407.2,96.3 407.4,98.2 407.5,102.0 407.6,106.0 407.7,104.0 407.8,102.7 407.9,100.3 408.0,100.7 408.1,107.8 408.3,105.7 408.4,98.4 408.5,98.5 408.6,99.3 408.7,92.3 408.8,98.8 408.9,99.2 409.0,98.6 409.1,97.7 409.3,98.6 409.4,102.7 409.5,101.6 409.6,98.1 409.7,96.6 409.8,102.8 409.9,96.9 410.0,96.0 410.2,102.5 410.3,104.9 410.4,97.9 410.5,95.6 410.6,91.0 410.7,91.7 410.8,90.3 410.9,93.0 411.0,95.0 411.2,95.7 411.3,94.0 411.4,94.1 411.5,94.4 411.6,95.6 411.7,98.1 411.8,96.8 411.9,98.7 412.1,98.2 412.2,90.9 412.3,94.0 412.4,97.6 412.5,96.3 412.6,95.8 412.7,98.5 412.8,93.2 412.9,94.2 413.1,90.8 413.2,92.0 413.3,95.3 413.4,89.7 413.5,95.4 413.6,97.5 413.7,98.2 413.8,97.6 414.0,95.0 414.1,94.5 414.2,97.2 414.3,96.8 414.4,96.2 414.5,95.6 414.6,95.5 414.7,94.7 414.9,96.2 415.0,99.5 415.1,99.5 415.2,96.8 415.3,99.2 415.4,97.1 415.5,98.1 415.6,99.1 415.7,96.5 415.9,96.5 416.0,100.1 416.1,103.5 416.2,104.3 416.3,101.4 416.4,106.8 416.5,104.0 416.6,103.3 416.8,104.4 416.9,103.3 417.0,100.4 417.1,97.1 417.2,100.0 417.3,102.1 417.4,103.0 417.5,103.7 417.6,99.9 417.8,98.5 417.9,101.5 418.0,101.2 418.1,99.3 418.2,102.7 418.3,101.1 418.4,95.0 418.5,99.3 418.7,106.3 418.8,102.5 418.9,97.7 419.0,100.1 419.1,105.5 419.2,103.8 419.3,95.4 419.4,96.6 419.5,97.0 419.7,94.5 419.8,97.1 419.9,98.0 420.0,99.2 420.1,103.8 420.2,101.0 420.3,102.2 420.4,103.1 420.6,103.5 420.7,104.1 420.8,101.5 420.9,107.0 421.0,101.4 421.1,98.9 421.2,100.6 421.3,102.5 421.4,99.7 421.6,103.3 421.7,105.1 421.8,101.8 421.9,103.6 422.0,101.1 422.1,101.0 422.2,96.0 422.3,104.9 422.5,102.7 422.6,101.0 422.7,94.2 422.8,101.3 422.9,101.9 423.0,99.2 423.1,100.0 423.2,95.2 423.4,94.8 423.5,106.4 423.6,100.2 423.7,95.5 423.8,99.5 423.9,95.2 424.0,97.4 424.1,97.2 424.2,97.9 424.4,99.1 424.5,99.5 424.6,101.5 424.7,98.7 424.8,101.8 424.9,104.9 425.0,99.7 425.1,101.6 425.3,99.7 425.4,95.1 425.5,96.7 425.6,100.4 425.7,101.6 425.8,102.9 425.9,102.0 426.0,104.5 426.1,101.2 426.3,98.1 426.4,100.1 426.5,100.7 426.6,102.2 426.7,103.5 426.8,105.8 426.9,103.1 427.0,105.9 427.2,103.1 427.3,98.2 427.4,100.4 427.5,97.5 427.6,98.6 427.7,99.0 427.8,102.0 427.9,96.0 428.0,92.9 428.2,95.6 428.3,96.0 428.4,93.4 428.5,94.4 428.6,95.0 428.7,96.2 428.8,93.6 428.9,100.6 429.1,98.7 429.2,97.1 429.3,95.0 429.4,96.9 429.5,96.6 429.6,101.1 429.7,96.6 429.8,95.1 429.9,97.4 430.1,88.6 430.2,94.4 430.3,100.0 430.4,97.9 430.5,99.2 430.6,95.1 430.7,97.0 430.8,100.4 431.0,97.3 431.1,97.5 431.2,101.0 431.3,100.9 431.4,103.2 431.5,102.9 431.6,101.1 431.7,100.5 431.8,101.7 432.0,100.1 432.1,106.8 432.2,101.5 432.3,106.5 432.4,101.2 432.5,102.4 432.6,108.2 432.7,104.1 432.9,107.1 433.0,108.1 433.1,104.3 433.2,103.3 433.3,100.8 433.4,103.4 433.5,103.2 433.6,99.9 433.8,103.8 433.9,101.0 434.0,100.0 434.1,96.0 434.2,103.3 434.3,94.2 434.4,102.2 434.5,101.6 434.6,99.9 434.8,98.5 434.9,95.1 435.0,95.2 435.1,99.1 435.2,95.5 435.3,95.0 435.4,94.5 435.5,98.0 435.7,101.0 435.8,106.2 435.9,106.4 436.0,109.1 436.1,98.4 436.2,100.8 436.3,100.7 436.4,98.8 436.5,103.1 436.7,104.4 436.8,100.7 436.9,101.9 437.0,100.8 437.1,104.2 437.2,103.6 437.3,103.2 437.4,99.9 437.6,99.8 437.7,99.8 437.8,99.8 437.9,98.3 438.0,99.6 438.1,102.3 438.2,100.8 438.3,102.1 438.4,105.4 438.6,101.0 438.7,102.8 438.8,104.2 438.9,102.9 439.0,102.6 439.1,99.6 439.2,99.4 439.3,100.3 439.5,108.6 439.6,105.3 439.7,105.4 439.8,105.3 439.9,99.7 440.0,100.3 440.1,94.5 440.2,96.6 440.3,96.1 440.5,99.5 440.6,95.5 440.7,95.2 440.8,97.2 440.9,94.2 441.0,92.3 441.1,92.1 441.2,88.7 441.4,87.5 441.5,89.7 441.6,93.1 441.7,94.2 441.8,91.5 441.9,93.9 442.0,93.8 442.1,93.9 442.3,95.3 442.4,103.0 442.5,91.6 442.6,99.6 442.7,98.1 442.8,102.1 442.9,97.9 443.0,100.5 443.1,96.3 443.3,93.5 443.4,92.8 443.5,92.1 443.6,90.6 443.7,87.9 443.8,96.2 443.9,97.6 444.0,96.6 444.2,93.5 444.3,90.2 444.4,89.3 444.5,93.3 444.6,89.0 444.7,87.1 444.8,83.8 444.9,83.8 445.0,84.8 445.2,86.1 445.3,82.7 445.4,89.4 445.5,86.6 445.6,87.1 445.7,89.0 445.8,86.1 445.9,81.9 446.1,79.6 446.2,81.0 446.3,88.9 446.4,83.1 446.5,88.1 446.6,92.4 446.7,93.7 446.8,93.1 446.9,95.5 447.1,89.9 447.2,91.6 447.3,86.2 447.4,92.3 447.5,93.8 447.6,94.4 447.7,91.4 447.8,89.5 448.0,88.9 448.1,92.2 448.2,88.6 448.3,93.4 448.4,85.7 448.5,89.4 448.6,86.1 448.7,85.8 448.8,89.3 449.0,89.4 449.1,89.9 449.2,87.1 449.3,88.9 449.4,89.3 449.5,86.3 449.6,86.1 449.7,85.5 449.9,89.9 450.0,88.2 450.1,90.8 450.2,90.4 450.3,91.4 450.4,92.1 450.5,87.9 450.6,96.3 450.8,92.1 450.9,93.6 451.0,89.5 451.1,87.1 451.2,90.9 451.3,90.5 451.4,89.7 451.5,93.4 451.6,91.8 451.8,91.9 451.9,94.5 452.0,97.4 452.1,94.9 452.2,95.3 452.3,88.3 452.4,92.0 452.5,89.6 452.7,93.0 452.8,94.1 452.9,94.5 453.0,92.7 453.1,95.7 453.2,97.4 453.3,93.1 453.4,93.6 453.5,97.9 453.7,99.1 453.8,95.2 453.9,98.5 454.0,94.2 454.1,99.1 454.2,96.0 454.3,96.2 454.4,96.6 454.6,89.6 454.7,93.5 454.8,91.3 454.9,95.0 455.0,95.8"/>
<polyline stroke="#ff9a00" points="52.5,203.0 52.6,177.0 52.7,160.5 52.8,158.0 52.9,156.1 53.1,154.0 53.2,159.0 53.3,153.0 53.4,152.2 53.5,151.4 53.6,153.2 53.7,152.3 53.8,152.8 54.0,152.2 54.1,148.0 54.2,148.1 54.3,148.4 54.4,148.5 54.5,150.2 54.6,148.9 54.7,148.7 54.8,148.4 55.0,148.5 55.1,150.8 55.2,143.8 55.3,144.3 55.4,145.6 55.5,146.7 55.6,140.9 55.7,140.1 55.9,137.7 56.0,136.5 56.1,135.6 56.2,135.6 56.3,139.0 56.4,143.3 56.5,145.3 56.6,140.6 56.7,140.5 56.9,140.1 57.0,136.5 57.1,134.9 57.2,132.7 57.3,135.6 57.4,135.7 57.5,135.9 57.6,135.7 57.8,138.2 57.9,142.4 58.0,140.8 58.1,137.0 58.2,134.0 58.3,128.9 58.4,127.3 58.5,128.3 58.7,133.2 58.8,134.0 58.9,135.4 59.0,138.3 59.1,132.5 59.2,134.8 59.3,134.1 59.4,130.2 59.5,134.9 59.7,132.7 59.8,132.5 59.9,141.4 60.0,139.5 60.1,141.2 60.2,138.9 60.3,138.4 60.4,137.8 60.6,134.1 60.7,133.2 60.8,132.1 60.9,134.8 61.0,139.2 61.1,137.7 61.2,140.0 61.3,138.3 61.4,141.3 61.6,136.4 61.7,137.1 61.8,131.3 61.9,131.9 62.0,134.9 62.1,138.7 62.2,129.3 62.3,130.7 62.5,137.3 62.6,135.7 62.7,132.4 62.8,136.9 62.9,131.1 63.0,129.5 63.1,126.7 63.2,126.8 63.3,128.6 63.5,129.9 63.6,127.1 63.7,131.5 63.8,134.4 63.9,129.6 64.0,135.9 64.1,128.0 64.2,125.0 64.4,129.4 64.5,124.5 64.6,124.9 64.7,125.7 64.8,127.9 64.9,128.2 65.0,127.1 65.1,130.4 65.2,130.8 65.4,127.5 65.5,129.8 65.6,132.6 65.7,126.9 65.8,124.5 65.9,124.9 66.0,124.0 66.1,126.3 66.3,123.5 66.4,124.8 66.5,122.4 66.6,124.8 66.7,127.1 66.8,130.1 66.9,124.7 67.0,131.4 67.2,129.0 67.3,131.2 67.4,132.2 67.5,133.5 67.6,130.9 67.7,134.0 67.8,131.3 67.9,132.9 68.0,131.7 68.2,136.6 68.3,136.6 68.4,130.1 68.5,137.4 68.6,136.5 68.7,133.5 68.8,133.5 68.9,136.1 69.1,131.5 69.2,127.5 69.3,131.8 69.4,128.5 69.5,123.9 69.6,127.6 69.7,122.4 69.8,125.6 69.9,126.9 70.1,127.3 70.2,126.1 70.3,126.4 70.4,125.0 70.5,126.6 70.6,126.4 70.7,129.1 70.8,121.1 71.0,127.5 71.1,136.2 71.2,133.3 71.3,133.2 71.4,127.7 71.5,127.4 71.6,132.7 71.7,129.8 71.8,131.1 72.0,127.4 72.1,126.7 72.2,129.5 72.3,128.5 72.4,133.2 72.5,125.9 72.6,133.7 72.7,129.7 72.9,129.7 73.0,127.7 73.1,123.9 73.2,122.6 73.3,123.6 73.4,122.2 73.5,124.9 73.6,122.5 73.7,121.4 73.9,122.1 74.0,122.7 74.1,129.0 74.2,124.1 74.3,121.6 74.4,124.0 74.5,123.8 74.6,125.5 74.8,124.2 74.9,122.8 75.0,120.7 75.1,119.5 75.2,121.7 75.3,123.1 75.4,125.1 75.5,122.0 75.7,123.8 75.8,123.0 75.9,118.5 76.0,120.6 76.1,115.3 76.2,121.6 76.3,119.4 76.4,117.7 76.5,121.4 76.7,121.7 76.8,117.7 76.9,118.6 77.0,114.9 77.1,116.2 77.2,115.3 77.3,118.4 77.4,114.1 77.6,117.3 77.7,117.7 77.8,118.2 77.9,118.6 78.0,121.9 78.1,116.0 78.2,117.0 78.3,118.9 78.4,116.8 78.6,116.1 78.7,115.6 78.8,113.7 78.9,113.2 79.0,116.2 79.1,116.0 79.2,114.3 79.3,114.6 79.5,108.1 79.6,113.0 79.7,117.3 79.8,115.3 79.9,114.6 80.0,106.7 80.1,112.0 80.2,111.0 80.3,108.8 80.5,106.4 80.6,104.6 80.7,106.2 80.8,107.6 80.9,110.2 81.0,109.6 81.1,103.0 81.2,105.5 81.4,106.3 81.5,104.6 81.6,107.7 81.7,107.2 81.8,107.5 81.9,105.3 82.0,105.1 82.1,104.5 82.2,102.0 82.4,103.5 82.5,103.8 82.6,106.8 82.7,109.4 82.8,109.4 82.9,111.4 83.0,111.7 83.1,112.2 83.3,110.8 83.4,108.7 83.5,108.1 83.6,113.7 83.7,114.7 83.8,108.4 83.9,106.6 84.0,111.9 84.1,108.3 84.3,112.7 84.4,108.6 84.5,108.1 84.6,107.1 84.7,110.1 84.8,107.5 84.9,111.7 85.0,107.7 85.2,105.5 85.3,110.3 85.4,110.4 85.5,107.9 85.6,110.7 85.7,115.4 85.8,113.0 85.9,115.0 86.1,111.3 86.2,109.7 86.3,110.7 86.4,112.7 86.5,108.3 86.6,112.5 86.7,102.8 86.8,105.1 86.9,100.2 87.1,99.1 87.2,97.7 87.3,100.7 87.4,104.0 87.5,103.4 87.6,107.1 87.7,107.3 87.8,108.5 88.0,113.6 88.1,108.3 88.2,107.2 88.3,106.7 88.4,108.0 88.5,106.9 88.6,99.7 88.7,107.4 88.8,103.3 89.0,105.2 89.1,101.7 89.2,106.4 89.3,101.3 89.4,102.9 89.5,104.2 89.6,101.1 89.7,103.3 89.9,105.4 90.0,106.0 90.1,107.3 90.2,104.3 90.3,103.3 90.4,106.1 90.5,110.1 90.6,107.3 90.7,111.7 90.9,113.9 91.0,111.0 91.1,109.6 91.2,104.8 91.3,107.5 91.4,105.1 91.5,114.4 91.6,110.3 91.8,112.5 91.9,116.7 92.0,116.1 92.1,110.5 92.2,110.5 92.3,107.6 92.4,109.5 92.5,112.0 92.6,107.6 92.8,104.5 92.9,103.5 93.0,105.8 93.1,103.6 93.2,107.7 93.3,106.3 93.4,108.4 93.5,106.3 93.7,100.7 93.8,103.4 93.9,102.6 94.0,109.5 94.1,109.4 94.2,106.1 94.3,110.2 94.4,106.5 94.6,110.2 94.7,110.0 94.8,109.1 94.9,109.2 95.0,111.4 95.1,109.1 95.2,105.6 95.3,109.2 95.4,109.8 95.6,111.5 95.7,111.8 95.8,113.6 95.9,105.9 96.0,106.4 96.1,103.9 96.2,102.4 96.3,103.5 96.5,101.7 96.6,100.1 96.7,103.2 96.8,101.5 96.9,105.4 97.0,105.0 97.1,102.9 97.2,107.8 97.3,107.9 97.5,107.6 97.6,102.7 97.7,101.5 97.8,108.2 97.9,102.6 98.0,99.3 98.1,101.7 98.2,98.1 98.4,102.6 98.5,101.2 98.6,104.8 98.7,100.5 98.8,102.3 98.9,104.3 99.0,99.8 99.1,90.4 99.2,95.4 99.4,98.8 99.5,99.8 99.6,98.8 99.7,99.8 99.8,100.3 99.9,102.5 100.0,103.1 100.1,103.8 100.3,104.2 100.4,104.1 100.5,100.2 100.6,108.8 100.7,108.0 100.8,109.3 100.9,111.4 101.0,102.0 101.1,103.7 101.3,106.1 101.4,102.7 101.5,107.2 101.6,105.2 101.7,101.4 101.8,99.0 101.9,98.0 102.0,99.1 102.2,98.9 102.3,102.9 102.4,103.1 102.5,104.1 102.6,105.1 102.7,99.7 102.8,99.9 102.9,100.6 103.1,99.2 103.2,98.1 103.3,97.9 103.4,99.3 103.5,103.3 103.6,103.3 103.7,102.3 103.8,101.3 103.9,99.5 104.1,94.8 104.2,98.4 104.3,101.4 104.4,101.7 104.5,97.5 104.6,96.0 104.7,94.4 104.8,99.7 105.0,100.9 105.1,105.8 105.2,102.3 105.3,99.1 105.4,97.9 105.5,97.0 105.6,96.8 105.7,99.9 105.8,98.9 106.0,96.0 106.1,99.9 106.2,94.1 106.3,99.1 106.4,93.8 106.5,96.7 106.6,90.8 106.7,96.1 106.9,89.2 107.0,92.0 107.1,92.8 107.2,94.7 107.3,92.2 107.4,98.2 107.5,95.1 107.6,99.8 107.7,97.3 107.9,93.7 108.0,93.1 108.1,92.2 108.2,94.2 108.3,95.7 108.4,98.4 108.5,97.9 108.6,95.8 108.8,91.9 108.9,94.1 109.0,98.2 109.1,100.1 109.2,94.4 109.3,84.7 109.4,90.8 109.5,92.1 109.6,91.6 109.8,95.4 109.9,93.0 110.0,90.7 110.1,92.8 110.2,93.2 110.3,88.3 110.4,92.2 110.5,89.7 110.7,92.2 110.8,90.3 110.9,92.3 111.0,92.8 111.1,91.0 111.2,94.8 111.3,94.5 111.4,95.0 111.5,94.8 111.7,93.4 111.8,95.6 111.9,94.0 112.0,96.3 112.1,97.6 112.2,96.3 112.3,99.4 112.4,98.6 112.6,96.8 112.7,97.4 112.8,95.0 112.9,95.2 113.0,89.9 113.1,91.8 113.2,91.5 113.3,97.6 113.5,96.4 113.6,100.8 113.7,98.7 113.8,98.5 113.9,100.2 114.0,94.6 114.1,93.2 114.2,95.9 114.3,94.1 114.5,84.7 114.6,87.2 114.7,90.7 114.8,89.8 114.9,91.4 115.0,93.1 115.1,89.1 115.2,94.9 115.4,93.9 115.5,89.5 115.6,91.8 115.7,94.6 115.8,92.3 115.9,95.3 116.0,94.6 116.1,90.3 116.2,94.1 116.4,96.0 116.5,93.6 116.6,92.5 116.7,98.2 116.8,97.8 116.9,94.4 117.0,98.9 117.1,98.2 117.3,98.4 117.4,98.6 117.5,103.0 117.6,101.4 117.7,99.0 117.8,96.6 117.9,100.9 118.0,95.7 118.1,96.5 118.3,101.1 118.4,99.3 118.5,95.9 118.6,96.7 118.7,94.2 118.8,95.5 118.9,95.7 119.0,95.6 119.2,98.5 119.3,98.8 119.4,100.2 119.5,93.8 119.6,92.2 119.7,92.9 119.8,94.5 119.9,94.1 120.0,94.2 120.2,93.6 120.3,93.9 120.4,93.0 120.5,93.6 120.6,92.3 120.7,93.9 120.8,98.2 120.9,91.7 121.1,90.4 121.2,89.5 121.3,85.7 121.4,91.3 121.5,93.4 121.6,87.1 121.7,92.1 121.8,92.6 122.0,86.6 122.1,89.4 122.2,95.5 122.3,94.2 122.4,91.8 122.5,93.3 122.6,93.3 122.7,91.2 122.8,93.6 123.0,87.7 123.1,91.5 123.2,97.4 123.3,92.9 123.4,95.7 123.5,97.3 123.6,97.2 123.7,94.1 123.9,88.4 124.0,87.3 124.1,90.9 124.2,99.7 124.3,99.7 124.4,95.0 124.5,97.0 124.6,97.3 124.7,95.5 124.9,98.4 125.0,91.7 125.1,94.9 125.2,95.0 125.3,96.5 125.4,95.4 125.5,90.5 125.6,96.5 125.8,91.5 125.9,91.7 126.0,94.8 126.1,95.8 126.2,94.2 126.3,92.5 126.4,88.9 126.5,90.2 126.6,89.2 126.8,92.3 126.9,92.9 127.0,88.3 127.1,90.9 127.2,92.9 127.3,95.3 127.4,94.6 127.5,94.9 127.7,91.7 127.8,92.2 127.9,96.3 128.0,94.0 128.1,95.4 128.2,95.0 128.3,96.0 128.4,92.0 128.5,90.5 128.7,94.5 128.8,94.3 128.9,90.8 129.0,94.9 129.1,93.4 129.2,96.7 129.3,93.6 129.4,90.1 129.6,94.4 129.7,94.8 129.8,94.6 129.9,93.2 130.0,94.7 130.1,98.1 130.2,100.2 130.3,96.3 130.5,100.2 130.6,97.2 130.7,98.9 130.8,99.7 130.9,94.0 131.0,98.6 131.1,101.9 131.2,94.6 131.3,93.4 131.5,95.4 131.6,99.9 131.7,98.1 131.8,96.0 131.9,96.2 132.0,95.6 132.1,98.3 132.2,95.2 132.4,101.2 132.5,101.9 132.6,99.8 132.7,102.0 132.8,103.6 132.9,101.8 133.0,103.3 133.1,98.8 133.2,101.8 133.4,102.4 133.5,105.5 133.6,101.2 133.7,99.1 133.8,98.5 133.9,100.7 134.0,97.0 134.1,101.0 134.3,96.2 134.4,96.6 134.5,95.2 134.6,100.1 134.7,100.1 134.8,99.9 134.9,97.9 135.0,97.3 135.1,100.0 135.3,102.2 135.4,101.3 135.5,97.4 135.6,99.7 135.7,98.0 135.8,91.0 135.9,98.7 136.0,97.6 136.2,100.9 136.3,97.5 136.4,95.4 136.5,96.8 136.6,97.2 136.7,101.5 136.8,100.8 136.9,101.2 137.0,96.4 137.2,101.3 137.3,97.9 137.4,95.8 137.5,94.9 137.6,96.8 137.7,95.3 137.8,94.9 137.9,97.4 138.1,96.6 138.2,92.8 138.3,88.9 138.4,88.9 138.5,92.4 138.6,93.2 138.7,92.0 138.8,89.2 138.9,91.7 139.1,95.3 139.2,88.4 139.3,91.0 139.4,94.3 139.5,94.5 139.6,91.9 139.7,95.9 139.8,95.2 140.0,98.0 140.1,92.1 140.2,91.7 140.3,91.4 140.4,95.7 140.5,97.4 140.6,92.5 140.7,98.0 140.9,99.6 141.0,100.8 141.1,103.2 141.2,102.7 141.3,102.4 141.4,97.4 141.5,100.1 141.6,99.8 141.7,93.9 141.9,96.4 142.0,94.3 142.1,90.3 142.2,95.5 142.3,91.1 142.4,88.9 142.5,95.0 142.6,99.4 142.8,96.5 142.9,99.6 143.0,101.0 143.1,100.6 143.2,97.4 143.3,94.7 143.4,97.8 143.5,91.3 143.6,95.6 143.8,97.4 143.9,100.9 144.0,98.4 144.1,102.5 144.2,102.0 144.3,99.0 144.4,98.5 144.5,102.2 144.7,103.1 144.8,100.3 144.9,99.1 145.0,97.4 145.1,103.9 145.2,102.9 145.3,99.8 145.4,101.5 145.5,103.8 145.7,109.4 145.8,105.1 145.9,101.3 146.0,107.0 146.1,104.2 146.2,103.3 146.3,105.0 146.4,96.6 146.6,102.9 146.7,103.2 146.8,106.1 146.9,103.4 147.0,104.7 147.1,103.1 147.2,105.9 147.3,101.5 147.4,103.3 147.6,101.1 147.7,103.7 147.8,101.8 147.9,96.2 148.0,101.6 148.1,101.0 148.2,104.6 148.3,103.0 148.5,99.5 148.6,102.7 148.7,105.5 148.8,105.8 148.9,102.7 149.0,95.9 149.1,97.5 149.2,103.6 149.4,99.6 149.5,95.7 149.6,100.7 149.7,97.1 149.8,94.3 149.9,91.2 150.0,96.6 150.1,97.7 150.2,98.8 150.4,99.9 150.5,101.1 150.6,100.5 150.7,102.5 150.8,104.4 150.9,107.5 151.0,102.1 151.1,103.6 151.3,104.6 151.4,106.1 151.5,102.6 151.6,102.0 151.7,101.1 151.8,102.7 151.9,100.7 152.0,101.2 152.1,98.1 152.3,101.7 152.4,100.5 152.5,107.7 152.6,109.7 152.7,104.2 152.8,99.9 152.9,104.6 153.0,103.5 153.2,102.0 153.3,99.4 153.4,102.6 153.5,99.0 153.6,93.6 153.7,98.2 153.8,94.3 153.9,96.9 154.0,101.4 154.2,102.3 154.3,103.0 154.4,103.5 154.5,102.3 154.6,103.2 154.7,98.5 154.8,98.4 154.9,102.3 155.1,96.5 155.2,98.3 155.3,95.6 155.4,101.9 155.5,98.3 155.6,102.0 155.7,96.8 155.8,99.5 155.9,102.3 156.1,99.4 156.2,101.2 156.3,102.7 156.4,100.4 156.5,95.6 156.6,96.1 156.7,97.1 156.8,94.3 157.0,94.3 157.1,91.4 157.2,93.6 157.3,92.1 157.4,98.4 157.5,98.3 157.6,96.2 157.7,94.4 157.9,96.0 158.0,91.6 158.1,95.8 158.2,92.4 158.3,94.5 158.4,94.2 158.5,96.9 158.6,101.2 158.7,97.4 158.9,97.0 159.0,98.7 159.1,100.8 159.2,100.3 159.3,100.3 159.4,95.9 159.5,98.1 159.6,99.0 159.8,98.1 159.9,97.5 160.0,100.5 160.1,103.1 160.2,102.8 160.3,101.1 160.4,105.0 160.5,97.9 160.6,98.9 160.8,99.9 160.9,95.1 161.0,92.3 161.1,91.5 161.2,100.1 161.3,102.3 161.4,101.1 161.5,103.7 161.7,99.7 161.8,96.0 161.9,100.6 162.0,102.9 162.1,100.0 162.2,97.6 162.3,96.6 162.4,100.1 162.5,93.0 162.7,100.8 162.8,98.2 162.9,102.0 163.0,97.2 163.1,99.4 163.2,100.5 163.3,96.5 163.4,97.6 163.6,97.2 163.7,97.0 163.8,98.0 163.9,98.8 164.0,95.7 164.1,95.6 164.2,95.4 164.3,98.2 164.4,104.7 164.6,103.2 164.7,107.6 164.8,108.6 164.9,105.1 165.0,101.8 165.1,102.8 165.2,104.4 165.3,102.7 165.5,102.4 165.6,103.9 165.7,100.0 165.8,98.8 165.9,93.0 166.0,95.7 166.1,97.7 166.2,100.2 166.3,105.2 166.5,102.0 166.6,101.0 166.7,103.3 166.8,101.2 166.9,100.0 167.0,99.0 167.1,100.3 167.2,99.1 167.4,103.7 167.5,97.4 167.6,97.9 167.7,98.9 167.8,105.3 167.9,101.7 168.0,105.1 168.1,102.3 168.3,101.6 168.4,93.5 168.5,102.0 168.6,99.7 168.7,101.2 168.8,100.9 168.9,94.3 169.0,92.1 169.1,94.2 169.3,92.6 169.4,93.1 169.5,95.7 169.6,96.0 169.7,97.6 169.8,98.9 169.9,102.6 170.0,97.7 170.2,97.3 170.3,97.2 170.4,103.3 170.5,104.4 170.6,103.5 170.7,103.6 170.8,101.2 170.9,103.4 171.0,100.2 171.2,104.6 171.3,100.9 171.4,95.7 171.5,96.5 171.6,97.7 171.7,96.8 171.8,97.9 171.9,98.5 172.1,98.4 172.2,101.2 172.3,101.6 172.4,98.2 172.5,100.3 172.6,103.0 172.7,103.9 172.8,94.9 172.9,98.3 173.1,102.8 173.2,104.6 173.3,103.8 173.4,104.2 173.5,101.2 173.6,102.7 173.7,97.8 173.8,93.2 174.0,97.3 174.1,98.7 174.2,95.1 174.3,101.0 174.4,99.0 174.5,98.7 174.6,98.3 174.7,99.2 174.8,103.0 175.0,100.7 175.1,92.9 175.2,98.4 175.3,92.7 175.4,96.0 175.5,98.7 175.6,91.9 175.7,96.7 175.9,99.7 176.0,98.2 176.1,99.8 176.2,98.6 176.3,101.9 176.4,96.3 176.5,102.8 176.6,101.5 176.8,95.6 176.9,91.6 177.0,93.9 177.1,102.2 177.2,96.9 177.3,98.5 177.4,95.4 177.5,94.4 177.6,101.9 177.8,97.5 177.9,95.0 178.0,93.9 178.1,96.3 178.2,97.7 178.3,95.2 178.4,100.4 178.5,97.8 178.7,98.6 178.8,98.1 178.9,98.6 179.0,99.4 179.1,96.6 179.2,97.8 179.3,98.2 179.4,93.2 179.5,91.9 179.7,97.5 179.8,90.3 179.9,89.9 180.0,94.5 180.1,94.5 180.2,95.1 180.3,92.8 180.4,97.1 180.6,94.6 180.7,92.4 180.8,95.4 180.9,95.6 181.0,90.2 181.1,92.7 181.2,92.2 181.3,95.9 181.4,99.5 181.6,97.9 181.7,97.7 181.8,96.7 181.9,93.0 182.0,90.3 182.1,88.6 182.2,95.7 182.3,96.2 182.5,97.6 182.6,101.8 182.7,92.9 182.8,91.7 182.9,90.5 183.0,92.8 183.1,92.6 183.2,97.2 183.3,98.5 183.5,102.1 183.6,98.0 183.7,94.0 183.8,97.9 183.9,99.9 184.0,97.4 184.1,96.2 184.2,95.0 184.4,92.5 184.5,92.6 184.6,94.5 184.7,94.5 184.8,87.8 184.9,93.2 185.0,94.9 185.1,90.9 185.3,92.1 185.4,91.0 185.5,90.2 185.6,90.9 185.7,88.0 185.8,91.4 185.9,93.2 186.0,89.9 186.1,92.8 186.3,85.6 186.4,88.5 186.5,88.8 186.6,90.4 186.7,87.7 186.8,86.5 186.9,88.0 187.0,83.2 187.2,87.5 187.3,86.0 187.4,89.8 187.5,92.9 187.6,91.0 187.7,90.6 187.8,91.7 187.9,91.2 188.0,89.8 188.2,94.9 188.3,92.7 188.4,90.3 188.5,90.3 188.6,83.6 188.7,87.2 188.8,85.3 188.9,87.8 189.1,84.5 189.2,82.8 189.3,89.1 189.4,86.8 189.5,90.0 189.6,89.5 189.7,90.2 189.8,87.4 189.9,90.6 190.1,88.3 190.2,84.8 190.3,86.8 190.4,86.8 190.5,88.2 190.6,93.2 190.7,91.3 190.8,96.4 191.0,88.1 191.1,87.6 191.2,89.5 191.3,92.5 191.4,91.5 191.5,91.7 191.6,93.9 191.7,91.1 191.8,90.9 192.0,89.1 192.1,90.4 192.2,88.6 192.3,89.6 192.4,84.9 192.5,85.7 192.6,90.9 192.7,89.0 192.9,84.7 193.0,84.1 193.1,83.3 193.2,83.2 193.3,82.2 193.4,81.0 193.5,82.2 193.6,82.7 193.7,80.6 193.9,83.3 194.0,80.6 194.1,85.6 194.2,77.8 194.3,82.9 194.4,84.5 194.5,82.5 194.6,87.7 194.8,80.2 194.9,81.2 195.0,87.4 195.1,83.6 195.2,85.2 195.3,83.4 195.4,85.4 195.5,87.4 195.7,85.0 195.8,84.7 195.9,85.7 196.0,81.8 196.1,84.4 196.2,90.0 196.3,87.0 196.4,85.6 196.5,83.1 196.7,81.3 196.8,88.1 196.9,86.5 197.0,87.8 197.1,81.8 197.2,86.2 197.3,84.4 197.4,84.3 197.6,84.1 197.7,84.6 197.8,84.3 197.9,86.3 198.0,86.8 198.1,88.2 198.2,88.0 198.3,88.1 198.4,85.8 198.6,84.1 198.7,86.3 198.8,90.6 198.9,92.5 199.0,94.3 199.1,92.8 199.2,88.4 199.3,90.8 199.5,87.1 199.6,86.9 199.7,88.0 199.8,84.4 199.9,85.8 200.0,85.3 200.1,84.9 200.2,87.5 200.3,89.9 200.5,85.2 200.6,84.0 200.7,87.6 200.8,88.4 200.9,85.3 201.0,85.2 201.1,88.8 201.2,90.0 201.4,88.7 201.5,86.0 201.6,88.7 201.7,88.0 201.8,85.3 201.9,81.9 202.0,79.5 202.1,81.7 202.2,86.6 202.4,91.3 202.5,86.6 202.6,84.8 202.7,86.9 202.8,88.4 202.9,91.6 203.0,91.1 203.1,86.2 203.3,90.5 203.4,87.8 203.5,92.9 203.6,86.2 203.7,86.0 203.8,86.6 203.9,89.1 204.0,83.5 204.2,86.9 204.3,86.5 204.4,82.9 204.5,81.3 204.6,87.0 204.7,91.6 204.8,84.9 204.9,82.8 205.0,84.0 205.2,87.2 205.3,87.7 205.4,85.0 205.5,83.7 205.6,78.1 205.7,78.8 205.8,83.3 205.9,81.7 206.1,91.2 206.2,85.8 206.3,84.7 206.4,85.8 206.5,81.3 206.6,91.8 206.7,88.4 206.8,88.8 206.9,85.8 207.1,85.6 207.2,85.9 207.3,89.1 207.4,84.4 207.5,90.3 207.6,91.2 207.7,90.4 207.8,82.7 208.0,82.2 208.1,82.8 208.2,83.7 208.3,88.9 208.4,89.6 208.5,90.7 208.6,90.5 208.7,85.3 208.8,83.1 209.0,87.1 209.1,83.7 209.2,90.5 209.3,87.4 209.4,87.6 209.5,91.4 209.6,87.4 209.7,85.9 209.9,88.9 210.0,88.3 210.1,84.3 210.2,82.7 210.3,86.8 210.4,86.0 210.5,80.2 210.6,82.8 210.7,86.1 210.9,86.3 211.0,84.7 211.1,78.7 211.2,84.8 211.3,88.4 211.4,90.1 211.5,86.7 211.6,87.9 211.8,89.0 211.9,89.1 212.0,83.4 212.1,84.9 212.2,80.9 212.3,84.9 212.4,85.8 212.5,84.4 212.7,85.1 212.8,86.5 212.9,81.1 213.0,81.1 213.1,82.4 213.2,80.4 213.3,83.9 213.4,85.1 213.5,85.1 213.7,81.5 213.8,86.5 213.9,83.4 214.0,80.4 214.1,84.5 214.2,81.3 214.3,88.3 214.4,89.8 214.6,89.2 214.7,90.3 214.8,90.6 214.9,92.0 215.0,92.4 215.1,90.1 215.2,85.0 215.3,86.0 215.4,89.0 215.6,89.7 215.7,86.2 215.8,88.6 215.9,89.5 216.0,84.9 216.1,87.5 216.2,85.1 216.3,85.8 216.5,82.2 216.6,89.9 216.7,86.5 216.8,85.2 216.9,92.4 217.0,85.7 217.1,85.9 217.2,86.9 217.3,88.8 217.5,90.8 217.6,90.4 217.7,87.0 217.8,90.3 217.9,93.1 218.0,94.0 218.1,94.7 218.2,94.4 218.4,90.2 218.5,86.0 218.6,89.5 218.7,87.1 218.8,82.3 218.9,90.4 219.0,84.5 219.1,91.0 219.2,90.1 219.4,89.5 219.5,90.6 219.6,84.3 219.7,82.3 219.8,87.3 219.9,88.0 220.0,90.9 220.1,86.5 220.3,88.8 220.4,87.6 220.5,94.2 220.6,90.4 220.7,90.5 220.8,88.3 220.9,89.4 221.0,91.2 221.1,91.8 221.3,90.0 221.4,88.0 221.5,90.6 221.6,94.1 221.7,94.0 221.8,93.8 221.9,89.1 222.0,93.7 222.2,94.9 222.3,92.5 222.4,92.9 222.5,89.6 222.6,89.8 222.7,87.2 222.8,92.1 222.9,88.3 223.1,91.3 223.2,89.6 223.3,88.5 223.4,93.7 223.5,91.3 223.6,93.8 223.7,95.4 223.8,94.2 223.9,96.2 224.1,94.9 224.2,88.2 224.3,90.8 224.4,93.2 224.5,95.0 224.6,97.3 224.7,86.4 224.8,91.0 225.0,90.5 225.1,92.0 225.2,91.6 225.3,95.1 225.4,94.0 225.5,95.0 225.6,93.9 225.7,95.4 225.8,89.5 226.0,93.7 226.1,93.1 226.2,91.3 226.3,91.9 226.4,93.0 226.5,90.9 226.6,88.3 226.7,92.2 226.9,94.9 227.0,89.9 227.1,91.1 227.2,96.3 227.3,94.1 227.4,93.8 227.5,91.9 227.6,95.4 227.7,90.5 227.9,88.7 228.0,91.6 228.1,89.7 228.2,94.6 228.3,93.1 228.4,94.1 228.5,89.1 228.6,84.6 228.8,90.5 228.9,91.7 229.0,92.6 229.1,92.1 229.2,88.8 229.3,92.8 229.4,90.1 229.5,93.3 229.6,92.3 229.8,91.2 229.9,93.4 230.0,91.0 230.1,89.6 230.2,89.6 230.3,94.2 230.4,93.3 230.5,93.5 230.7,97.4 230.8,98.0 230.9,92.9 231.0,92.9 231.1,93.7 231.2,91.6 231.3,90.6 231.4,93.4 231.6,89.3 231.7,88.6 231.8,84.2 231.9,92.0 232.0,88.4 232.1,90.1 232.2,86.2 232.3,92.6 232.4,91.5 232.6,93.5 232.7,93.9 232.8,93.1 232.9,97.5 233.0,92.1 233.1,94.0 233.2,93.5 233.3,97.0 233.5,89.0 233.6,88.8 233.7,93.5 233.8,91.7 233.9,95.6 234.0,95.3 234.1,97.5 234.2,99.2 234.3,97.8 234.5,92.7 234.6,91.7 234.7,86.6 234.8,89.9 234.9,92.5 235.0,91.6 235.1,96.9 235.2,94.5 235.4,89.0 235.5,95.0 235.6,89.0 235.7,87.9 235.8,88.1 235.9,86.0 236.0,91.4 236.1,90.6 236.2,85.4 236.4,86.4 236.5,87.0 236.6,86.7 236.7,84.3 236.8,85.7 236.9,82.6 237.0,83.6 237.1,85.8 237.3,81.4 237.4,85.2 237.5,84.6 237.6,83.7 237.7,81.0 237.8,81.1 237.9,88.6 238.0,81.7 238.1,80.2 238.3,88.6 238.4,86.6 238.5,91.2 238.6,86.9 238.7,91.4 238.8,90.7 238.9,91.4 239.0,85.7 239.2,88.2 239.3,86.7 239.4,87.3 239.5,91.8 239.6,90.8 239.7,88.2 239.8,89.6 239.9,88.2 240.1,90.3 240.2,93.0 240.3,93.2 240.4,90.6 240.5,87.1 240.6,88.9 240.7,86.9 240.8,86.7 240.9,87.6 241.1,86.5 241.2,85.7 241.3,81.6 241.4,86.2 241.5,90.4 241.6,93.8 241.7,90.1 241.8,91.1 242.0,87.8 242.1,87.4 242.2,87.4 242.3,89.6 242.4,86.8 242.5,91.5 242.6,85.3 242.7,88.1 242.8,83.9 243.0,88.5 243.1,90.3 243.2,88.5 243.3,95.5 243.4,95.6 243.5,91.3 243.6,91.6 243.7,94.2 243.9,89.2 244.0,90.5 244.1,94.8 244.2,90.8 244.3,93.3 244.4,86.6 244.5,93.7 244.6,91.2 244.7,93.1 244.9,89.4 245.0,91.4 245.1,92.8 245.2,90.8 245.3,94.9 245.4,95.3 245.5,98.4 245.6,95.4 245.8,94.6 245.9,94.6 246.0,93.5 246.1,90.7 246.2,90.7 246.3,91.6 246.4,91.5 246.5,94.4 246.6,94.2 246.8,91.3 246.9,88.2 247.0,92.1 247.1,89.9 247.2,89.3 247.3,90.6 247.4,87.8 247.5,90.9 247.7,93.7 247.8,93.9 247.9,87.8 248.0,87.2 248.1,94.5 248.2,90.2 248.3,94.7 248.4,87.5 248.5,88.7 248.7,87.2 248.8,88.6 248.9,89.3 249.0,94.3 249.1,88.4 249.2,92.7 249.3,88.8 249.4,92.3 249.6,97.3 249.7,93.8 249.8,94.1 249.9,93.3 250.0,93.8 250.1,90.0 250.2,93.7 250.3,95.9 250.5,96.1 250.6,99.1 250.7,95.5 250.8,96.8 250.9,90.1 251.0,93.9 251.1,89.2 251.2,92.7 251.3,89.9 251.5,97.3 251.6,97.9 251.7,94.1 251.8,90.6 251.9,91.7 252.0,88.4 252.1,90.7 252.2,87.9 252.4,86.8 252.5,85.4 252.6,88.8 252.7,87.3 252.8,90.6 252.9,86.4 253.0,90.0 253.1,93.3 253.2,94.2 253.4,96.7 253.5,99.3 253.6,88.8 253.7,92.1 253.8,90.5 253.9,89.9 254.0,90.2 254.1,92.0 254.3,92.4 254.4,87.0 254.5,89.2 254.6,89.6 254.7,89.7 254.8,89.1 254.9,90.8 255.0,89.4 255.1,93.2 255.3,89.0 255.4,93.7 255.5,96.9 255.6,86.7 255.7,91.4 255.8,87.4 255.9,88.4 256.0,88.1 256.2,79.1 256.3,83.1 256.4,84.5 256.5,86.7 256.6,79.9 256.7,79.9 256.8,83.8 256.9,86.5 257.0,81.7 257.2,83.7 257.3,82.6 257.4,80.1 257.5,87.3 257.6,90.8 257.7,89.1 257.8,85.7 257.9,89.5 258.1,91.7 258.2,86.1 258.3,87.3 258.4,90.6 258.5,90.4 258.6,88.5 258.7,93.1 258.8,91.1 259.0,90.0 259.1,87.1 259.2,91.0 259.3,96.6 259.4,89.5 259.5,89.9 259.6,89.7 259.7,90.2 259.8,93.1 260.0,93.6 260.1,93.8 260.2,92.8 260.3,93.4 260.4,93.0 260.5,89.1 260.6,85.1 260.7,88.7 260.9,80.5 261.0,83.7 261.1,88.4 261.2,88.3 261.3,87.6 261.4,89.9 261.5,85.6 261.6,83.8 261.7,85.7 261.9,85.5 262.0,84.3 262.1,88.0 262.2,88.2 262.3,89.2 262.4,88.4 262.5,86.7 262.6,91.2 262.8,92.0 262.9,83.3 263.0,87.3 263.1,83.8 263.2,83.0 263.3,78.5 263.4,80.0 263.5,79.4 263.6,79.4 263.8,79.9 263.9,84.3 264.0,84.2 264.1,82.6 264.2,80.2 264.3,77.3 264.4,75.5 264.5,77.0 264.7,79.5 264.8,81.7 264.9,82.8 265.0,81.7 265.1,79.2 265.2,83.8 265.3,83.1 265.4,83.3 265.5,83.2 265.7,81.9 265.8,84.1 265.9,86.1 266.0,82.1 266.1,80.3 266.2,78.4 266.3,76.0 266.4,79.7 266.6,79.7 266.7,73.2 266.8,75.3 266.9,73.7 267.0,80.4 267.1,73.6 267.2,74.4 267.3,67.5 267.4,65.6 267.6,74.9 267.7,74.0 267.8,76.3 267.9,74.8 268.0,75.1 268.1,76.5 268.2,79.1 268.3,76.7 268.5,78.5 268.6,81.6 268.7,78.6 268.8,81.4 268.9,85.6 269.0,86.7 269.1,87.1 269.2,88.2 269.4,88.2 269.5,85.0 269.6,80.3 269.7,84.1 269.8,83.3 269.9,86.2 270.0,86.7 270.1,82.2 270.2,78.5 270.4,81.6 270.5,82.2 270.6,80.0 270.7,79.9 270.8,81.4 270.9,81.2 271.0,83.2 271.1,83.5 271.3,81.6 271.4,80.2 271.5,87.0 271.6,85.3 271.7,86.3 271.8,81.5 271.9,75.0 272.0,77.8 272.1,75.2 272.3,78.4 272.4,84.6 272.5,83.9 272.6,83.7 272.7,82.4 272.8,83.0 272.9,82.8 273.0,81.9 273.2,86.1 273.3,88.6 273.4,85.3 273.5,83.5 273.6,84.2 273.7,82.6 273.8,90.9 273.9,91.9 274.0,89.2 274.2,92.4 274.3,93.0 274.4,86.7 274.5,90.5 274.6,87.6 274.7,84.8 274.8,87.4 274.9,84.0 275.1,81.1 275.2,85.1 275.3,86.7 275.4,88.3 275.5,85.2 275.6,83.5 275.7,85.9 275.8,83.1 275.9,87.0 276.1,86.5 276.2,82.0 276.3,78.8 276.4,74.9 276.5,84.9 276.6,80.9 276.7,82.9 276.8,77.6 277.0,79.1 277.1,81.5 277.2,84.0 277.3,88.7 277.4,90.2 277.5,85.4 277.6,87.3 277.7,85.3 277.9,81.9 278.0,85.7 278.1,82.4 278.2,83.0 278.3,85.8 278.4,82.1 278.5,86.3 278.6,82.0 278.7,82.3 278.9,83.4 279.0,87.9 279.1,87.2 279.2,80.8 279.3,83.5 279.4,86.7 279.5,79.5 279.6,81.1 279.8,80.1 279.9,79.4 280.0,77.6 280.1,81.8 280.2,81.7 280.3,76.7 280.4,74.0 280.5,72.6 280.6,75.9 280.8,83.5 280.9,80.0 281.0,80.6 281.1,82.0 281.2,80.4 281.3,86.2 281.4,80.8 281.5,83.1 281.7,82.7 281.8,79.4 281.9,81.7 282.0,78.9 282.1,78.9 282.2,75.8 282.3,80.8 282.4,80.5 282.5,84.6 282.7,84.8 282.8,82.5 282.9,76.5 283.0,77.2 283.1,79.5 283.2,80.4 283.3,82.4 283.4,80.6 283.6,85.1 283.7,79.9 283.8,76.5 283.9,77.5 284.0,72.7 284.1,81.4 284.2,77.4 284.3,78.2 284.4,74.6 284.6,80.2 284.7,76.1 284.8,78.6 284.9,80.3 285.0,81.9 285.1,77.8 285.2,78.9 285.3,79.9 285.5,72.2 285.6,73.3 285.7,75.0 285.8,75.9 285.9,73.9 286.0,73.0 286.1,79.8 286.2,80.0 286.4,79.0 286.5,77.6 286.6,81.7 286.7,77.1 286.8,74.2 286.9,78.0 287.0,75.4 287.1,78.8 287.2,73.3 287.4,75.0 287.5,75.7 287.6,74.7 287.7,75.1 287.8,73.2 287.9,73.2 288.0,73.6 288.1,70.8 288.3,77.9 288.4,75.4 288.5,83.0 288.6,78.1 288.7,80.1 288.8,77.4 288.9,77.0 289.0,74.1 289.1,75.6 289.3,73.6 289.4,78.1 289.5,83.3 289.6,80.6 289.7,81.9 289.8,80.1 289.9,80.9 290.0,81.6 290.2,79.4 290.3,84.6 290.4,84.0 290.5,86.8 290.6,84.1 290.7,80.7 290.8,80.4 290.9,80.9 291.0,80.0 291.2,81.3 291.3,86.3 291.4,86.3 291.5,83.2 291.6,85.3 291.7,85.9 291.8,81.8 291.9,85.7 292.1,81.5 292.2,81.4 292.3,82.0 292.4,84.5 292.5,83.8 292.6,86.7 292.7,81.5 292.8,84.5 292.9,84.8 293.1,82.9 293.2,89.6 293.3,84.4 293.4,88.7 293.5,90.2 293.6,83.1 293.7,82.2 293.8,80.3 294.0,80.5 294.1,79.8 294.2,81.2 294.3,78.3 294.4,75.1 294.5,80.7 294.6,80.8 294.7,84.4 294.8,84.8 295.0,85.9 295.1,80.6 295.2,81.6 295.3,84.0 295.4,78.0 295.5,84.2 295.6,83.9 295.7,80.4 295.9,88.0 296.0,85.5 296.1,83.2 296.2,82.2 296.3,78.4 296.4,78.4 296.5,79.2 296.6,86.1 296.8,82.0 296.9,79.5 297.0,77.5 297.1,81.1 297.2,84.2 297.3,82.5 297.4,83.6 297.5,81.1 297.6,82.5 297.8,81.0 297.9,80.7 298.0,84.1 298.1,83.9 298.2,82.6 298.3,84.9 298.4,87.5 298.5,83.1 298.7,84.3 298.8,81.8 298.9,87.1 299.0,83.8 299.1,90.2 299.2,85.5 299.3,86.8 299.4,90.7 299.5,85.8 299.7,82.4 299.8,85.1 299.9,85.5 300.0,84.3 300.1,84.9 300.2,86.5 300.3,91.0 300.4,88.5 300.6,88.6 300.7,84.6 300.8,84.8 300.9,85.1 301.0,86.7 301.1,82.8 301.2,80.1 301.3,85.6 301.4,83.1 301.6,84.1 301.7,89.1 301.8,86.7 301.9,86.2 302.0,84.4 302.1,88.2 302.2,85.0 302.3,84.6 302.5,85.0 302.6,86.4 302.7,83.4 302.8,83.3 302.9,77.9 303.0,84.9 303.1,83.9 303.2,85.8 303.3,82.5 303.5,83.7 303.6,85.5 303.7,82.2 303.8,85.3 303.9,85.8 304.0,86.6 304.1,84.0 304.2,90.4 304.4,87.5 304.5,82.8 304.6,85.5 304.7,81.9 304.8,84.6 304.9,83.9 305.0,80.3 305.1,79.8 305.3,77.6 305.4,83.8 305.5,85.9 305.6,85.1 305.7,81.4 305.8,82.7 305.9,85.8 306.0,81.9 306.1,86.4 306.3,85.1 306.4,83.1 306.5,86.6 306.6,82.1 306.7,84.9 306.8,90.0 306.9,91.2 307.0,88.9 307.2,88.9 307.3,86.4 307.4,85.2 307.5,82.6 307.6,83.7 307.7,88.6 307.8,88.7 307.9,89.8 308.0,86.2 308.2,84.5 308.3,81.4 308.4,85.5 308.5,86.7 308.6,85.8 308.7,83.6 308.8,86.4 308.9,85.7 309.1,80.8 309.2,85.4 309.3,89.7 309.4,81.5 309.5,92.0 309.6,86.8 309.7,88.3 309.8,85.6 309.9,85.6 310.1,83.2 310.2,87.0 310.3,86.7 310.4,92.4 310.5,95.1 310.6,91.4 310.7,96.5 310.8,91.0 311.0,87.7 311.1,89.4 311.2,92.6 311.3,91.1 311.4,87.9 311.5,93.9 311.6,93.8 311.7,92.9 311.8,92.1 312.0,88.7 312.1,85.1 312.2,94.0 312.3,85.3 312.4,92.1 312.5,92.0 312.6,92.8 312.7,93.0 312.9,90.7 313.0,92.5 313.1,88.2 313.2,91.5 313.3,88.9 313.4,91.0 313.5,89.6 313.6,91.6 313.8,90.2 313.9,93.8 314.0,93.1 314.1,88.1 314.2,91.2 314.3,91.5 314.4,86.5 314.5,86.8 314.6,90.1 314.8,91.7 314.9,92.7 315.0,92.9 315.1,89.6 315.2,87.5 315.3,93.9 315.4,91.3 315.5,92.7 315.7,89.8 315.8,89.1 315.9,92.2 316.0,87.5 316.1,87.8 316.2,89.6 316.3,86.6 316.4,86.3 316.5,89.1 316.7,93.8 316.8,89.1 316.9,91.5 317.0,89.5 317.1,94.9 317.2,93.4 317.3,87.0 317.4,82.2 317.6,85.0 317.7,89.2 317.8,85.6 317.9,91.4 318.0,88.9 318.1,88.4 318.2,87.3 318.3,90.7 318.4,90.5 318.6,87.7 318.7,89.7 318.8,90.5 318.9,88.4 319.0,91.0 319.1,92.2 319.2,95.7 319.3,86.2 319.5,88.6 319.6,88.3 319.7,89.5 319.8,88.0 319.9,90.9 320.0,91.6 320.1,97.4 320.2,91.4 320.3,95.4 320.5,94.9 320.6,98.4 320.7,94.1 320.8,97.7 320.9,94.5 321.0,94.5 321.1,94.8 321.2,94.6 321.4,92.6 321.5,94.9 321.6,88.7 321.7,90.9 321.8,90.1 321.9,90.0 322.0,90.9 322.1,94.6 322.2,96.3 322.4,97.0 322.5,91.0 322.6,95.5 322.7,98.2 322.8,94.2 322.9,91.4 323.0,93.7 323.1,89.6 323.3,90.4 323.4,86.6 323.5,90.6 323.6,88.5 323.7,88.7 323.8,89.5 323.9,91.8 324.0,92.7 324.2,93.7 324.3,95.1 324.4,96.8 324.5,91.3 324.6,91.8 324.7,97.2 324.8,95.6 324.9,89.6 325.0,89.2 325.2,90.9 325.3,91.1 325.4,84.5 325.5,91.6 325.6,91.3 325.7,90.8 325.8,94.8 325.9,93.6 326.1,91.9 326.2,94.2 326.3,92.4 326.4,93.3 326.5,91.5 326.6,90.9 326.7,92.0 326.8,99.0 326.9,95.9 327.1,92.8 327.2,90.5 327.3,94.1 327.4,93.7 327.5,93.6 327.6,92.3 327.7,93.7 327.8,91.1 328.0,90.2 328.1,85.3 328.2,90.6 328.3,88.4 328.4,87.2 328.5,85.7 328.6,84.9 328.7,86.3 328.8,91.8 329.0,89.2 329.1,89.7 329.2,89.9 329.3,88.9 329.4,85.5 329.5,84.0 329.6,84.1 329.7,83.0 329.9,83.8 330.0,90.2 330.1,89.3 330.2,85.1 330.3,86.5 330.4,90.8 330.5,89.7 330.6,86.9 330.7,90.5 330.9,87.5 331.0,90.9 331.1,88.3 331.2,89.3 331.3,86.3 331.4,88.1 331.5,86.2 331.6,87.9 331.8,89.5 331.9,88.0 332.0,82.0 332.1,83.3 332.2,82.6 332.3,89.1 332.4,86.6 332.5,87.9 332.7,86.3 332.8,90.0 332.9,80.9 333.0,85.0 333.1,79.4 333.2,83.7 333.3,83.0 333.4,79.8 333.5,80.6 333.7,82.6 333.8,83.6 333.9,79.3 334.0,83.5 334.1,76.1 334.2,82.0 334.3,83.2 334.4,85.8 334.6,82.1 334.7,84.1 334.8,89.0 334.9,86.0 335.0,86.9 335.1,84.1 335.2,88.8 335.3,86.8 335.4,81.1 335.6,81.8 335.7,83.8 335.8,85.8 335.9,81.5 336.0,83.5 336.1,84.3 336.2,82.6 336.3,86.2 336.5,83.8 336.6,84.6 336.7,81.7 336.8,81.0 336.9,81.1 337.0,78.1 337.1,80.4 337.2,83.3 337.3,81.1 337.5,83.0 337.6,81.0 337.7,82.4 337.8,81.0 337.9,75.7 338.0,75.4 338.1,74.4 338.2,74.4 338.4,77.3 338.5,76.7 338.6,79.0 338.7,75.1 338.8,75.2 338.9,78.6 339.0,84.7 339.1,90.4 339.2,86.0 339.4,82.4 339.5,84.1 339.6,86.1 339.7,82.4 339.8,85.2 339.9,89.3 340.0,86.6 340.1,88.0 340.3,83.5 340.4,82.2 340.5,88.1 340.6,81.0 340.7,85.0 340.8,88.2 340.9,86.3 341.0,87.3 341.2,81.1 341.3,81.6 341.4,78.3 341.5,82.6 341.6,81.8 341.7,84.3 341.8,81.5 341.9,82.3 342.0,82.6 342.2,77.6 342.3,79.6 342.4,83.7 342.5,81.8 342.6,84.3 342.7,82.9 342.8,82.5 342.9,78.8 343.1,80.8 343.2,84.9 343.3,82.6 343.4,78.6 343.5,81.1 343.6,80.6 343.7,81.1 343.8,83.1 343.9,85.4 344.1,87.1 344.2,83.3 344.3,88.2 344.4,86.7 344.5,80.3 344.6,86.4 344.7,83.4 344.8,86.5 345.0,83.9 345.1,82.7 345.2,86.4 345.3,83.0 345.4,83.4 345.5,82.3 345.6,77.8 345.7,84.3 345.8,86.9 346.0,85.9 346.1,84.0 346.2,79.9 346.3,90.1 346.4,90.6 346.5,82.5 346.6,83.1 346.7,79.4 346.9,79.6 347.0,77.7 347.1,85.4 347.2,80.5 347.3,79.1 347.4,86.9 347.5,87.4 347.6,89.2 347.7,82.1 347.9,84.5 348.0,89.5 348.1,87.9 348.2,84.8 348.3,84.0 348.4,82.6 348.5,81.9 348.6,89.0 348.8,90.7 348.9,84.8 349.0,87.2 349.1,86.5 349.2,82.9 349.3,88.2 349.4,85.7 349.5,83.8 349.6,86.0 349.8,83.7 349.9,84.2 350.0,85.2 350.1,83.3 350.2,85.6 350.3,88.8 350.4,83.7 350.5,88.5 350.7,85.9 350.8,82.6 350.9,87.5 351.0,80.7 351.1,82.1 351.2,81.4 351.3,87.2 351.4,83.7 351.6,84.0 351.7,81.9 351.8,85.8 351.9,89.6 352.0,88.4 352.1,89.7 352.2,90.0 352.3,86.6 352.4,92.4 352.6,87.4 352.7,83.2 352.8,83.3 352.9,90.3 353.0,86.9 353.1,85.8 353.2,85.7 353.3,86.0 353.5,87.8 353.6,90.0 353.7,86.9 353.8,87.1 353.9,86.0 354.0,83.9 354.1,91.4 354.2,88.9 354.3,80.1 354.5,81.6 354.6,81.9 354.7,87.6 354.8,89.5 354.9,86.9 355.0,85.0 355.1,88.7 355.2,85.7 355.4,88.8 355.5,88.9 355.6,87.7 355.7,85.6 355.8,86.1 355.9,90.4 356.0,89.8 356.1,90.3 356.2,88.4 356.4,91.8 356.5,86.0 356.6,93.9 356.7,92.1 356.8,95.6 356.9,84.7 357.0,89.6 357.1,95.5 357.3,91.1 357.4,88.8 357.5,90.5 357.6,90.1 357.7,90.0 357.8,84.3 357.9,88.8 358.0,88.3 358.1,92.6 358.3,90.5 358.4,86.2 358.5,88.9 358.6,87.4 358.7,83.0 358.8,85.0 358.9,85.0 359.0,86.3 359.2,79.8 359.3,89.4 359.4,87.3 359.5,88.6 359.6,89.0 359.7,87.3 359.8,86.5 359.9,84.8 360.1,87.0 360.2,89.5 360.3,90.0 360.4,85.5 360.5,89.2 360.6,88.5 360.7,88.1 360.8,88.9 360.9,83.1 361.1,87.8 361.2,83.4 361.3,87.3 361.4,90.2 361.5,82.9 361.6,82.2 361.7,84.9 361.8,85.5 362.0,85.6 362.1,87.1 362.2,88.7 362.3,88.4 362.4,84.9 362.5,87.4 362.6,95.0 362.7,93.3 362.8,94.9 363.0,97.1 363.1,95.7 363.2,92.0 363.3,93.6 363.4,90.2 363.5,89.2 363.6,85.7 363.7,91.4 363.9,86.1 364.0,84.1 364.1,90.7 364.2,89.0 364.3,93.4 364.4,94.7 364.5,85.2 364.6,89.5 364.7,94.9 364.9,89.4 365.0,91.8 365.1,91.8 365.2,89.1 365.3,95.4 365.4,86.2 365.5,88.8 365.6,87.4 365.8,81.9 365.9,86.0 366.0,86.7 366.1,86.8 366.2,87.2 366.3,88.2 366.4,92.6 366.5,94.7 366.6,93.0 366.8,92.7 366.9,91.1 367.0,93.6 367.1,95.3 367.2,94.0 367.3,88.2 367.4,92.9 367.5,88.9 367.7,89.5 367.8,86.9 367.9,84.4 368.0,92.0 368.1,91.1 368.2,94.9 368.3,93.4 368.4,89.1 368.6,91.7 368.7,95.5 368.8,86.9 368.9,94.9 369.0,92.5 369.1,89.2 369.2,86.4 369.3,86.3 369.4,86.3 369.6,93.0 369.7,93.8 369.8,98.1 369.9,97.8 370.0,95.1 370.1,96.2 370.2,94.0 370.3,85.8 370.5,91.1 370.6,94.6 370.7,93.6 370.8,98.0 370.9,96.2 371.0,91.5 371.1,95.5 371.2,95.6 371.3,94.1 371.5,94.8 371.6,94.2 371.7,93.4 371.8,96.1 371.9,101.2 372.0,95.9 372.1,93.1 372.2,94.7 372.4,98.3 372.5,89.3 372.6,98.8 372.7,100.2 372.8,97.7 372.9,94.7 373.0,94.9 373.1,97.3 373.2,94.3 373.4,94.0 373.5,95.8 373.6,95.2 373.7,94.2 373.8,95.6 373.9,92.7 374.0,94.2 374.1,94.4 374.3,91.3 374.4,90.9 374.5,94.4 374.6,93.7 374.7,95.6 374.8,88.5 374.9,92.5 375.0,87.1 375.1,90.8 375.3,90.1 375.4,92.9 375.5,91.6 375.6,91.2 375.7,90.3 375.8,90.9 375.9,92.4 376.0,91.3 376.2,92.8 376.3,91.5 376.4,90.7 376.5,96.9 376.6,90.4 376.7,96.3 376.8,92.0 376.9,97.0 377.0,95.9 377.2,95.1 377.3,95.9 377.4,94.7 377.5,96.1 377.6,95.7 377.7,99.1 377.8,95.5 377.9,97.8 378.1,101.8 378.2,99.3 378.3,97.8 378.4,97.1 378.5,97.4 378.6,98.1 378.7,96.8 378.8,96.1 379.0,98.9 379.1,93.0 379.2,94.3 379.3,93.8 379.4,92.5 379.5,93.8 379.6,95.1 379.7,96.5 379.8,96.5 380.0,95.1 380.1,93.2 380.2,90.9 380.3,92.1 380.4,90.1 380.5,89.7 380.6,91.9 380.7,96.6 380.9,92.9 381.0,92.3 381.1,88.3 381.2,90.9 381.3,92.7 381.4,89.0 381.5,93.8 381.6,89.7 381.7,93.8 381.9,93.6 382.0,91.8 382.1,90.1 382.2,93.5 382.3,91.4 382.4,96.8 382.5,92.9 382.6,93.6 382.8,92.4 382.9,92.1 383.0,98.2 383.1,96.2 383.2,99.3 383.3,100.8 383.4,96.8 383.5,99.8 383.6,99.9 383.8,99.6 383.9,98.0 384.0,98.7 384.1,104.5 384.2,99.9 384.3,99.1 384.4,99.2 384.5,100.2 384.7,100.4 384.8,100.6 384.9,95.5 385.0,98.9 385.1,96.1 385.2,98.9 385.3,96.3 385.4,92.4 385.5,92.5 385.7,94.0 385.8,94.6 385.9,96.7 386.0,94.5 386.1,95.9 386.2,91.6 386.3,93.7 386.4,93.3 386.6,99.4 386.7,96.1 386.8,99.1 386.9,97.3 387.0,95.1 387.1,98.0 387.2,97.8 387.3,97.2 387.5,101.8 387.6,96.7 387.7,93.9 387.8,93.7 387.9,94.6 388.0,98.5 388.1,95.8 388.2,89.2 388.3,93.3 388.5,92.4 388.6,94.8 388.7,92.8 388.8,88.7 388.9,91.9 389.0,94.3 389.1,92.0 389.2,86.4 389.4,94.5 389.5,93.5 389.6,89.4 389.7,88.8 389.8,88.4 389.9,93.3 390.0,94.2 390.1,92.3 390.2,91.0 390.4,91.4 390.5,86.1 390.6,92.5 390.7,92.3 390.8,94.3 390.9,93.6 391.0,96.5 391.1,97.5 391.3,97.5 391.4,98.1 391.5,97.5 391.6,98.3 391.7,97.6 391.8,97.1 391.9,100.3 392.0,99.7 392.1,91.5 392.3,90.8 392.4,97.5 392.5,98.9 392.6,96.6 392.7,93.1 392.8,92.4 392.9,92.0 393.0,92.6 393.2,94.3 393.3,87.2 393.4,89.1 393.5,85.3 393.6,88.6 393.7,80.6 393.8,88.0 393.9,90.8 394.0,92.9 394.2,92.5 394.3,91.9 394.4,95.3 394.5,94.3 394.6,94.4 394.7,91.0 394.8,91.9 394.9,88.6 395.1,88.8 395.2,87.6 395.3,90.6 395.4,88.8 395.5,85.9 395.6,89.3 395.7,88.0 395.8,87.5 396.0,89.0 396.1,93.2 396.2,95.0 396.3,93.7 396.4,94.8 396.5,92.7 396.6,91.7 396.7,87.4 396.8,89.6 397.0,93.2 397.1,91.1 397.2,90.6 397.3,87.8 397.4,92.5 397.5,95.2 397.6,86.3 397.7,92.6 397.9,93.7 398.0,94.6 398.1,92.4 398.2,88.7 398.3,91.3 398.4,88.7 398.5,87.0 398.6,87.5 398.7,85.7 398.9,84.4 399.0,81.5 399.1,84.2 399.2,85.4 399.3,82.1 399.4,86.3 399.5,86.2 399.6,85.4 399.8,85.7 399.9,81.3 400.0,82.7 400.1,83.0 400.2,84.3 400.3,82.8 400.4,85.2 400.5,87.9 400.6,84.7 400.8,84.6 400.9,87.4 401.0,91.2 401.1,83.9 401.2,88.5 401.3,85.7 401.4,89.6 401.5,85.1 401.7,87.1 401.8,84.5 401.9,82.0 402.0,86.3 402.1,85.8 402.2,89.2 402.3,85.8 402.4,87.2 402.5,84.1 402.7,84.8 402.8,83.7 402.9,86.2 403.0,92.2 403.1,85.0 403.2,83.3 403.3,80.5 403.4,82.2 403.6,83.3 403.7,87.0 403.8,86.9 403.9,87.9 404.0,89.6 404.1,90.9 404.2,87.6 404.3,89.6 404.4,88.2 404.6,83.8 404.7,87.0 404.8,86.7 404.9,87.5 405.0,86.6 405.1,87.3 405.2,88.8 405.3,89.0 405.5,83.0 405.6,90.8 405.7,86.3 405.8,85.9 405.9,89.1 406.0,87.8 406.1,87.1 406.2,89.6 406.4,88.6 406.5,88.8 406.6,92.2 406.7,88.7 406.8,89.8 406.9,92.7 407.0,88.2 407.1,88.4 407.2,87.1 407.4,86.7 407.5,84.4 407.6,84.8 407.7,79.6 407.8,90.9 407.9,85.8 408.0,85.8 408.1,89.5 408.3,91.0 408.4,90.4 408.5,88.7 408.6,84.0 408.7,90.6 408.8,93.6 408.9,87.6 409.0,86.7 409.1,89.2 409.3,86.1 409.4,81.7 409.5,84.8 409.6,85.6 409.7,90.3 409.8,88.9 409.9,84.3 410.0,86.7 410.2,89.8 410.3,96.7 410.4,88.5 410.5,85.2 410.6,89.4 410.7,88.9 410.8,84.8 410.9,84.1 411.0,86.2 411.2,88.1 411.3,90.0 411.4,89.6 411.5,89.9 411.6,89.9 411.7,91.6 411.8,89.9 411.9,86.2 412.1,85.6 412.2,81.1 412.3,83.0 412.4,80.9 412.5,86.4 412.6,78.8 412.7,83.7 412.8,85.6 412.9,83.6 413.1,82.9 413.2,85.6 413.3,84.9 413.4,80.8 413.5,83.2 413.6,85.8 413.7,83.2 413.8,84.8 414.0,87.0 414.1,83.8 414.2,83.0 414.3,80.6 414.4,85.0 414.5,86.0 414.6,85.0 414.7,85.5 414.9,84.0 415.0,84.2 415.1,89.9 415.2,89.9 415.3,85.9 415.4,84.6 415.5,90.5 415.6,89.5 415.7,87.4 415.9,87.5 416.0,88.5 416.1,89.7 416.2,92.0 416.3,90.3 416.4,88.0 416.5,87.6 416.6,82.9 416.8,83.5 416.9,84.2 417.0,88.4 417.1,85.3 417.2,83.2 417.3,86.9 417.4,88.3 417.5,88.2 417.6,91.5 417.8,91.2 417.9,94.4 418.0,91.6 418.1,88.1 418.2,86.4 418.3,88.5 418.4,87.6 418.5,93.7 418.7,93.1 418.8,92.4 418.9,89.1 419.0,84.0 419.1,89.1 419.2,85.2 419.3,87.0 419.4,87.3 419.5,95.3 419.7,90.1 419.8,88.8 419.9,84.4 420.0,89.1 420.1,88.1 420.2,92.1 420.3,92.1 420.4,96.0 420.6,87.1 420.7,90.4 420.8,88.6 420.9,88.1 421.0,86.7 421.1,91.2 421.2,88.4 421.3,92.9 421.4,91.7 421.6,88.1 421.7,86.6 421.8,93.2 421.9,92.5 422.0,90.3 422.1,90.4 422.2,93.0 422.3,92.8 422.5,91.2 422.6,90.2 422.7,93.2 422.8,92.6 422.9,94.0 423.0,88.3 423.1,93.0 423.2,95.2 423.4,92.7 423.5,88.6 423.6,91.7 423.7,89.0 423.8,93.3 423.9,91.1 424.0,89.7 424.1,91.9 424.2,89.5 424.4,89.1 424.5,89.8 424.6,86.8 424.7,87.9 424.8,85.0 424.9,84.7 425.0,82.9 425.1,85.3 425.3,82.2 425.4,81.7 425.5,81.8 425.6,83.7 425.7,90.2 425.8,89.2 425.9,89.4 426.0,92.3 426.1,89.2 426.3,90.5 426.4,85.9 426.5,87.5 426.6,87.8 426.7,90.0 426.8,92.9 426.9,87.8 427.0,87.0 427.2,93.1 427.3,85.7 427.4,88.7 427.5,81.9 427.6,84.9 427.7,88.7 427.8,87.0 427.9,88.2 428.0,87.8 428.2,89.1 428.3,88.9 428.4,89.4 428.5,87.6 428.6,88.0 428.7,93.8 428.8,90.8 428.9,89.2 429.1,93.2 429.2,88.4 429.3,87.3 429.4,84.1 429.5,85.0 429.6,81.1 429.7,89.6 429.8,85.4 429.9,82.8 430.1,92.3 430.2,90.3 430.3,93.4 430.4,90.5 430.5,89.2 430.6,93.7 430.7,90.0 430.8,92.3 431.0,91.6 431.1,89.4 431.2,92.2 431.3,91.5 431.4,86.1 431.5,91.0 431.6,87.0 431.7,82.2 431.8,87.1 432.0,83.4 432.1,88.2 432.2,89.3 432.3,90.3 432.4,90.6 432.5,88.8 432.6,92.8 432.7,90.2 432.9,89.6 433.0,89.7 433.1,86.2 433.2,86.7 433.3,87.0 433.4,85.0 433.5,93.1 433.6,89.7 433.8,89.5 433.9,91.0 434.0,85.3 434.1,90.9 434.2,86.6 434.3,88.4 434.4,89.5 434.5,90.7 434.6,93.1 434.8,92.2 434.9,90.4 435.0,88.8 435.1,91.7 435.2,89.7 435.3,85.9 435.4,86.3 435.5,86.4 435.7,93.7 435.8,87.6 435.9,83.9 436.0,90.2 436.1,89.1 436.2,88.1 436.3,87.5 436.4,81.8 436.5,87.5 436.7,85.2 436.8,88.5 436.9,92.2 437.0,94.4 437.1,92.6 437.2,94.0 437.3,89.0 437.4,83.1 437.6,87.3 437.7,89.3 437.8,86.2 437.9,87.9 438.0,87.9 438.1,93.9 438.2,89.2 438.3,90.9 438.4,94.0 438.6,90.2 438.7,85.6 438.8,88.7 438.9,93.5 439.0,92.2 439.1,93.2 439.2,87.7 439.3,88.6 439.5,87.1 439.6,89.2 439.7,90.8 439.8,87.9 439.9,90.3 440.0,93.4 440.1,93.0 440.2,89.3 440.3,89.1 440.5,90.7 440.6,85.9 440.7,87.4 440.8,86.8 440.9,87.5 441.0,85.1 441.1,91.3 441.2,87.1 441.4,90.1 441.5,91.6 441.6,93.7 441.7,93.6 441.8,91.6 441.9,88.6 442.0,86.8 442.1,95.4 442.3,88.2 442.4,94.0 442.5,88.3 442.6,86.2 442.7,88.7 442.8,84.5 442.9,85.2 443.0,87.2 443.1,87.9 443.3,90.3 443.4,88.9 443.5,88.3 443.6,87.7 443.7,89.2 443.8,86.3 443.9,82.0 444.0,88.4 444.2,89.0 444.3,83.9 444.4,91.6 444.5,93.3 444.6,92.2 444.7,88.5 444.8,92.4 444.9,88.6 445.0,86.0 445.2,84.8 445.3,84.9 445.4,89.0 445.5,89.5 445.6,87.1 445.7,83.7 445.8,84.6 445.9,83.4 446.1,87.8 446.2,90.0 446.3,90.9 446.4,91.3 446.5,88.4 446.6,82.3 446.7,81.8 446.8,84.9 446.9,89.0 447.1,83.0 447.2,83.6 447.3,87.5 447.4,91.3 447.5,89.4 447.6,85.3 447.7,79.1 447.8,81.1 448.0,83.5 448.1,82.2 448.2,83.2 448.3,81.4 448.4,79.1 448.5,82.3 448.6,83.5 448.7,85.0 448.8,87.8 449.0,89.9 449.1,87.0 449.2,89.4 449.3,89.4 449.4,84.4 449.5,89.5 449.6,88.8 449.7,87.0 449.9,86.0 450.0,82.9 450.1,84.5 450.2,80.9 450.3,83.4 450.4,83.6 450.5,87.0 450.6,93.3 450.8,92.8 450.9,85.7 451.0,87.5 451.1,87.2 451.2,90.0 451.3,89.3 451.4,85.7 451.5,88.9 451.6,85.2 451.8,91.3 451.9,85.8 452.0,78.6 452.1,80.7 452.2,82.7 452.3,88.0 452.4,82.5 452.5,91.0 452.7,86.9 452.8,86.4 452.9,86.5 453.0,88.5 453.1,79.6 453.2,83.2 453.3,79.6 453.4,83.7 453.5,80.3 453.7,84.0 453.8,83.3 453.9,83.1 454.0,81.7 454.1,81.9 454.2,80.5 454.3,84.1 454.4,79.6 454.6,80.3 454.7,83.0 454.8,82.1 454.9,83.0 455.0,84.4"/>
</g>
<g font-family="'Liberation Sans', sans-serif" font-weight="bold" font-size="8" fill="#000" stroke="#000" stroke-width="0.38">
<text x="40.8" y="205.0" text-anchor="end" textLength="12.6" lengthAdjust="spacingAndGlyphs">0.0</text>
<text x="40.8" y="172.3" text-anchor="end" textLength="12.6" lengthAdjust="spacingAndGlyphs">0.5</text>
<text x="40.8" y="139.7" text-anchor="end" textLength="12.6" lengthAdjust="spacingAndGlyphs">1.0</text>
<text x="40.8" y="107.0" text-anchor="end" textLength="12.6" lengthAdjust="spacingAndGlyphs">1.5</text>
<text x="40.8" y="74.3" text-anchor="end" textLength="12.6" lengthAdjust="spacingAndGlyphs">2.0</text>
<text x="40.8" y="41.7" text-anchor="end" textLength="12.6" lengthAdjust="spacingAndGlyphs">2.5</text>
<text x="40.8" y="8.0" text-anchor="end" textLength="12.6" lengthAdjust="spacingAndGlyphs">3.0</text>
<text x="52.5" y="216.7" text-anchor="middle" textLength="5" lengthAdjust="spacingAndGlyphs">0</text>
<text x="133.0" y="216.7" text-anchor="middle" textLength="19.5" lengthAdjust="spacingAndGlyphs">2000</text>
<text x="213.5" y="216.7" text-anchor="middle" textLength="19.5" lengthAdjust="spacingAndGlyphs">4000</text>
<text x="294.0" y="216.7" text-anchor="middle" textLength="19.5" lengthAdjust="spacingAndGlyphs">6000</text>
<text x="374.5" y="216.7" text-anchor="middle" textLength="19.5" lengthAdjust="spacingAndGlyphs">8000</text>
<text x="455.0" y="216.7" text-anchor="middle" textLength="24" lengthAdjust="spacingAndGlyphs">10000</text>
</g>
<g font-family="'Liberation Sans', sans-serif" font-weight="bold" fill="#000" stroke="#000" stroke-width="0.5">
<text x="251.5" y="228.4" font-size="9.3" text-anchor="middle" textLength="43" lengthAdjust="spacingAndGlyphs">Time(ps)</text>
<text transform="translate(21.6,113) rotate(-90)" font-size="9" text-anchor="middle" textLength="83" lengthAdjust="spacingAndGlyphs">RMSD(angstrom)</text>
</g>
<g font-family="'Liberation Sans', sans-serif" font-weight="bold" font-size="8" fill="#000" stroke="#000" stroke-width="0.35">
<path d="M306.5,11.5H327.5" stroke="#22c060" stroke-width="1" fill="none"/>
<text x="330.5" y="14.3" textLength="94" lengthAdjust="spacingAndGlyphs">CYP3A4r normal binding</text>
<path d="M306.5,23.5H327.5" stroke="#ff8a8a" stroke-width="1" fill="none"/>
<text x="330.5" y="26.2" textLength="118" lengthAdjust="spacingAndGlyphs">CYP3A4r cooperative binding</text>
<path d="M306.5,34.5H327.5" stroke="#7070e8" stroke-width="1" fill="none"/>
<text x="330.5" y="37.7" textLength="98" lengthAdjust="spacingAndGlyphs">CYP3A4w normal binding</text>
<path d="M306.5,46.5H327.5" stroke="#ffc040" stroke-width="1" fill="none"/>
<text x="330.5" y="49.2" textLength="122" lengthAdjust="spacingAndGlyphs">CYP3A4w cooperative binding</text>
</g>
<g font-family="'Liberation Serif', serif" font-weight="bold" fill="#000">
<text x="2" y="15.5" font-size="13">A</text>
<text x="40.3" y="265.2" font-size="16">B</text>
<text x="216.3" y="265.6" font-size="16">C</text>
</g>
<g fill="none" stroke="#ff1e1e" stroke-width="0.98" stroke-linecap="butt">
<path d="M88.7,269.7 L89.4,269.6 L90.1,269.5 L90.8,269.3 L91.4,269.1 L92.1,268.9 L92.7,268.6 L93.3,268.2 L93.9,267.9 L94.5,267.4 L95.0,267.0 L95.5,266.5 L96.0,266.0 L96.4,265.4 L96.8,264.9 L97.1,264.3 L97.5,263.6 L97.7,263.0 L97.9,262.3 L98.1,261.7 L98.3,261.0 L98.4,260.3 L98.4,259.6 L98.4,258.9 L98.3,258.2 M88.7,269.7L89.0,274.0 M90.8,269.3L91.9,273.5 M92.7,268.6L94.6,272.4 M94.5,267.4L97.1,270.8 M96.0,266.0L99.3,268.8 M97.1,264.3L100.9,266.3 M97.9,262.3L102.1,263.6 M98.4,260.3L102.6,260.7 M98.3,258.2L102.6,257.7"/>
<path d="M123.6,253.9 L124.1,254.6 L124.7,255.2 L125.3,255.8 L126.0,256.3 L126.7,256.7 L127.4,257.1 L128.2,257.5 L129.0,257.8 L129.8,258.0 L130.7,258.1 L131.5,258.2 L132.3,258.2 L133.2,258.1 L134.0,258.0 L134.8,257.8 L135.6,257.5 L136.4,257.2 L137.1,256.8 L137.9,256.4 L138.5,255.9 L139.2,255.3 L139.8,254.7 L140.3,254.1 L140.8,253.4 M123.6,253.9L120.1,256.5 M125.1,255.6L122.3,258.8 M126.9,256.9L124.9,260.6 M129.0,257.8L127.8,261.9 M131.2,258.2L130.9,262.5 M133.5,258.1L134.1,262.4 M135.6,257.5L137.1,261.6 M137.6,256.5L140.0,260.2 M139.4,255.1L142.4,258.2 M140.8,253.4L144.4,255.7"/>
<path d="M156.1,274.2 L155.4,274.7 L154.7,275.2 L154.0,275.8 L153.4,276.5 L152.8,277.2 L152.3,277.9 L151.9,278.7 L151.6,279.5 L151.3,280.4 L151.1,281.3 L151.0,282.1 L150.9,283.0 L150.9,283.9 L151.0,284.8 L151.2,285.7 L151.5,286.6 L151.8,287.4 L152.2,288.2 L152.6,289.0 L153.2,289.7 L153.8,290.4 L154.4,291.0 L155.1,291.5 L155.8,292.0 M156.1,274.2L154.0,270.5 M154.4,275.4L151.5,272.2 M152.9,277.0L149.5,274.5 M151.8,278.9L147.9,277.1 M151.2,280.9L147.0,280.0 M150.9,283.0L146.6,283.0 M151.1,285.2L146.9,286.0 M151.7,287.2L147.7,288.9 M152.7,289.1L149.2,291.6 M154.1,290.7L151.2,293.9 M155.8,292.0L153.6,295.7"/>
<path d="M161.7,314.0 L160.5,314.3 L159.3,314.7 L158.2,315.3 L157.2,315.9 L156.3,316.7 L155.4,317.6 L154.7,318.6 L154.1,319.7 L153.6,320.8 L153.3,322.0 L153.1,323.2 L153.0,324.4 L153.1,325.7 L153.3,326.9 L153.7,328.0 L154.2,329.2 L154.8,330.2 L155.6,331.2 L156.5,332.1 L157.4,332.8 L158.5,333.5 L159.6,334.0 L160.8,334.4 L162.0,334.6 M161.7,314.0L161.0,309.8 M159.5,314.7L157.9,310.7 M157.5,315.7L155.1,312.2 M155.8,317.2L152.6,314.3 M154.4,319.0L150.7,316.8 M153.5,321.1L149.4,319.8 M153.0,323.3L148.8,322.9 M153.1,325.6L148.8,326.1 M153.6,327.8L149.5,329.2 M154.6,329.8L150.9,332.1 M156.0,331.6L152.9,334.6 M157.7,333.0L155.4,336.6 M159.8,334.0L158.3,338.1 M162.0,334.6L161.4,338.9"/>
<path d="M83.2,330.6 L84.6,330.3 L86.0,330.2 L87.4,330.3 L88.7,330.6 L90.1,331.1 L91.3,331.7 L92.4,332.5 L93.5,333.5 L94.4,334.5 L95.1,335.7 L95.7,337.0 L96.1,338.3 L96.3,339.7 L96.3,341.1 L96.1,342.5 L95.8,343.9 L95.2,345.2 L94.5,346.4 L93.7,347.5 L92.7,348.5 L91.6,349.3 L90.4,350.0 L89.1,350.5 L87.7,350.8 M83.2,330.6L82.1,326.4 M85.4,330.2L85.2,325.9 M87.6,330.3L88.4,326.1 M89.8,331.0L91.4,327.0 M91.8,332.0L94.2,328.5 M93.5,333.5L96.6,330.5 M94.8,335.2L98.5,333.0 M95.8,337.3L99.8,335.9 M96.2,339.5L100.5,339.0 M96.2,341.7L100.5,342.1 M95.8,343.9L99.9,345.2 M94.8,345.9L98.5,348.1 M93.5,347.7L96.7,350.6 M91.8,349.2L94.3,352.7 M89.9,350.2L91.5,354.2 M87.7,350.8L88.5,355.1"/>
<path d="M157.5,354.9 L156.5,355.5 L155.6,356.2 L154.7,357.1 L154.0,358.0 L153.4,359.1 L152.8,360.1 L152.5,361.3 L152.2,362.5 L152.1,363.7 L152.1,364.9 L152.3,366.1 L152.6,367.2 L153.0,368.3 L153.6,369.4 L154.3,370.4 L155.1,371.3 L156.0,372.1 L157.0,372.8 L158.0,373.4 L159.1,373.8 L160.3,374.2 L161.5,374.3 L162.7,374.4 L163.9,374.3 M157.5,354.9L155.5,351.1 M155.7,356.1L152.9,352.9 M154.2,357.7L150.8,355.1 M153.1,359.6L149.2,357.8 M152.3,361.7L148.2,360.8 M152.1,363.9L147.8,363.9 M152.3,366.1L148.1,367.0 M153.0,368.3L149.1,370.0 M154.1,370.2L150.7,372.7 M155.6,371.8L152.8,375.0 M157.4,373.1L155.3,376.8 M159.5,374.0L158.2,378.1 M161.7,374.4L161.3,378.7 M163.9,374.3L164.4,378.6"/>
<path d="M186.9,380.9 L186.8,381.7 L186.8,382.5 L186.8,383.3 L186.9,384.0 L187.1,384.8 L187.3,385.6 L187.6,386.3 L188.0,387.1 L188.4,387.8 L188.8,388.4 L189.3,389.1 L189.8,389.6 L190.4,390.2 L191.1,390.7 L191.7,391.1 L192.4,391.5 L193.1,391.9 L193.9,392.2 L194.7,392.4 L195.4,392.5 L196.2,392.7 L197.0,392.7 L197.8,392.7 L198.6,392.6 M186.9,380.9L182.6,380.3 M186.8,383.0L182.5,383.3 M187.2,385.1L183.0,386.2 M188.0,387.1L184.1,389.0 M189.1,388.9L185.8,391.6 M190.6,390.4L187.9,393.7 M192.4,391.5L190.4,395.3 M194.4,392.3L193.2,396.5 M196.5,392.7L196.2,397.0 M198.6,392.6L199.2,396.9"/>
<path d="M53.6,388.9 L54.0,389.7 L54.4,390.6 L54.6,391.5 L54.8,392.5 L54.9,393.4 L54.9,394.4 L54.8,395.3 L54.6,396.2 L54.4,397.2 L54.0,398.0 L53.6,398.9 L53.1,399.7 L52.6,400.5 L51.9,401.2 L51.2,401.8 L50.5,402.4 L49.7,402.9 L48.8,403.4 L47.9,403.7 L47.0,404.0 L46.1,404.2 L45.1,404.3 L44.2,404.3 L43.2,404.2 M53.6,388.9L57.4,386.8 M54.5,391.0L58.6,389.7 M54.9,393.2L59.2,392.9 M54.8,395.5L59.0,396.1 M54.2,397.7L58.2,399.3 M53.1,399.7L56.7,402.1 M51.6,401.5L54.6,404.6 M49.8,402.8L52.0,406.5 M47.7,403.8L49.1,407.9 M45.5,404.3L45.9,408.5 M43.2,404.2L42.7,408.5"/>
<path d="M77.5,401.4 L78.2,402.0 L78.9,402.5 L79.6,403.0 L80.4,403.4 L81.2,403.7 L82.0,403.9 L82.8,404.1 L83.7,404.2 L84.5,404.3 L85.4,404.3 L86.2,404.2 L87.1,404.0 L87.9,403.8 L88.7,403.5 L89.5,403.1 L90.2,402.7 L90.9,402.2 L91.6,401.7 L92.2,401.1 L92.8,400.5 L93.3,399.8 L93.7,399.1 L94.1,398.3 L94.5,397.5 M77.5,401.4L74.6,404.6 M79.4,402.8L77.1,406.5 M81.4,403.8L80.1,407.9 M83.7,404.2L83.2,408.5 M85.9,404.2L86.4,408.5 M88.2,403.7L89.6,407.8 M90.2,402.7L92.5,406.4 M92.0,401.3L95.0,404.4 M93.4,399.5L97.1,401.9 M94.5,397.5L98.5,399.0"/>
<path d="M184.3,419.9 L183.4,420.1 L182.5,420.3 L181.6,420.6 L180.7,421.1 L179.9,421.6 L179.1,422.1 L178.4,422.8 L177.8,423.5 L177.2,424.2 L176.7,425.0 L176.2,425.9 L175.9,426.8 L175.6,427.7 L175.4,428.6 L175.3,429.6 L175.3,430.5 L175.4,431.5 L175.5,432.4 L175.8,433.4 L176.1,434.3 L176.5,435.1 L177.0,435.9 L177.6,436.7 L178.2,437.4 M184.3,419.9L183.8,415.6 M182.1,420.4L180.6,416.4 M180.1,421.5L177.7,417.8 M178.3,422.9L175.2,419.9 M176.9,424.7L173.2,422.4 M175.9,426.8L171.8,425.4 M175.4,429.0L171.1,428.5 M175.4,431.3L171.1,431.8 M175.8,433.5L171.8,434.9 M176.8,435.6L173.1,437.9 M178.2,437.4L175.1,440.4"/>
<path d="M223.0,414.5 L222.2,414.6 L221.3,414.7 L220.6,415.0 L219.8,415.2 L219.0,415.6 L218.3,415.9 L217.6,416.4 L217.0,416.9 L216.4,417.4 L215.8,418.0 L215.3,418.7 L214.8,419.3 L214.4,420.1 L214.0,420.8 L213.7,421.6 L213.5,422.4 L213.3,423.2 L213.2,424.0 L213.2,424.8 L213.2,425.6 L213.3,426.4 L213.5,427.2 L213.7,428.0 L214.0,428.8 M223.0,414.5L222.7,410.2 M220.8,414.9L219.7,410.7 M218.8,415.7L216.8,411.9 M217.0,416.9L214.2,413.6 M215.4,418.5L212.1,415.8 M214.3,420.3L210.4,418.4 M213.5,422.4L209.3,421.3 M213.2,424.5L208.9,424.4 M213.4,426.7L209.1,427.4 M214.0,428.8L210.0,430.4"/>
<path d="M65.4,433.4 L66.5,433.5 L67.5,433.7 L68.5,434.0 L69.4,434.4 L70.3,434.9 L71.2,435.5 L72.0,436.1 L72.7,436.8 L73.4,437.6 L74.0,438.5 L74.4,439.4 L74.8,440.4 L75.1,441.4 L75.3,442.4 L75.4,443.4 L75.4,444.5 L75.3,445.5 L75.0,446.5 L74.7,447.5 L74.3,448.4 L73.8,449.3 L73.2,450.2 L72.5,451.0 L71.8,451.7 M65.4,433.4L65.6,429.1 M67.7,433.7L68.8,429.6 M69.8,434.6L71.7,430.7 M71.6,435.8L74.4,432.5 M73.2,437.4L76.6,434.8 M74.4,439.3L78.3,437.5 M75.1,441.5L79.3,440.5 M75.4,443.7L79.7,443.7 M75.2,446.0L79.4,446.8 M74.5,448.1L78.4,449.9 M73.3,450.0L76.8,452.6 M71.8,451.7L74.6,454.9"/>
<path d="M134.2,446.0 L134.6,445.2 L135.0,444.5 L135.6,443.8 L136.1,443.2 L136.7,442.6 L137.4,442.0 L138.1,441.6 L138.9,441.1 L139.7,440.8 L140.5,440.5 L141.3,440.3 L142.1,440.1 L143.0,440.0 L143.9,440.0 L144.7,440.1 L145.6,440.2 L146.4,440.4 L147.2,440.6 L148.0,441.0 L148.8,441.4 L149.5,441.8 L150.2,442.3 L150.8,442.9 L151.4,443.5 M134.2,446.0L130.3,444.2 M135.4,444.0L132.0,441.4 M137.0,442.4L134.2,439.1 M138.9,441.1L136.9,437.3 M141.0,440.3L139.9,436.2 M143.3,440.0L143.1,435.7 M145.6,440.2L146.4,436.0 M147.7,440.9L149.5,436.9 M149.7,442.0L152.3,438.5 M151.4,443.5L154.7,440.7"/>
<path d="M92.1,475.4 L92.5,474.6 L93.0,473.8 L93.5,473.1 L94.1,472.5 L94.8,471.8 L95.5,471.3 L96.3,470.8 L97.1,470.4 L97.9,470.0 L98.8,469.8 L99.7,469.6 L100.6,469.4 L101.5,469.4 L102.4,469.4 L103.3,469.6 L104.2,469.8 L105.1,470.0 L105.9,470.4 L106.7,470.8 L107.5,471.3 L108.2,471.9 L108.9,472.5 L109.5,473.2 L110.0,473.9 M92.1,475.4L88.2,473.6 M93.2,473.6L89.7,471.0 M94.7,472.0L91.8,468.7 M96.5,470.7L94.4,466.9 M98.5,469.9L97.2,465.7 M100.6,469.4L100.2,465.2 M102.8,469.5L103.3,465.2 M104.9,470.0L106.3,465.9 M106.9,470.9L109.1,467.2 M108.6,472.2L111.6,469.1 M110.0,473.9L113.6,471.4"/>
<path d="M194.6,459.1 L193.8,459.1 L193.1,459.2 L192.3,459.3 L191.6,459.5 L190.9,459.7 L190.2,460.0 L189.5,460.3 L188.9,460.7 L188.2,461.1 L187.6,461.6 L187.1,462.1 L186.6,462.6 L186.1,463.2 L185.7,463.8 L185.3,464.5 L184.9,465.2 L184.7,465.9 L184.4,466.6 L184.2,467.3 L184.1,468.0 L184.0,468.8 L184.0,469.5 L184.0,470.3 L184.1,471.0 M194.6,459.1L194.6,454.8 M192.3,459.3L191.5,455.1 M190.2,460.0L188.4,456.1 M188.2,461.1L185.7,457.7 M186.6,462.6L183.3,459.8 M185.3,464.5L181.5,462.4 M184.4,466.6L180.3,465.4 M184.0,468.8L179.7,468.5 M184.1,471.0L179.9,471.7"/>
<path d="M148.6,483.3 L149.1,482.6 L149.8,481.9 L150.4,481.4 L151.1,480.8 L151.9,480.4 L152.6,480.0 L153.5,479.6 L154.3,479.4 L155.2,479.2 L156.0,479.0 L156.9,479.0 L157.8,479.0 L158.7,479.1 L159.5,479.3 L160.4,479.6 L161.2,479.9 L162.0,480.3 L162.8,480.7 L163.5,481.3 L164.1,481.8 L164.7,482.5 L165.3,483.1 L165.8,483.9 L166.2,484.6 M148.6,483.3L145.1,480.7 M150.0,481.7L147.1,478.5 M151.7,480.4L149.5,476.7 M153.6,479.6L152.2,475.5 M155.7,479.1L155.1,474.8 M157.8,479.0L158.1,474.7 M159.9,479.4L161.1,475.3 M161.8,480.2L163.8,476.4 M163.6,481.4L166.3,478.0 M165.1,482.9L168.4,480.2 M166.2,484.6L170.1,482.7"/>
<path stroke-width="1.02" d="M318.1,257.5 L318.9,258.2 L319.7,258.8 L320.5,259.4 L321.4,259.9 L322.4,260.3 L323.4,260.6 L324.4,260.8 L325.4,261.0 L326.5,261.0 L327.5,260.9 L328.5,260.8 L329.5,260.5 L330.5,260.2 L331.4,259.8 L332.3,259.2 L333.2,258.6 L334.0,258.0 L334.7,257.2 L335.3,256.4 L335.9,255.6 L336.4,254.7 L336.8,253.7 L337.1,252.7 L337.3,251.7 M318.1,257.5L314.7,260.7 M319.7,258.8L316.9,262.6 M321.4,259.9L319.4,264.1 M323.4,260.6L322.2,265.2 M325.4,261.0L325.1,265.7 M327.5,260.9L328.0,265.6 M329.5,260.5L330.9,265.0 M331.4,259.8L333.6,263.9 M333.2,258.6L336.1,262.4 M334.7,257.2L338.2,260.3 M335.9,255.6L339.9,258.0 M336.8,253.7L341.2,255.3 M337.3,251.7L342.0,252.5"/>
<path stroke-width="1.02" d="M367.6,255.6 L367.5,256.5 L367.4,257.4 L367.4,258.3 L367.5,259.1 L367.6,260.0 L367.9,260.9 L368.1,261.7 L368.5,262.5 L368.9,263.3 L369.4,264.0 L369.9,264.7 L370.5,265.4 L371.1,266.0 L371.8,266.6 L372.5,267.1 L373.3,267.5 L374.1,267.9 L374.9,268.3 L375.7,268.5 L376.6,268.7 L377.4,268.8 L378.3,268.9 L379.2,268.9 L380.1,268.8 M367.6,255.6L363.0,254.8 M367.4,257.7L362.7,257.8 M367.6,259.8L363.0,260.7 M368.2,261.9L363.8,263.6 M369.2,263.7L365.2,266.3 M370.5,265.4L367.1,268.6 M372.1,266.8L369.3,270.6 M373.9,267.9L371.9,272.1 M375.9,268.6L374.7,273.1 M378.0,268.9L377.7,273.6 M380.1,268.8L380.7,273.5"/>
<path stroke-width="1.02" d="M405.7,276.6 L404.6,277.1 L403.7,277.8 L402.8,278.5 L402.0,279.3 L401.3,280.2 L400.6,281.1 L400.1,282.2 L399.7,283.2 L399.4,284.3 L399.2,285.5 L399.1,286.6 L399.1,287.8 L399.3,288.9 L399.6,290.0 L400.0,291.1 L400.4,292.1 L401.0,293.1 L401.7,294.0 L402.5,294.8 L403.4,295.6 L404.3,296.3 L405.3,296.8 L406.4,297.3 L407.5,297.6 M405.7,276.6L403.7,272.3 M403.8,277.7L401.1,273.8 M402.2,279.0L398.8,275.8 M400.9,280.7L397.0,278.1 M399.9,282.6L395.6,280.8 M399.3,284.6L394.7,283.7 M399.1,286.7L394.4,286.7 M399.3,288.8L394.7,289.6 M399.9,290.8L395.5,292.5 M400.8,292.7L396.8,295.2 M402.1,294.4L398.6,297.6 M403.7,295.8L400.9,299.6 M405.5,296.9L403.4,301.1 M407.5,297.6L406.3,302.2"/>
<path stroke-width="1.02" d="M380.2,316.3 L379.3,316.8 L378.6,317.4 L377.8,318.0 L377.2,318.6 L376.5,319.3 L376.0,320.1 L375.5,320.9 L375.1,321.7 L374.7,322.6 L374.4,323.5 L374.3,324.5 L374.1,325.4 L374.1,326.3 L374.1,327.3 L374.3,328.2 L374.5,329.1 L374.7,330.0 L375.1,330.9 L375.5,331.8 L376.0,332.6 L376.6,333.3 L377.2,334.0 L377.9,334.7 L378.6,335.3 M380.2,316.3L378.0,312.2 M378.4,317.5L375.5,313.7 M376.9,318.9L373.4,315.7 M375.7,320.5L371.7,318.1 M374.8,322.4L370.4,320.7 M374.3,324.4L369.6,323.6 M374.1,326.4L369.4,326.5 M374.3,328.5L369.7,329.4 M374.9,330.4L370.5,332.2 M375.8,332.3L371.9,334.8 M377.1,333.9L373.6,337.1 M378.6,335.3L375.8,339.1"/>
<path stroke-width="1.02" d="M423.2,350.8 L423.2,351.8 L423.2,352.7 L423.4,353.6 L423.5,354.5 L423.8,355.4 L424.2,356.3 L424.6,357.2 L425.1,358.0 L425.6,358.7 L426.2,359.4 L426.9,360.1 L427.6,360.7 L428.4,361.2 L429.2,361.7 L430.0,362.1 L430.9,362.4 L431.8,362.7 L432.7,362.9 L433.7,363.0 L434.6,363.0 L435.6,362.9 L436.5,362.8 L437.4,362.6 L438.3,362.3 M423.2,350.8L418.6,350.4 M423.3,353.1L418.6,353.6 M423.8,355.3L419.3,356.7 M424.7,357.3L420.6,359.6 M426.0,359.2L422.4,362.3 M427.6,360.7L424.8,364.4 M429.5,361.9L427.5,366.1 M431.6,362.7L430.5,367.2 M433.9,363.0L433.6,367.7 M436.1,362.9L436.8,367.5 M438.3,362.3L439.9,366.7"/>
<path stroke-width="1.02" d="M379.1,373.5 L379.1,374.7 L379.3,375.9 L379.5,377.1 L380.0,378.3 L380.5,379.4 L381.2,380.5 L381.9,381.4 L382.8,382.3 L383.8,383.1 L384.8,383.8 L385.9,384.3 L387.1,384.7 L388.3,385.0 L389.5,385.2 L390.7,385.2 L392.0,385.1 L393.2,384.8 L394.4,384.4 L395.5,383.9 L396.5,383.3 L397.5,382.5 L398.4,381.7 L399.2,380.8 L399.9,379.7 M379.1,373.5L374.4,373.2 M379.2,375.6L374.6,376.2 M379.7,377.6L375.3,379.2 M380.6,379.6L376.5,381.9 M381.8,381.3L378.2,384.4 M383.3,382.8L380.4,386.4 M385.1,383.9L382.9,388.1 M387.1,384.7L385.7,389.2 M389.1,385.1L388.7,389.8 M391.3,385.2L391.7,389.8 M393.4,384.8L394.6,389.3 M395.3,384.0L397.4,388.2 M397.1,382.9L400.0,386.6 M398.7,381.4L402.2,384.6 M399.9,379.7L404.0,382.1"/>
<path stroke-width="1.02" d="M434.6,384.4 L433.8,385.1 L433.0,385.8 L432.3,386.6 L431.7,387.4 L431.1,388.3 L430.7,389.3 L430.3,390.3 L430.0,391.3 L429.9,392.3 L429.8,393.4 L429.8,394.4 L430.0,395.5 L430.2,396.5 L430.5,397.5 L430.9,398.5 L431.4,399.4 L432.0,400.3 L432.7,401.1 L433.4,401.9 L434.2,402.5 L435.1,403.1 L436.0,403.6 L437.0,404.1 L438.0,404.4 M434.6,384.4L431.9,380.6 M433.0,385.8L429.6,382.5 M431.7,387.4L427.7,384.8 M430.7,389.3L426.3,387.5 M430.0,391.3L425.4,390.3 M429.8,393.4L425.1,393.3 M430.0,395.5L425.3,396.3 M430.5,397.5L426.1,399.2 M431.4,399.4L427.4,401.9 M432.7,401.1L429.2,404.3 M434.2,402.5L431.4,406.3 M436.0,403.6L433.9,407.8 M438.0,404.4L436.7,408.9"/>
<path stroke-width="1.02" d="M260.1,381.7 L261.0,382.1 L261.8,382.7 L262.6,383.2 L263.3,383.9 L264.0,384.6 L264.6,385.4 L265.1,386.2 L265.6,387.0 L266.0,387.9 L266.3,388.8 L266.5,389.8 L266.6,390.7 L266.7,391.7 L266.7,392.7 L266.6,393.6 L266.4,394.6 L266.1,395.5 L265.8,396.4 L265.3,397.3 L264.8,398.1 L264.2,398.9 L263.6,399.6 L262.9,400.3 L262.2,400.9 M260.1,381.7L262.1,377.4 M262.0,382.8L264.7,378.9 M263.6,384.1L267.0,380.9 M264.9,385.8L268.8,383.2 M265.9,387.7L270.2,385.9 M266.5,389.7L271.1,388.8 M266.7,391.8L271.4,391.7 M266.5,393.9L271.1,394.7 M266.0,395.9L270.3,397.6 M265.0,397.8L269.0,400.3 M263.7,399.5L267.2,402.7 M262.2,400.9L265.0,404.7"/>
<path stroke-width="1.02" d="M301.3,369.4 L302.3,369.9 L303.2,370.5 L304.1,371.1 L304.9,371.8 L305.6,372.7 L306.2,373.5 L306.8,374.5 L307.3,375.4 L307.6,376.5 L307.9,377.5 L308.0,378.6 L308.1,379.6 L308.1,380.7 L307.9,381.8 L307.6,382.9 L307.3,383.9 L306.8,384.9 L306.3,385.8 L305.7,386.7 L305.0,387.5 L304.2,388.2 L303.3,388.9 L302.4,389.5 L301.4,389.9 M301.3,369.4L303.2,365.1 M303.2,370.5L305.9,366.6 M304.9,371.8L308.2,368.5 M306.2,373.5L310.2,370.9 M307.3,375.4L311.6,373.6 M307.9,377.5L312.5,376.6 M308.1,379.6L312.8,379.6 M307.9,381.8L312.5,382.7 M307.3,383.9L311.7,385.6 M306.3,385.8L310.2,388.3 M305.0,387.5L308.3,390.7 M303.3,388.9L306.0,392.7 M301.4,389.9L303.3,394.2"/>
<path stroke-width="1.02" d="M296.5,420.0 L297.1,421.0 L297.6,422.1 L298.0,423.2 L298.3,424.3 L298.5,425.4 L298.5,426.6 L298.4,427.7 L298.2,428.9 L297.9,430.0 L297.5,431.1 L296.9,432.1 L296.3,433.1 L295.6,434.0 L294.7,434.8 L293.8,435.5 L292.9,436.1 L291.8,436.6 L290.7,437.1 L289.6,437.4 L288.5,437.5 L287.3,437.6 L286.1,437.5 L285.0,437.4 L283.9,437.1 M296.5,420.0L300.4,417.4 M297.6,421.9L301.9,420.0 M298.2,423.9L302.8,422.9 M298.5,426.0L303.2,425.9 M298.4,428.2L303.0,428.9 M297.8,430.3L302.2,431.9 M296.9,432.2L300.9,434.6 M295.6,433.9L299.1,437.0 M294.0,435.3L296.9,439.1 M292.2,436.5L294.3,440.7 M290.2,437.2L291.4,441.8 M288.1,437.6L288.4,442.3 M286.0,437.5L285.4,442.2 M283.9,437.1L282.4,441.5"/>
<path stroke-width="1.02" d="M261.1,454.7 L261.9,454.8 L262.6,455.0 L263.4,455.3 L264.1,455.5 L264.8,455.9 L265.4,456.2 L266.1,456.7 L266.7,457.1 L267.3,457.6 L267.8,458.2 L268.3,458.8 L268.8,459.4 L269.2,460.0 L269.6,460.7 L269.9,461.4 L270.2,462.1 L270.4,462.8 L270.6,463.6 L270.7,464.3 L270.8,465.1 L270.8,465.9 L270.8,466.6 L270.7,467.4 L270.5,468.2 M261.1,454.7L261.8,450.0 M263.1,455.2L264.6,450.7 M265.0,456.0L267.3,451.9 M266.7,457.1L269.7,453.5 M268.1,458.6L271.7,455.5 M269.3,460.2L273.4,457.9 M270.2,462.1L274.6,460.5 M270.7,464.1L275.3,463.4 M270.8,466.1L275.5,466.3 M270.5,468.2L275.1,469.1"/>
<path stroke-width="1.02" d="M298.6,480.4 L299.4,479.7 L300.2,479.1 L301.0,478.5 L302.0,478.1 L302.9,477.7 L303.9,477.4 L304.9,477.2 L305.9,477.1 L307.0,477.1 L308.0,477.2 L309.0,477.4 L310.0,477.7 L311.0,478.0 L311.9,478.5 L312.8,479.0 L313.6,479.6 L314.4,480.3 L315.0,481.1 L315.7,481.9 L316.2,482.7 L316.7,483.7 L317.1,484.6 L317.4,485.6 L317.6,486.6 M298.6,480.4L295.3,477.0 M300.3,479.0L297.7,475.0 M302.3,477.9L300.6,473.6 M304.5,477.3L303.6,472.7 M306.7,477.1L306.8,472.4 M308.9,477.4L309.9,472.8 M311.0,478.1L313.0,473.8 M313.0,479.2L315.7,475.3 M314.7,480.6L318.1,477.4 M316.0,482.4L320.0,480.0 M317.0,484.4L321.4,482.8 M317.6,486.6L322.2,485.9"/>
<path stroke-width="1.02" d="M368.7,447.5 L369.5,447.0 L370.2,446.5 L371.0,446.1 L371.9,445.7 L372.7,445.4 L373.6,445.2 L374.5,445.1 L375.4,445.0 L376.3,445.0 L377.2,445.1 L378.1,445.2 L379.0,445.5 L379.9,445.8 L380.7,446.1 L381.5,446.6 L382.3,447.1 L383.0,447.6 L383.7,448.2 L384.3,448.9 L384.9,449.6 L385.4,450.4 L385.8,451.2 L386.2,452.0 L386.5,452.9 M368.7,447.5L365.8,443.9 M370.5,446.3L368.3,442.2 M372.6,445.5L371.2,441.0 M374.7,445.1L374.2,440.4 M376.9,445.1L377.3,440.4 M379.0,445.5L380.4,441.0 M381.0,446.3L383.3,442.2 M382.9,447.5L385.8,443.9 M384.4,449.1L388.0,446.0 M385.6,450.9L389.8,448.6 M386.5,452.9L391.0,451.5"/>
<path stroke-width="1.02" d="M423.2,443.1 L422.3,443.0 L421.5,443.0 L420.6,443.1 L419.8,443.2 L418.9,443.5 L418.1,443.7 L417.3,444.1 L416.6,444.5 L415.8,444.9 L415.1,445.4 L414.5,446.0 L413.9,446.6 L413.3,447.3 L412.8,448.0 L412.3,448.7 L412.0,449.5 L411.6,450.3 L411.3,451.1 L411.1,451.9 L411.0,452.8 L410.9,453.6 L410.9,454.5 L411.0,455.3 L411.1,456.2 M423.2,443.1L423.7,438.4 M421.1,443.0L420.7,438.4 M419.1,443.4L417.8,438.9 M417.2,444.1L415.1,439.9 M415.4,445.2L412.6,441.5 M413.9,446.6L410.4,443.4 M412.6,448.2L408.6,445.8 M411.7,450.1L407.3,448.4 M411.1,452.1L406.5,451.2 M410.9,454.1L406.2,454.1 M411.1,456.2L406.5,457.0"/>
</g>
<g font-family="'Liberation Serif', serif" fill="#000" text-anchor="middle">
<text transform="translate(88,260.8) scale(0.9,1)" font-size="5.2" font-weight="bold" stroke="#000" stroke-width="0.1">Phe57</text>
<text transform="translate(132,249.3) scale(0.9,1)" font-size="5.2" font-weight="bold" stroke="#000" stroke-width="0.1">Arg106</text>
<text transform="translate(161.3,284.7) scale(0.9,1)" font-size="5.2" font-weight="bold" stroke="#000" stroke-width="0.1">Glu374</text>
<text transform="translate(163.4,325.8) scale(0.9,1)" font-size="5.2" font-weight="bold" stroke="#000" stroke-width="0.1">Phe215</text>
<text transform="translate(86.5,342.4) scale(0.9,1)" font-size="5.2" font-weight="bold" stroke="#000" stroke-width="0.1">Ala370</text>
<text transform="translate(162.5,365.5) scale(0.9,1)" font-size="5.2" font-weight="bold" stroke="#000" stroke-width="0.1">Heme</text>
<text transform="translate(197.2,383.8) scale(0.9,1)" font-size="5.2" font-weight="bold" stroke="#000" stroke-width="0.1">Ile301</text>
<text transform="translate(44.3,395.4) scale(0.9,1)" font-size="5.2" font-weight="bold" stroke="#000" stroke-width="0.1">Leu482</text>
<text transform="translate(84.7,395.4) scale(0.9,1)" font-size="5.2" font-weight="bold" stroke="#000" stroke-width="0.1">Ile369</text>
<text transform="translate(185.7,431.7) scale(0.9,1)" font-size="5.2" font-weight="bold" stroke="#000" stroke-width="0.1">Phe304</text>
<text transform="translate(223.6,426.4) scale(0.9,1)" font-size="5.2" font-weight="bold" stroke="#000" stroke-width="0.1">Phe108</text>
<text transform="translate(65,445.3) scale(0.9,1)" font-size="5.2" font-weight="bold" stroke="#000" stroke-width="0.1">Thr309</text>
<text transform="translate(143.6,451.9) scale(0.9,1)" font-size="5.2" font-weight="bold" stroke="#000" stroke-width="0.1">Phe213</text>
<text transform="translate(101.5,481.3) scale(0.9,1)" font-size="5.2" font-weight="bold" stroke="#000" stroke-width="0.1">Glu308</text>
<text transform="translate(194.4,471.0) scale(0.9,1)" font-size="5.2" font-weight="bold" stroke="#000" stroke-width="0.1">Ala305</text>
<text transform="translate(157,490.9) scale(0.9,1)" font-size="5.2" font-weight="bold" stroke="#000" stroke-width="0.1">Ser119</text>
<text transform="translate(326.3,251.7) scale(0.8,1)" font-size="5.6" font-weight="bold">Phe57</text>
<text transform="translate(378.6,259.6) scale(0.8,1)" font-size="5.6" font-weight="bold">Arg106</text>
<text transform="translate(410.3,288.7) scale(0.8,1)" font-size="5.6" font-weight="bold">Glu335</text>
<text transform="translate(385.3,328.2) scale(0.8,1)" font-size="5.6" font-weight="bold">Phe215</text>
<text transform="translate(434.4,353.7) scale(0.8,1)" font-size="5.6" font-weight="bold">Ile120</text>
<text transform="translate(390.3,375.9) scale(0.8,1)" font-size="5.6" font-weight="bold">Phe304</text>
<text transform="translate(441,395.5) scale(0.8,1)" font-size="5.6" font-weight="bold">Phe108</text>
<text transform="translate(255.5,393.8) scale(0.8,1)" font-size="5.6" font-weight="bold">Heme</text>
<text transform="translate(296.9,381.6) scale(0.8,1)" font-size="5.6" font-weight="bold">Ile369</text>
<text transform="translate(287.3,428.3) scale(0.8,1)" font-size="5.6" font-weight="bold">Arg212</text>
<text transform="translate(259.6,467.7) scale(0.8,1)" font-size="5.6" font-weight="bold">Ala305</text>
<text transform="translate(306.5,490.2) scale(0.8,1)" font-size="5.6" font-weight="bold">Thr309</text>
<text transform="translate(375.8,458.1) scale(0.8,1)" font-size="5.6" font-weight="bold">Ser119</text>
<text transform="translate(422.1,456.1) scale(0.8,1)" font-size="5.6" font-weight="bold">Ile301</text>
</g>
<g>
<path d="M86.75,298.25L110.9,283" stroke="#00c000" stroke-width="0.9" stroke-dasharray="2 1.2" fill="none"/>
<path d="M312.5,304.4L330.75,281.7" stroke="#00c000" stroke-width="0.9" stroke-dasharray="2 1.2" fill="none"/>
<circle cx="68.25" cy="316.75" r="4.0" fill="none" stroke="#ff6a6a" stroke-width="1.1" stroke-dasharray="0.6 0.8" opacity="0.75"/>
<circle cx="64.25" cy="365.7" r="4.0" fill="none" stroke="#ff6a6a" stroke-width="1.1" stroke-dasharray="0.6 0.8" opacity="0.75"/>
<path d="M72,283.3L75,295 M75,295L86.75,298.25 M75,295L66.25,303.75 M66.25,303.75L68.25,316.75 M68.25,316.75L55.6,324.7 M55.6,324.7L60,337.8 M60,337.8L50.5,349.25 M50.5,349.25L36.8,346.5 M50.5,349.25L53,362.5 M53,362.5L64.25,365.7" stroke="#ff8c00" stroke-width="1.5" fill="none" stroke-linecap="round"/>
<circle cx="72" cy="283.3" r="3.2" fill="#0a0aff"/>
<circle cx="75" cy="295" r="3.2" fill="#000"/>
<circle cx="86.75" cy="298.25" r="3.2" fill="#0a0aff"/>
<circle cx="66.25" cy="303.75" r="3.2" fill="#0a0aff"/>
<circle cx="68.25" cy="316.75" r="3.2" fill="#000"/>
<circle cx="55.6" cy="324.7" r="3.2" fill="#000"/>
<circle cx="60" cy="337.8" r="3.2" fill="#000"/>
<circle cx="50.5" cy="349.25" r="3.2" fill="#000"/>
<circle cx="36.8" cy="346.5" r="3.2" fill="#0a0aff"/>
<circle cx="53" cy="362.5" r="3.2" fill="#000"/>
<circle cx="64.25" cy="365.7" r="3.2" fill="#ff0a0a"/>
<g font-family="'Liberation Sans', sans-serif" font-weight="bold" font-size="2.3" fill="#000">
<text x="33.8" y="344.1" text-anchor="end">N</text>
<text x="53.5" y="346.9" text-anchor="start">CA</text>
<text x="57.0" y="342.4" text-anchor="end">CB</text>
<text x="58.6" y="322.3" text-anchor="start">CG</text>
<text x="71.2" y="314.4" text-anchor="start">CD</text>
<text x="69.2" y="301.4" text-anchor="start">NE</text>
<text x="72.0" y="299.6" text-anchor="end">CZ</text>
<text x="75.0" y="280.9" text-anchor="start">NH1</text>
<text x="89.8" y="295.9" text-anchor="start">NH2</text>
<text x="50.0" y="360.1" text-anchor="end">C</text>
<text x="67.2" y="363.3" text-anchor="start">O</text>
</g>
<circle cx="110.9" cy="283" r="4.0" fill="none" stroke="#ff6a6a" stroke-width="1.1" stroke-dasharray="0.6 0.8" opacity="0.75"/>
<circle cx="121.2" cy="288.9" r="4.0" fill="none" stroke="#ff6a6a" stroke-width="1.1" stroke-dasharray="0.6 0.8" opacity="0.75"/>
<circle cx="132.4" cy="281.3" r="4.0" fill="none" stroke="#ff6a6a" stroke-width="1.1" stroke-dasharray="0.6 0.8" opacity="0.75"/>
<circle cx="110.7" cy="308" r="4.0" fill="none" stroke="#ff6a6a" stroke-width="1.1" stroke-dasharray="0.6 0.8" opacity="0.75"/>
<circle cx="132.5" cy="307.3" r="4.0" fill="none" stroke="#ff6a6a" stroke-width="1.1" stroke-dasharray="0.6 0.8" opacity="0.75"/>
<circle cx="110.8" cy="321.3" r="4.0" fill="none" stroke="#ff6a6a" stroke-width="1.1" stroke-dasharray="0.6 0.8" opacity="0.75"/>
<circle cx="133.3" cy="320" r="4.0" fill="none" stroke="#ff6a6a" stroke-width="1.1" stroke-dasharray="0.6 0.8" opacity="0.75"/>
<circle cx="113.25" cy="345.75" r="4.0" fill="none" stroke="#ff6a6a" stroke-width="1.1" stroke-dasharray="0.6 0.8" opacity="0.75"/>
<circle cx="135" cy="344.5" r="4.0" fill="none" stroke="#ff6a6a" stroke-width="1.1" stroke-dasharray="0.6 0.8" opacity="0.75"/>
<circle cx="113.75" cy="358.25" r="4.0" fill="none" stroke="#ff6a6a" stroke-width="1.1" stroke-dasharray="0.6 0.8" opacity="0.75"/>
<circle cx="135.75" cy="357.5" r="4.0" fill="none" stroke="#ff6a6a" stroke-width="1.1" stroke-dasharray="0.6 0.8" opacity="0.75"/>
<circle cx="125" cy="364.5" r="4.0" fill="none" stroke="#ff6a6a" stroke-width="1.1" stroke-dasharray="0.6 0.8" opacity="0.75"/>
<circle cx="115" cy="384.5" r="4.0" fill="none" stroke="#ff6a6a" stroke-width="1.1" stroke-dasharray="0.6 0.8" opacity="0.75"/>
<circle cx="107.5" cy="407.2" r="4.0" fill="none" stroke="#ff6a6a" stroke-width="1.1" stroke-dasharray="0.6 0.8" opacity="0.75"/>
<circle cx="122.5" cy="431.25" r="4.0" fill="none" stroke="#ff6a6a" stroke-width="1.1" stroke-dasharray="0.6 0.8" opacity="0.75"/>
<circle cx="131.25" cy="389.5" r="4.0" fill="none" stroke="#ff6a6a" stroke-width="1.1" stroke-dasharray="0.6 0.8" opacity="0.75"/>
<circle cx="153.8" cy="397.7" r="4.0" fill="none" stroke="#ff6a6a" stroke-width="1.1" stroke-dasharray="0.6 0.8" opacity="0.75"/>
<circle cx="163.6" cy="405.9" r="4.0" fill="none" stroke="#ff6a6a" stroke-width="1.1" stroke-dasharray="0.6 0.8" opacity="0.75"/>
<circle cx="178.7" cy="401.4" r="4.0" fill="none" stroke="#ff6a6a" stroke-width="1.1" stroke-dasharray="0.6 0.8" opacity="0.75"/>
<circle cx="161.3" cy="418.5" r="4.0" fill="none" stroke="#ff6a6a" stroke-width="1.1" stroke-dasharray="0.6 0.8" opacity="0.75"/>
<circle cx="149.2" cy="421.4" r="4.0" fill="none" stroke="#ff6a6a" stroke-width="1.1" stroke-dasharray="0.6 0.8" opacity="0.75"/>
<circle cx="100.8" cy="425.5" r="4.0" fill="none" stroke="#ff6a6a" stroke-width="1.1" stroke-dasharray="0.6 0.8" opacity="0.75"/>
<circle cx="90" cy="432.5" r="4.0" fill="none" stroke="#ff6a6a" stroke-width="1.1" stroke-dasharray="0.6 0.8" opacity="0.75"/>
<circle cx="92.5" cy="444.5" r="4.0" fill="none" stroke="#ff6a6a" stroke-width="1.1" stroke-dasharray="0.6 0.8" opacity="0.75"/>
<circle cx="104.5" cy="445" r="4.0" fill="none" stroke="#ff6a6a" stroke-width="1.1" stroke-dasharray="0.6 0.8" opacity="0.75"/>
<circle cx="125.75" cy="377" r="4.0" fill="none" stroke="#ff6a6a" stroke-width="1.1" stroke-dasharray="0.6 0.8" opacity="0.75"/>
<path d="M110.9,283L121.2,288.9 M121.2,288.9L132.4,281.3 M121.2,288.9L121.3,301.3 M121.3,301.3L110.7,308 M121.3,301.3L132.5,307.3 M110.7,308L110.8,321.3 M132.5,307.3L133.3,320 M110.8,321.3L122.5,327 M133.3,320L122.5,327 M122.5,327L123.75,338.75 M123.75,338.75L113.25,345.75 M123.75,338.75L135,344.5 M113.25,345.75L113.75,358.25 M135,344.5L135.75,357.5 M113.75,358.25L125,364.5 M135.75,357.5L125,364.5 M125,364.5L125.75,377 M125.75,377L115,384.5 M115,384.5L116.75,398.25 M116.75,398.25L127.5,404.3 M116.75,398.25L107.5,407.2 M107.5,407.2L112.8,418.75 M112.8,418.75L126.25,417 M127.5,404.3L126.25,417 M126.25,417L122.5,431.25 M126.25,417L139.5,412.3 M139.5,412.3L142.7,400.5 M142.7,400.5L131.25,389.5 M142.7,400.5L153.8,397.7 M153.8,397.7L163.6,405.9 M163.6,405.9L178.7,401.4 M163.6,405.9L161.3,418.5 M161.3,418.5L149.2,421.4 M149.2,421.4L139.5,412.3 M122.5,431.25L109.5,433.5 M109.5,433.5L100.8,425.5 M100.8,425.5L90,432.5 M90,432.5L92.5,444.5 M92.5,444.5L104.5,445 M104.5,445L109.5,433.5" stroke="#9a00ff" stroke-width="1.65" fill="none" stroke-linecap="round"/>
<circle cx="110.9" cy="283" r="3.2" fill="#ff0a0a"/>
<circle cx="121.2" cy="288.9" r="3.2" fill="#000"/>
<circle cx="132.4" cy="281.3" r="3.2" fill="#000"/>
<circle cx="121.3" cy="301.3" r="3.2" fill="#0a0aff"/>
<circle cx="110.7" cy="308" r="3.2" fill="#000"/>
<circle cx="132.5" cy="307.3" r="3.2" fill="#000"/>
<circle cx="110.8" cy="321.3" r="3.2" fill="#000"/>
<circle cx="133.3" cy="320" r="3.2" fill="#000"/>
<circle cx="122.5" cy="327" r="3.2" fill="#0a0aff"/>
<circle cx="123.75" cy="338.75" r="3.2" fill="#000"/>
<circle cx="113.25" cy="345.75" r="3.2" fill="#000"/>
<circle cx="135" cy="344.5" r="3.2" fill="#000"/>
<circle cx="113.75" cy="358.25" r="3.2" fill="#000"/>
<circle cx="135.75" cy="357.5" r="3.2" fill="#000"/>
<circle cx="125" cy="364.5" r="3.2" fill="#000"/>
<circle cx="125.75" cy="377" r="3.2" fill="#ff0a0a"/>
<circle cx="115" cy="384.5" r="3.2" fill="#000"/>
<circle cx="116.75" cy="398.25" r="3.2" fill="#000"/>
<circle cx="127.5" cy="404.3" r="3.2" fill="#ff0a0a"/>
<circle cx="107.5" cy="407.2" r="3.2" fill="#000"/>
<circle cx="112.8" cy="418.75" r="3.2" fill="#ff0a0a"/>
<circle cx="126.25" cy="417" r="3.2" fill="#000"/>
<circle cx="122.5" cy="431.25" r="3.2" fill="#000"/>
<circle cx="139.5" cy="412.3" r="3.2" fill="#000"/>
<circle cx="142.7" cy="400.5" r="3.2" fill="#000"/>
<circle cx="131.25" cy="389.5" r="3.2" fill="#000"/>
<circle cx="153.8" cy="397.7" r="3.2" fill="#000"/>
<circle cx="163.6" cy="405.9" r="3.2" fill="#000"/>
<circle cx="178.7" cy="401.4" r="3.2" fill="#000"/>
<circle cx="161.3" cy="418.5" r="3.2" fill="#000"/>
<circle cx="149.2" cy="421.4" r="3.2" fill="#000"/>
<circle cx="109.5" cy="433.5" r="3.2" fill="#0a0aff"/>
<circle cx="100.8" cy="425.5" r="3.2" fill="#000"/>
<circle cx="90" cy="432.5" r="3.2" fill="#000"/>
<circle cx="92.5" cy="444.5" r="3.2" fill="#0a0aff"/>
<circle cx="104.5" cy="445" r="3.2" fill="#000"/>
<g font-family="'Liberation Sans', sans-serif" font-weight="bold" font-size="2.3" fill="#000">
<text x="113.9" y="280.6" text-anchor="start">O4</text>
<text x="118.2" y="293.5" text-anchor="end">C29</text>
<text x="135.4" y="278.9" text-anchor="start">C30</text>
<text x="124.3" y="298.9" text-anchor="start">N4</text>
<text x="107.7" y="305.6" text-anchor="end">C31</text>
<text x="135.5" y="304.9" text-anchor="start">C32</text>
<text x="107.8" y="318.9" text-anchor="end">C34</text>
<text x="136.3" y="317.6" text-anchor="start">C33</text>
<text x="119.5" y="331.6" text-anchor="end">N3</text>
<text x="126.8" y="336.4" text-anchor="start">C26</text>
<text x="110.2" y="343.4" text-anchor="end">C27</text>
<text x="138.0" y="342.1" text-anchor="start">C25</text>
<text x="110.8" y="355.9" text-anchor="end">C28</text>
<text x="138.8" y="355.1" text-anchor="start">C24</text>
<text x="122.0" y="369.1" text-anchor="end">C23</text>
<text x="128.8" y="374.6" text-anchor="start">O3</text>
<text x="112.0" y="382.1" text-anchor="end">C16</text>
<text x="113.8" y="395.9" text-anchor="end">C4</text>
<text x="130.5" y="401.9" text-anchor="start">O1</text>
<text x="104.5" y="404.8" text-anchor="end">C5</text>
<text x="109.8" y="423.4" text-anchor="end">O2</text>
<text x="123.2" y="414.6" text-anchor="end">C3</text>
<text x="125.5" y="428.9" text-anchor="start">C14</text>
<text x="142.5" y="409.9" text-anchor="start">C8</text>
<text x="139.7" y="405.1" text-anchor="end">C9</text>
<text x="134.2" y="387.1" text-anchor="start">Cl2</text>
<text x="156.8" y="395.3" text-anchor="start">C10</text>
<text x="166.6" y="410.5" text-anchor="start">C11</text>
<text x="181.7" y="399.0" text-anchor="start">Cl1</text>
<text x="165.1" y="419.5" text-anchor="start">C12</text>
<text x="146.2" y="426.0" text-anchor="end">C13</text>
<text x="112.5" y="438.1" text-anchor="start">N1</text>
<text x="103.8" y="423.1" text-anchor="start">C1 N2</text>
<text x="87.0" y="430.1" text-anchor="end">C2</text>
<text x="95.5" y="442.1" text-anchor="start">N2</text>
<text x="101.5" y="442.6" text-anchor="end">C3</text>
</g>
<circle cx="291" cy="286.4" r="4.0" fill="none" stroke="#ff6a6a" stroke-width="1.1" stroke-dasharray="0.6 0.8" opacity="0.75"/>
<circle cx="301.1" cy="308.5" r="4.0" fill="none" stroke="#ff6a6a" stroke-width="1.1" stroke-dasharray="0.6 0.8" opacity="0.75"/>
<path d="M258.3,261L250,269.1 M250,269.1L252.6,283.7 M252.6,283.7L239.4,289.8 M252.6,283.7L266.4,290.2 M266.4,290.2L277,279.7 M277,279.7L291,286.4 M291,286.4L290.6,300.6 M290.6,300.6L301.1,308.5 M301.1,308.5L312.5,304.4 M301.1,308.5L300,321.3" stroke="#ff8c00" stroke-width="1.5" fill="none" stroke-linecap="round"/>
<circle cx="258.3" cy="261" r="3.2" fill="#ff0a0a"/>
<circle cx="250" cy="269.1" r="3.2" fill="#000"/>
<circle cx="252.6" cy="283.7" r="3.2" fill="#000"/>
<circle cx="239.4" cy="289.8" r="3.2" fill="#0a0aff"/>
<circle cx="266.4" cy="290.2" r="3.2" fill="#000"/>
<circle cx="277" cy="279.7" r="3.2" fill="#000"/>
<circle cx="291" cy="286.4" r="3.2" fill="#000"/>
<circle cx="290.6" cy="300.6" r="3.2" fill="#0a0aff"/>
<circle cx="301.1" cy="308.5" r="3.2" fill="#000"/>
<circle cx="312.5" cy="304.4" r="3.2" fill="#0a0aff"/>
<circle cx="300" cy="321.3" r="3.2" fill="#0a0aff"/>
<g font-family="'Liberation Sans', sans-serif" font-weight="bold" font-size="2.6" fill="#000">
<text x="236.4" y="287.4" text-anchor="end">N</text>
<text x="255.6" y="281.3" text-anchor="start">CA</text>
<text x="263.4" y="294.8" text-anchor="end">CB</text>
<text x="280.0" y="277.3" text-anchor="start">CG</text>
<text x="294.0" y="284.0" text-anchor="start">CD</text>
<text x="293.6" y="298.2" text-anchor="start">NE</text>
<text x="298.1" y="313.1" text-anchor="end">CZ</text>
<text x="303.0" y="318.9" text-anchor="start">NH1</text>
<text x="315.5" y="302.0" text-anchor="start">NH2</text>
<text x="247.0" y="266.7" text-anchor="end">C</text>
<text x="261.3" y="258.6" text-anchor="start">O</text>
</g>
<circle cx="330.75" cy="281.7" r="4.0" fill="none" stroke="#ff6a6a" stroke-width="1.1" stroke-dasharray="0.6 0.8" opacity="0.75"/>
<circle cx="340.9" cy="287.8" r="4.0" fill="none" stroke="#ff6a6a" stroke-width="1.1" stroke-dasharray="0.6 0.8" opacity="0.75"/>
<circle cx="354.1" cy="280.1" r="4.0" fill="none" stroke="#ff6a6a" stroke-width="1.1" stroke-dasharray="0.6 0.8" opacity="0.75"/>
<circle cx="354.1" cy="308.1" r="4.0" fill="none" stroke="#ff6a6a" stroke-width="1.1" stroke-dasharray="0.6 0.8" opacity="0.75"/>
<circle cx="352.9" cy="322.8" r="4.0" fill="none" stroke="#ff6a6a" stroke-width="1.1" stroke-dasharray="0.6 0.8" opacity="0.75"/>
<circle cx="329.8" cy="363.2" r="4.0" fill="none" stroke="#ff6a6a" stroke-width="1.1" stroke-dasharray="0.6 0.8" opacity="0.75"/>
<circle cx="341.6" cy="369.9" r="4.0" fill="none" stroke="#ff6a6a" stroke-width="1.1" stroke-dasharray="0.6 0.8" opacity="0.75"/>
<circle cx="329.6" cy="390.4" r="4.0" fill="none" stroke="#ff6a6a" stroke-width="1.1" stroke-dasharray="0.6 0.8" opacity="0.75"/>
<circle cx="363.4" cy="404.7" r="4.0" fill="none" stroke="#ff6a6a" stroke-width="1.1" stroke-dasharray="0.6 0.8" opacity="0.75"/>
<circle cx="375.6" cy="399.9" r="4.0" fill="none" stroke="#ff6a6a" stroke-width="1.1" stroke-dasharray="0.6 0.8" opacity="0.75"/>
<circle cx="386.5" cy="408.5" r="4.0" fill="none" stroke="#ff6a6a" stroke-width="1.1" stroke-dasharray="0.6 0.8" opacity="0.75"/>
<circle cx="401.8" cy="402" r="4.0" fill="none" stroke="#ff6a6a" stroke-width="1.1" stroke-dasharray="0.6 0.8" opacity="0.75"/>
<circle cx="385.4" cy="422.2" r="4.0" fill="none" stroke="#ff6a6a" stroke-width="1.1" stroke-dasharray="0.6 0.8" opacity="0.75"/>
<circle cx="319.8" cy="436.6" r="4.0" fill="none" stroke="#ff6a6a" stroke-width="1.1" stroke-dasharray="0.6 0.8" opacity="0.75"/>
<circle cx="309.7" cy="444.2" r="4.0" fill="none" stroke="#ff6a6a" stroke-width="1.1" stroke-dasharray="0.6 0.8" opacity="0.75"/>
<circle cx="313.2" cy="457.2" r="4.0" fill="none" stroke="#ff6a6a" stroke-width="1.1" stroke-dasharray="0.6 0.8" opacity="0.75"/>
<circle cx="326.4" cy="457.2" r="4.0" fill="none" stroke="#ff6a6a" stroke-width="1.1" stroke-dasharray="0.6 0.8" opacity="0.75"/>
<circle cx="347.1" cy="425" r="4.0" fill="none" stroke="#ff6a6a" stroke-width="1.1" stroke-dasharray="0.6 0.8" opacity="0.75"/>
<circle cx="342" cy="382.7" r="4.0" fill="none" stroke="#ff6a6a" stroke-width="1.1" stroke-dasharray="0.6 0.8" opacity="0.75"/>
<circle cx="329.8" cy="349.2" r="4.0" fill="none" stroke="#ff6a6a" stroke-width="1.1" stroke-dasharray="0.6 0.8" opacity="0.75"/>
<path d="M330.75,281.7L340.9,287.8 M340.9,287.8L354.1,280.1 M340.9,287.8L340.5,301 M340.5,301L328.3,308.1 M340.5,301L354.1,308.1 M328.3,308.1L328.8,323.2 M354.1,308.1L352.9,322.8 M328.8,323.2L341.1,329.6 M352.9,322.8L341.1,329.6 M341.1,329.6L341.6,342.5 M341.6,342.5L329.8,349.2 M341.6,342.5L353.4,349.2 M329.8,349.2L329.8,363.2 M353.4,349.2L353.2,362.8 M329.8,363.2L341.6,369.9 M353.2,362.8L341.6,369.9 M341.6,369.9L342,382.7 M342,382.7L329.6,390.4 M329.6,390.4L333.7,405 M333.7,405L346.9,410 M333.7,405L325.4,416.5 M325.4,416.5L333.5,428.2 M333.5,428.2L347.1,425 M346.9,410L347.1,425 M347.1,425L345.1,439.8 M347.1,425L360.9,418.6 M360.9,418.6L363.4,404.7 M363.4,404.7L350.1,394.6 M363.4,404.7L375.6,399.9 M375.6,399.9L386.5,408.5 M386.5,408.5L401.8,402 M386.5,408.5L385.4,422.2 M385.4,422.2L372.2,427 M372.2,427L360.9,418.6 M345.1,439.8L330.9,444.5 M330.9,444.5L319.8,436.6 M319.8,436.6L309.7,444.2 M309.7,444.2L313.2,457.2 M313.2,457.2L326.4,457.2 M326.4,457.2L330.9,444.5" stroke="#9a00ff" stroke-width="1.65" fill="none" stroke-linecap="round"/>
<circle cx="330.75" cy="281.7" r="3.2" fill="#ff0a0a"/>
<circle cx="340.9" cy="287.8" r="3.2" fill="#000"/>
<circle cx="354.1" cy="280.1" r="3.2" fill="#000"/>
<circle cx="340.5" cy="301" r="3.2" fill="#0a0aff"/>
<circle cx="328.3" cy="308.1" r="3.2" fill="#000"/>
<circle cx="354.1" cy="308.1" r="3.2" fill="#000"/>
<circle cx="328.8" cy="323.2" r="3.2" fill="#000"/>
<circle cx="352.9" cy="322.8" r="3.2" fill="#000"/>
<circle cx="341.1" cy="329.6" r="3.2" fill="#0a0aff"/>
<circle cx="341.6" cy="342.5" r="3.2" fill="#000"/>
<circle cx="329.8" cy="349.2" r="3.2" fill="#000"/>
<circle cx="353.4" cy="349.2" r="3.2" fill="#000"/>
<circle cx="329.8" cy="363.2" r="3.2" fill="#000"/>
<circle cx="353.2" cy="362.8" r="3.2" fill="#000"/>
<circle cx="341.6" cy="369.9" r="3.2" fill="#000"/>
<circle cx="342" cy="382.7" r="3.2" fill="#ff0a0a"/>
<circle cx="329.6" cy="390.4" r="3.2" fill="#000"/>
<circle cx="333.7" cy="405" r="3.2" fill="#000"/>
<circle cx="346.9" cy="410" r="3.2" fill="#ff0a0a"/>
<circle cx="325.4" cy="416.5" r="3.2" fill="#000"/>
<circle cx="333.5" cy="428.2" r="3.2" fill="#ff0a0a"/>
<circle cx="347.1" cy="425" r="3.2" fill="#000"/>
<circle cx="345.1" cy="439.8" r="3.2" fill="#000"/>
<circle cx="360.9" cy="418.6" r="3.2" fill="#000"/>
<circle cx="363.4" cy="404.7" r="3.2" fill="#000"/>
<circle cx="350.1" cy="394.6" r="3.2" fill="#000"/>
<circle cx="375.6" cy="399.9" r="3.2" fill="#000"/>
<circle cx="386.5" cy="408.5" r="3.2" fill="#000"/>
<circle cx="401.8" cy="402" r="3.2" fill="#000"/>
<circle cx="385.4" cy="422.2" r="3.2" fill="#000"/>
<circle cx="372.2" cy="427" r="3.2" fill="#000"/>
<circle cx="330.9" cy="444.5" r="3.2" fill="#0a0aff"/>
<circle cx="319.8" cy="436.6" r="3.2" fill="#000"/>
<circle cx="309.7" cy="444.2" r="3.2" fill="#000"/>
<circle cx="313.2" cy="457.2" r="3.2" fill="#0a0aff"/>
<circle cx="326.4" cy="457.2" r="3.2" fill="#000"/>
<g font-family="'Liberation Sans', sans-serif" font-weight="bold" font-size="2.6" fill="#000">
<text x="333.8" y="279.3" text-anchor="start">O4</text>
<text x="337.9" y="292.4" text-anchor="end">C29</text>
<text x="357.1" y="277.7" text-anchor="start">C30</text>
<text x="343.5" y="298.6" text-anchor="start">N4</text>
<text x="325.3" y="305.7" text-anchor="end">C31</text>
<text x="357.1" y="305.7" text-anchor="start">C32</text>
<text x="325.8" y="320.8" text-anchor="end">C34</text>
<text x="355.9" y="320.4" text-anchor="start">C33</text>
<text x="338.1" y="334.2" text-anchor="end">N3</text>
<text x="344.6" y="340.1" text-anchor="start">C26</text>
<text x="326.8" y="346.8" text-anchor="end">C27</text>
<text x="356.4" y="346.8" text-anchor="start">C25</text>
<text x="326.8" y="360.8" text-anchor="end">C28</text>
<text x="356.2" y="360.4" text-anchor="start">C24</text>
<text x="338.6" y="374.5" text-anchor="end">C23</text>
<text x="345.0" y="380.3" text-anchor="start">O3</text>
<text x="326.6" y="388.0" text-anchor="end">C16</text>
<text x="330.7" y="402.6" text-anchor="end">C4</text>
<text x="349.9" y="407.6" text-anchor="start">O1</text>
<text x="322.4" y="414.1" text-anchor="end">C5</text>
<text x="330.5" y="432.8" text-anchor="end">O2</text>
<text x="344.1" y="422.6" text-anchor="end">C3</text>
<text x="348.1" y="437.4" text-anchor="start">C14</text>
<text x="363.9" y="416.2" text-anchor="start">C8</text>
<text x="360.4" y="409.3" text-anchor="end">C9</text>
<text x="353.1" y="392.2" text-anchor="start">Cl2</text>
<text x="378.6" y="397.5" text-anchor="start">C10</text>
<text x="389.5" y="413.1" text-anchor="start">C11</text>
<text x="404.8" y="399.6" text-anchor="start">Cl1</text>
<text x="389.2" y="423.2" text-anchor="start">C12</text>
<text x="369.2" y="431.6" text-anchor="end">C13</text>
<text x="333.9" y="449.1" text-anchor="start">N1</text>
<text x="322.8" y="434.2" text-anchor="start">C1 N2</text>
<text x="306.7" y="441.8" text-anchor="end">C2</text>
<text x="316.2" y="454.8" text-anchor="start">N2</text>
<text x="323.4" y="454.8" text-anchor="end">C3</text>
</g>
</g>
<g font-family="'Liberation Serif', serif" font-weight="bold">
<text x="55.3" y="295.8" font-size="5.5" fill="#0cae0c" stroke="#0cae0c" stroke-width="0.15" text-anchor="middle">Arg372</text>
<text x="277.2" y="272" font-size="5.7" fill="#0cae0c" stroke="#0cae0c" stroke-width="0.15" text-anchor="middle">Arg372</text>
<text x="100.6" y="373.1" font-size="7.1" fill="#1414ff" text-anchor="middle">KLN</text>
<text x="316" y="338.1" font-size="7.7" fill="#1414ff" text-anchor="middle">KLN</text>
<text transform="translate(98.3,292.3) rotate(-32)" font-size="4.2" fill="#10b010" text-anchor="middle">3.16</text>
<text transform="translate(322.3,294.5) rotate(-51)" font-size="4.2" fill="#10b010" text-anchor="middle">2.97</text>
</g>
<g font-family="'Liberation Serif', serif" fill="#000" stroke="#000" stroke-width="0.12">
<text x="47.8" y="508" font-size="6.3" textLength="132.5" lengthAdjust="spacingAndGlyphs">The meaning of the items on the plot is as follows:</text>
<text x="95" y="524.9" font-size="7.1" textLength="39" lengthAdjust="spacingAndGlyphs">Ligand bond</text>
<text x="95" y="536.6" font-size="7.1" textLength="53" lengthAdjust="spacingAndGlyphs">Non-ligand bond</text>
<text x="95" y="548" font-size="7.1" textLength="92.5" lengthAdjust="spacingAndGlyphs">Hydrogen bond and its length</text>
<text x="239" y="525.6" font-size="6.6" textLength="139.7" lengthAdjust="spacingAndGlyphs">Non-ligand residues involved in hydrophobic</text>
<text x="239" y="533.4" font-size="6.6" textLength="31" lengthAdjust="spacingAndGlyphs">contact(s)</text>
<text x="239" y="547.8" font-size="6.6" textLength="178.6" lengthAdjust="spacingAndGlyphs">Corresponding atoms involved in hydrophobic contact(s)</text>
<text x="222" y="526.2" font-size="5.2" text-anchor="middle" textLength="15.5" lengthAdjust="spacingAndGlyphs">His 53</text>
</g>
<path d="M60,522.9H80" stroke="#9a00ff" stroke-width="2.4" fill="none"/>
<path d="M60,534.5H80" stroke="#ff8c00" stroke-width="1.7" fill="none"/>
<path d="M62.3,545.8H65.5M75.5,545.8H79.5" stroke="#00a800" stroke-width="1.3" stroke-dasharray="1.8 0.8" fill="none"/>
<text x="70.5" y="546.8" font-family="'Liberation Sans', sans-serif" font-weight="bold" font-size="3" fill="#00a800" text-anchor="middle">3.04</text>
<ellipse cx="57.4" cy="522.9" rx="4.1" ry="3.3" fill="#0a0aff"/>
<ellipse cx="82.8" cy="522.9" rx="4.1" ry="3.3" fill="#000"/>
<ellipse cx="57.4" cy="534.5" rx="4.1" ry="3.3" fill="#0a0aff"/>
<ellipse cx="82.8" cy="534.5" rx="4.1" ry="3.3" fill="#000"/>
<ellipse cx="57.4" cy="545.8" rx="4.1" ry="3.3" fill="#0a0aff"/>
<ellipse cx="82.8" cy="545.8" rx="4.1" ry="3.3" fill="#ff0a0a"/>
<g fill="none" stroke="#ff1414" stroke-width="0.9">
<path d="M230.8,527.1 L230.2,527.6 L229.6,528.1 L228.9,528.5 L228.3,528.9 L227.6,529.3 L226.9,529.6 L226.1,529.9 L225.4,530.1 L224.6,530.3 L223.9,530.4 L223.1,530.5 L222.3,530.5 L221.5,530.5 L220.7,530.4 L220.0,530.3 L219.2,530.1 L218.5,529.9 L217.7,529.6 L217.0,529.3 L216.3,528.9 L215.7,528.5 L215.0,528.1 L214.4,527.6 L213.8,527.1 M230.8,527.1L232.7,529.1 M229.5,528.2L231.1,530.4 M228.0,529.1L229.3,531.5 M226.5,529.8L227.4,532.4 M224.8,530.2L225.4,533.0 M223.2,530.5L223.3,533.3 M221.4,530.5L221.3,533.3 M219.8,530.2L219.2,533.0 M218.1,529.8L217.2,532.4 M216.6,529.1L215.3,531.5 M215.1,528.2L213.5,530.4 M213.8,527.1L211.9,529.1"/>
</g>
<ellipse cx="221.4" cy="545.6" rx="5.2" ry="4.6" fill="none" stroke="#ff8a8a" stroke-width="1" stroke-dasharray="0.7 0.9"/>
<ellipse cx="221.4" cy="546.1" rx="4.2" ry="3.5" fill="#000"/>
</svg>
</body></html>
